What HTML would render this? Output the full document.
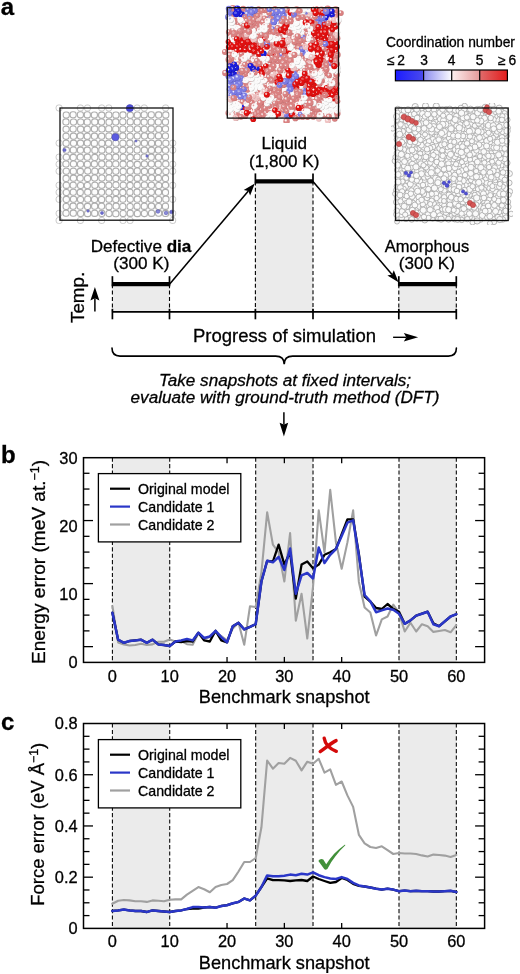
<!DOCTYPE html>
<html><head><meta charset="utf-8"><title>Figure</title>
<style>
html,body{margin:0;padding:0;background:#fff;width:520px;height:974px;overflow:hidden;}
svg{display:block;filter:blur(0.3px);}
text{font-family:"Liberation Sans",Arial,sans-serif;fill:#000;stroke:#000;stroke-width:0.3px;}
</style></head><body>
<svg width="520" height="974" viewBox="0 0 520 974">
<defs><clipPath id="clipC"><rect x="55" y="103" width="124" height="122"/></clipPath></defs>
<g clip-path="url(#clipC)">
<rect x="56.1" y="104.97" width="6" height="6" rx="2.4" fill="#fff" stroke="#c4c4c4" stroke-width="0.9"/>
<rect x="77.4" y="104.97" width="6" height="6" rx="2.4" fill="#fff" stroke="#c4c4c4" stroke-width="0.9"/>
<rect x="84.5" y="104.97" width="6" height="6" rx="2.4" fill="#fff" stroke="#c4c4c4" stroke-width="0.9"/>
<rect x="98.7" y="104.97" width="6" height="6" rx="2.4" fill="#fff" stroke="#c4c4c4" stroke-width="0.9"/>
<rect x="105.8" y="104.97" width="6" height="6" rx="2.4" fill="#fff" stroke="#c4c4c4" stroke-width="0.9"/>
<rect x="127.1" y="104.97" width="6" height="6" rx="2.4" fill="#fff" stroke="#c4c4c4" stroke-width="0.9"/>
<rect x="134.2" y="104.97" width="6" height="6" rx="2.4" fill="#fff" stroke="#c4c4c4" stroke-width="0.9"/>
<rect x="141.3" y="104.97" width="6" height="6" rx="2.4" fill="#fff" stroke="#c4c4c4" stroke-width="0.9"/>
<rect x="162.6" y="104.97" width="6" height="6" rx="2.4" fill="#fff" stroke="#c4c4c4" stroke-width="0.9"/>
<rect x="63.23" y="112.01" width="6.1" height="6.1" rx="2.5" fill="#fdfdfd" stroke="#adadad" stroke-width="1.1"/>
<rect x="70.08" y="111.71" width="6.1" height="6.1" rx="2.5" fill="#fdfdfd" stroke="#adadad" stroke-width="1.1"/>
<rect x="77.36" y="111.73" width="6.1" height="6.1" rx="2.5" fill="#fdfdfd" stroke="#adadad" stroke-width="1.1"/>
<rect x="84.3" y="111.82" width="6.1" height="6.1" rx="2.5" fill="#fdfdfd" stroke="#adadad" stroke-width="1.1"/>
<rect x="91.32" y="111.93" width="6.1" height="6.1" rx="2.5" fill="#fdfdfd" stroke="#adadad" stroke-width="1.1"/>
<rect x="98.62" y="112.12" width="6.1" height="6.1" rx="2.5" fill="#fdfdfd" stroke="#adadad" stroke-width="1.1"/>
<rect x="105.76" y="112.02" width="6.1" height="6.1" rx="2.5" fill="#fdfdfd" stroke="#adadad" stroke-width="1.1"/>
<rect x="112.85" y="112.03" width="6.1" height="6.1" rx="2.5" fill="#fdfdfd" stroke="#adadad" stroke-width="1.1"/>
<rect x="119.93" y="111.84" width="6.1" height="6.1" rx="2.5" fill="#fdfdfd" stroke="#adadad" stroke-width="1.1"/>
<rect x="127.3" y="112.2" width="6.1" height="6.1" rx="2.5" fill="#fdfdfd" stroke="#adadad" stroke-width="1.1"/>
<rect x="134.32" y="112.05" width="6.1" height="6.1" rx="2.5" fill="#fdfdfd" stroke="#adadad" stroke-width="1.1"/>
<rect x="141.16" y="111.81" width="6.1" height="6.1" rx="2.5" fill="#fdfdfd" stroke="#adadad" stroke-width="1.1"/>
<rect x="148.24" y="111.74" width="6.1" height="6.1" rx="2.5" fill="#fdfdfd" stroke="#adadad" stroke-width="1.1"/>
<rect x="155.58" y="111.9" width="6.1" height="6.1" rx="2.5" fill="#fdfdfd" stroke="#adadad" stroke-width="1.1"/>
<rect x="162.72" y="111.89" width="6.1" height="6.1" rx="2.5" fill="#fdfdfd" stroke="#adadad" stroke-width="1.1"/>
<rect x="62.9" y="118.83" width="6.1" height="6.1" rx="2.5" fill="#fdfdfd" stroke="#adadad" stroke-width="1.1"/>
<rect x="70.46" y="118.96" width="6.1" height="6.1" rx="2.5" fill="#fdfdfd" stroke="#adadad" stroke-width="1.1"/>
<rect x="77.59" y="118.93" width="6.1" height="6.1" rx="2.5" fill="#fdfdfd" stroke="#adadad" stroke-width="1.1"/>
<rect x="84.24" y="119.04" width="6.1" height="6.1" rx="2.5" fill="#fdfdfd" stroke="#adadad" stroke-width="1.1"/>
<rect x="91.69" y="118.86" width="6.1" height="6.1" rx="2.5" fill="#fdfdfd" stroke="#adadad" stroke-width="1.1"/>
<rect x="98.44" y="118.9" width="6.1" height="6.1" rx="2.5" fill="#fdfdfd" stroke="#adadad" stroke-width="1.1"/>
<rect x="105.98" y="119.11" width="6.1" height="6.1" rx="2.5" fill="#fdfdfd" stroke="#adadad" stroke-width="1.1"/>
<rect x="112.66" y="118.85" width="6.1" height="6.1" rx="2.5" fill="#fdfdfd" stroke="#adadad" stroke-width="1.1"/>
<rect x="119.75" y="118.76" width="6.1" height="6.1" rx="2.5" fill="#fdfdfd" stroke="#adadad" stroke-width="1.1"/>
<rect x="127.2" y="118.82" width="6.1" height="6.1" rx="2.5" fill="#fdfdfd" stroke="#adadad" stroke-width="1.1"/>
<rect x="134.18" y="118.95" width="6.1" height="6.1" rx="2.5" fill="#fdfdfd" stroke="#adadad" stroke-width="1.1"/>
<rect x="141.1" y="119.1" width="6.1" height="6.1" rx="2.5" fill="#fdfdfd" stroke="#adadad" stroke-width="1.1"/>
<rect x="148.17" y="119.05" width="6.1" height="6.1" rx="2.5" fill="#fdfdfd" stroke="#adadad" stroke-width="1.1"/>
<rect x="155.26" y="118.94" width="6.1" height="6.1" rx="2.5" fill="#fdfdfd" stroke="#adadad" stroke-width="1.1"/>
<rect x="162.41" y="118.86" width="6.1" height="6.1" rx="2.5" fill="#fdfdfd" stroke="#adadad" stroke-width="1.1"/>
<rect x="63.05" y="126.2" width="6.1" height="6.1" rx="2.5" fill="#fdfdfd" stroke="#adadad" stroke-width="1.1"/>
<rect x="70.11" y="125.96" width="6.1" height="6.1" rx="2.5" fill="#fdfdfd" stroke="#adadad" stroke-width="1.1"/>
<rect x="77.53" y="126.08" width="6.1" height="6.1" rx="2.5" fill="#fdfdfd" stroke="#adadad" stroke-width="1.1"/>
<rect x="84.25" y="126.25" width="6.1" height="6.1" rx="2.5" fill="#fdfdfd" stroke="#adadad" stroke-width="1.1"/>
<rect x="91.41" y="125.89" width="6.1" height="6.1" rx="2.5" fill="#fdfdfd" stroke="#adadad" stroke-width="1.1"/>
<rect x="98.79" y="125.92" width="6.1" height="6.1" rx="2.5" fill="#fdfdfd" stroke="#adadad" stroke-width="1.1"/>
<rect x="105.65" y="125.8" width="6.1" height="6.1" rx="2.5" fill="#fdfdfd" stroke="#adadad" stroke-width="1.1"/>
<rect x="112.65" y="126.05" width="6.1" height="6.1" rx="2.5" fill="#fdfdfd" stroke="#adadad" stroke-width="1.1"/>
<rect x="119.82" y="126.06" width="6.1" height="6.1" rx="2.5" fill="#fdfdfd" stroke="#adadad" stroke-width="1.1"/>
<rect x="126.99" y="125.99" width="6.1" height="6.1" rx="2.5" fill="#fdfdfd" stroke="#adadad" stroke-width="1.1"/>
<rect x="134.38" y="126" width="6.1" height="6.1" rx="2.5" fill="#fdfdfd" stroke="#adadad" stroke-width="1.1"/>
<rect x="141.29" y="126.19" width="6.1" height="6.1" rx="2.5" fill="#fdfdfd" stroke="#adadad" stroke-width="1.1"/>
<rect x="148.19" y="125.84" width="6.1" height="6.1" rx="2.5" fill="#fdfdfd" stroke="#adadad" stroke-width="1.1"/>
<rect x="155.65" y="126.17" width="6.1" height="6.1" rx="2.5" fill="#fdfdfd" stroke="#adadad" stroke-width="1.1"/>
<rect x="162.42" y="125.85" width="6.1" height="6.1" rx="2.5" fill="#fdfdfd" stroke="#adadad" stroke-width="1.1"/>
<rect x="63" y="133.27" width="6.1" height="6.1" rx="2.5" fill="#fdfdfd" stroke="#adadad" stroke-width="1.1"/>
<rect x="70.44" y="133.09" width="6.1" height="6.1" rx="2.5" fill="#fdfdfd" stroke="#adadad" stroke-width="1.1"/>
<rect x="77.31" y="132.84" width="6.1" height="6.1" rx="2.5" fill="#fdfdfd" stroke="#adadad" stroke-width="1.1"/>
<rect x="84.22" y="133.27" width="6.1" height="6.1" rx="2.5" fill="#fdfdfd" stroke="#adadad" stroke-width="1.1"/>
<rect x="91.42" y="133.14" width="6.1" height="6.1" rx="2.5" fill="#fdfdfd" stroke="#adadad" stroke-width="1.1"/>
<rect x="98.53" y="133.2" width="6.1" height="6.1" rx="2.5" fill="#fdfdfd" stroke="#adadad" stroke-width="1.1"/>
<rect x="105.8" y="132.94" width="6.1" height="6.1" rx="2.5" fill="#fdfdfd" stroke="#adadad" stroke-width="1.1"/>
<rect x="112.69" y="133.15" width="6.1" height="6.1" rx="2.5" fill="#fdfdfd" stroke="#adadad" stroke-width="1.1"/>
<rect x="119.73" y="132.9" width="6.1" height="6.1" rx="2.5" fill="#fdfdfd" stroke="#adadad" stroke-width="1.1"/>
<rect x="127.08" y="133.22" width="6.1" height="6.1" rx="2.5" fill="#fdfdfd" stroke="#adadad" stroke-width="1.1"/>
<rect x="134.21" y="132.93" width="6.1" height="6.1" rx="2.5" fill="#fdfdfd" stroke="#adadad" stroke-width="1.1"/>
<rect x="141.46" y="132.89" width="6.1" height="6.1" rx="2.5" fill="#fdfdfd" stroke="#adadad" stroke-width="1.1"/>
<rect x="148.11" y="132.92" width="6.1" height="6.1" rx="2.5" fill="#fdfdfd" stroke="#adadad" stroke-width="1.1"/>
<rect x="155.42" y="132.82" width="6.1" height="6.1" rx="2.5" fill="#fdfdfd" stroke="#adadad" stroke-width="1.1"/>
<rect x="162.39" y="132.97" width="6.1" height="6.1" rx="2.5" fill="#fdfdfd" stroke="#adadad" stroke-width="1.1"/>
<rect x="56.1" y="140.12" width="6" height="6" rx="2.4" fill="#fff" stroke="#c4c4c4" stroke-width="0.9"/>
<rect x="63.08" y="140.27" width="6.1" height="6.1" rx="2.5" fill="#fdfdfd" stroke="#adadad" stroke-width="1.1"/>
<rect x="70.49" y="140.15" width="6.1" height="6.1" rx="2.5" fill="#fdfdfd" stroke="#adadad" stroke-width="1.1"/>
<rect x="77.45" y="140.11" width="6.1" height="6.1" rx="2.5" fill="#fdfdfd" stroke="#adadad" stroke-width="1.1"/>
<rect x="84.27" y="139.84" width="6.1" height="6.1" rx="2.5" fill="#fdfdfd" stroke="#adadad" stroke-width="1.1"/>
<rect x="91.31" y="140.28" width="6.1" height="6.1" rx="2.5" fill="#fdfdfd" stroke="#adadad" stroke-width="1.1"/>
<rect x="98.75" y="140.3" width="6.1" height="6.1" rx="2.5" fill="#fdfdfd" stroke="#adadad" stroke-width="1.1"/>
<rect x="105.51" y="140.14" width="6.1" height="6.1" rx="2.5" fill="#fdfdfd" stroke="#adadad" stroke-width="1.1"/>
<rect x="112.84" y="140.19" width="6.1" height="6.1" rx="2.5" fill="#fdfdfd" stroke="#adadad" stroke-width="1.1"/>
<rect x="119.86" y="140.32" width="6.1" height="6.1" rx="2.5" fill="#fdfdfd" stroke="#adadad" stroke-width="1.1"/>
<rect x="126.84" y="140.09" width="6.1" height="6.1" rx="2.5" fill="#fdfdfd" stroke="#adadad" stroke-width="1.1"/>
<rect x="134.27" y="140.27" width="6.1" height="6.1" rx="2.5" fill="#fdfdfd" stroke="#adadad" stroke-width="1.1"/>
<rect x="141.37" y="140.17" width="6.1" height="6.1" rx="2.5" fill="#fdfdfd" stroke="#adadad" stroke-width="1.1"/>
<rect x="148.5" y="140.28" width="6.1" height="6.1" rx="2.5" fill="#fdfdfd" stroke="#adadad" stroke-width="1.1"/>
<rect x="155.38" y="140.16" width="6.1" height="6.1" rx="2.5" fill="#fdfdfd" stroke="#adadad" stroke-width="1.1"/>
<rect x="162.75" y="140.26" width="6.1" height="6.1" rx="2.5" fill="#fdfdfd" stroke="#adadad" stroke-width="1.1"/>
<rect x="169.7" y="140.12" width="6" height="6" rx="2.4" fill="#fff" stroke="#c4c4c4" stroke-width="0.9"/>
<rect x="63.33" y="147.14" width="6.1" height="6.1" rx="2.5" fill="#fdfdfd" stroke="#adadad" stroke-width="1.1"/>
<rect x="70.31" y="147.04" width="6.1" height="6.1" rx="2.5" fill="#fdfdfd" stroke="#adadad" stroke-width="1.1"/>
<rect x="77.39" y="147.15" width="6.1" height="6.1" rx="2.5" fill="#fdfdfd" stroke="#adadad" stroke-width="1.1"/>
<rect x="84.24" y="147.17" width="6.1" height="6.1" rx="2.5" fill="#fdfdfd" stroke="#adadad" stroke-width="1.1"/>
<rect x="91.8" y="147.29" width="6.1" height="6.1" rx="2.5" fill="#fdfdfd" stroke="#adadad" stroke-width="1.1"/>
<rect x="98.76" y="147.04" width="6.1" height="6.1" rx="2.5" fill="#fdfdfd" stroke="#adadad" stroke-width="1.1"/>
<rect x="105.87" y="147.14" width="6.1" height="6.1" rx="2.5" fill="#fdfdfd" stroke="#adadad" stroke-width="1.1"/>
<rect x="112.82" y="147.27" width="6.1" height="6.1" rx="2.5" fill="#fdfdfd" stroke="#adadad" stroke-width="1.1"/>
<rect x="119.74" y="147.23" width="6.1" height="6.1" rx="2.5" fill="#fdfdfd" stroke="#adadad" stroke-width="1.1"/>
<rect x="126.81" y="147.15" width="6.1" height="6.1" rx="2.5" fill="#fdfdfd" stroke="#adadad" stroke-width="1.1"/>
<rect x="134.14" y="146.97" width="6.1" height="6.1" rx="2.5" fill="#fdfdfd" stroke="#adadad" stroke-width="1.1"/>
<rect x="141.35" y="147.1" width="6.1" height="6.1" rx="2.5" fill="#fdfdfd" stroke="#adadad" stroke-width="1.1"/>
<rect x="148.41" y="147.31" width="6.1" height="6.1" rx="2.5" fill="#fdfdfd" stroke="#adadad" stroke-width="1.1"/>
<rect x="155.33" y="146.86" width="6.1" height="6.1" rx="2.5" fill="#fdfdfd" stroke="#adadad" stroke-width="1.1"/>
<rect x="162.45" y="147.19" width="6.1" height="6.1" rx="2.5" fill="#fdfdfd" stroke="#adadad" stroke-width="1.1"/>
<rect x="169.7" y="147.15" width="6" height="6" rx="2.4" fill="#fff" stroke="#c4c4c4" stroke-width="0.9"/>
<rect x="56.1" y="154.18" width="6" height="6" rx="2.4" fill="#fff" stroke="#c4c4c4" stroke-width="0.9"/>
<rect x="63.35" y="154.21" width="6.1" height="6.1" rx="2.5" fill="#fdfdfd" stroke="#adadad" stroke-width="1.1"/>
<rect x="70.22" y="154.33" width="6.1" height="6.1" rx="2.5" fill="#fdfdfd" stroke="#adadad" stroke-width="1.1"/>
<rect x="77.26" y="154.21" width="6.1" height="6.1" rx="2.5" fill="#fdfdfd" stroke="#adadad" stroke-width="1.1"/>
<rect x="84.3" y="154.1" width="6.1" height="6.1" rx="2.5" fill="#fdfdfd" stroke="#adadad" stroke-width="1.1"/>
<rect x="91.7" y="154.34" width="6.1" height="6.1" rx="2.5" fill="#fdfdfd" stroke="#adadad" stroke-width="1.1"/>
<rect x="98.84" y="154.07" width="6.1" height="6.1" rx="2.5" fill="#fdfdfd" stroke="#adadad" stroke-width="1.1"/>
<rect x="105.79" y="154.04" width="6.1" height="6.1" rx="2.5" fill="#fdfdfd" stroke="#adadad" stroke-width="1.1"/>
<rect x="112.67" y="154.13" width="6.1" height="6.1" rx="2.5" fill="#fdfdfd" stroke="#adadad" stroke-width="1.1"/>
<rect x="120.12" y="154.3" width="6.1" height="6.1" rx="2.5" fill="#fdfdfd" stroke="#adadad" stroke-width="1.1"/>
<rect x="127.16" y="154.36" width="6.1" height="6.1" rx="2.5" fill="#fdfdfd" stroke="#adadad" stroke-width="1.1"/>
<rect x="134.04" y="153.96" width="6.1" height="6.1" rx="2.5" fill="#fdfdfd" stroke="#adadad" stroke-width="1.1"/>
<rect x="141.23" y="154.02" width="6.1" height="6.1" rx="2.5" fill="#fdfdfd" stroke="#adadad" stroke-width="1.1"/>
<rect x="148.21" y="154.09" width="6.1" height="6.1" rx="2.5" fill="#fdfdfd" stroke="#adadad" stroke-width="1.1"/>
<rect x="155.51" y="154.13" width="6.1" height="6.1" rx="2.5" fill="#fdfdfd" stroke="#adadad" stroke-width="1.1"/>
<rect x="162.46" y="154.3" width="6.1" height="6.1" rx="2.5" fill="#fdfdfd" stroke="#adadad" stroke-width="1.1"/>
<rect x="56.1" y="161.21" width="6" height="6" rx="2.4" fill="#fff" stroke="#c4c4c4" stroke-width="0.9"/>
<rect x="62.94" y="160.93" width="6.1" height="6.1" rx="2.5" fill="#fdfdfd" stroke="#adadad" stroke-width="1.1"/>
<rect x="70.44" y="160.93" width="6.1" height="6.1" rx="2.5" fill="#fdfdfd" stroke="#adadad" stroke-width="1.1"/>
<rect x="77.45" y="161.2" width="6.1" height="6.1" rx="2.5" fill="#fdfdfd" stroke="#adadad" stroke-width="1.1"/>
<rect x="84.35" y="161.31" width="6.1" height="6.1" rx="2.5" fill="#fdfdfd" stroke="#adadad" stroke-width="1.1"/>
<rect x="91.31" y="160.98" width="6.1" height="6.1" rx="2.5" fill="#fdfdfd" stroke="#adadad" stroke-width="1.1"/>
<rect x="98.63" y="160.92" width="6.1" height="6.1" rx="2.5" fill="#fdfdfd" stroke="#adadad" stroke-width="1.1"/>
<rect x="105.91" y="161.03" width="6.1" height="6.1" rx="2.5" fill="#fdfdfd" stroke="#adadad" stroke-width="1.1"/>
<rect x="112.67" y="160.93" width="6.1" height="6.1" rx="2.5" fill="#fdfdfd" stroke="#adadad" stroke-width="1.1"/>
<rect x="120.01" y="161.13" width="6.1" height="6.1" rx="2.5" fill="#fdfdfd" stroke="#adadad" stroke-width="1.1"/>
<rect x="127.11" y="161.24" width="6.1" height="6.1" rx="2.5" fill="#fdfdfd" stroke="#adadad" stroke-width="1.1"/>
<rect x="134.3" y="161.39" width="6.1" height="6.1" rx="2.5" fill="#fdfdfd" stroke="#adadad" stroke-width="1.1"/>
<rect x="141.34" y="161.01" width="6.1" height="6.1" rx="2.5" fill="#fdfdfd" stroke="#adadad" stroke-width="1.1"/>
<rect x="148.34" y="161" width="6.1" height="6.1" rx="2.5" fill="#fdfdfd" stroke="#adadad" stroke-width="1.1"/>
<rect x="155.21" y="161.15" width="6.1" height="6.1" rx="2.5" fill="#fdfdfd" stroke="#adadad" stroke-width="1.1"/>
<rect x="162.66" y="161" width="6.1" height="6.1" rx="2.5" fill="#fdfdfd" stroke="#adadad" stroke-width="1.1"/>
<rect x="169.7" y="161.21" width="6" height="6" rx="2.4" fill="#fff" stroke="#c4c4c4" stroke-width="0.9"/>
<rect x="56.1" y="168.24" width="6" height="6" rx="2.4" fill="#fff" stroke="#c4c4c4" stroke-width="0.9"/>
<rect x="63.25" y="168.2" width="6.1" height="6.1" rx="2.5" fill="#fdfdfd" stroke="#adadad" stroke-width="1.1"/>
<rect x="70.31" y="168.32" width="6.1" height="6.1" rx="2.5" fill="#fdfdfd" stroke="#adadad" stroke-width="1.1"/>
<rect x="77.3" y="168.34" width="6.1" height="6.1" rx="2.5" fill="#fdfdfd" stroke="#adadad" stroke-width="1.1"/>
<rect x="84.65" y="167.98" width="6.1" height="6.1" rx="2.5" fill="#fdfdfd" stroke="#adadad" stroke-width="1.1"/>
<rect x="91.77" y="168.3" width="6.1" height="6.1" rx="2.5" fill="#fdfdfd" stroke="#adadad" stroke-width="1.1"/>
<rect x="98.46" y="168.17" width="6.1" height="6.1" rx="2.5" fill="#fdfdfd" stroke="#adadad" stroke-width="1.1"/>
<rect x="105.81" y="168.39" width="6.1" height="6.1" rx="2.5" fill="#fdfdfd" stroke="#adadad" stroke-width="1.1"/>
<rect x="112.79" y="168.22" width="6.1" height="6.1" rx="2.5" fill="#fdfdfd" stroke="#adadad" stroke-width="1.1"/>
<rect x="120.14" y="168.34" width="6.1" height="6.1" rx="2.5" fill="#fdfdfd" stroke="#adadad" stroke-width="1.1"/>
<rect x="127.27" y="168.17" width="6.1" height="6.1" rx="2.5" fill="#fdfdfd" stroke="#adadad" stroke-width="1.1"/>
<rect x="134.23" y="168.04" width="6.1" height="6.1" rx="2.5" fill="#fdfdfd" stroke="#adadad" stroke-width="1.1"/>
<rect x="141.36" y="168.35" width="6.1" height="6.1" rx="2.5" fill="#fdfdfd" stroke="#adadad" stroke-width="1.1"/>
<rect x="148.42" y="168.3" width="6.1" height="6.1" rx="2.5" fill="#fdfdfd" stroke="#adadad" stroke-width="1.1"/>
<rect x="155.31" y="168.39" width="6.1" height="6.1" rx="2.5" fill="#fdfdfd" stroke="#adadad" stroke-width="1.1"/>
<rect x="162.79" y="168.43" width="6.1" height="6.1" rx="2.5" fill="#fdfdfd" stroke="#adadad" stroke-width="1.1"/>
<rect x="169.7" y="168.24" width="6" height="6" rx="2.4" fill="#fff" stroke="#c4c4c4" stroke-width="0.9"/>
<rect x="63.06" y="175.42" width="6.1" height="6.1" rx="2.5" fill="#fdfdfd" stroke="#adadad" stroke-width="1.1"/>
<rect x="70.43" y="175.14" width="6.1" height="6.1" rx="2.5" fill="#fdfdfd" stroke="#adadad" stroke-width="1.1"/>
<rect x="77.14" y="175.19" width="6.1" height="6.1" rx="2.5" fill="#fdfdfd" stroke="#adadad" stroke-width="1.1"/>
<rect x="84.48" y="175.35" width="6.1" height="6.1" rx="2.5" fill="#fdfdfd" stroke="#adadad" stroke-width="1.1"/>
<rect x="91.54" y="174.98" width="6.1" height="6.1" rx="2.5" fill="#fdfdfd" stroke="#adadad" stroke-width="1.1"/>
<rect x="98.8" y="175" width="6.1" height="6.1" rx="2.5" fill="#fdfdfd" stroke="#adadad" stroke-width="1.1"/>
<rect x="105.9" y="175.06" width="6.1" height="6.1" rx="2.5" fill="#fdfdfd" stroke="#adadad" stroke-width="1.1"/>
<rect x="112.77" y="175.36" width="6.1" height="6.1" rx="2.5" fill="#fdfdfd" stroke="#adadad" stroke-width="1.1"/>
<rect x="119.77" y="175.04" width="6.1" height="6.1" rx="2.5" fill="#fdfdfd" stroke="#adadad" stroke-width="1.1"/>
<rect x="127.06" y="175.33" width="6.1" height="6.1" rx="2.5" fill="#fdfdfd" stroke="#adadad" stroke-width="1.1"/>
<rect x="134.32" y="175.31" width="6.1" height="6.1" rx="2.5" fill="#fdfdfd" stroke="#adadad" stroke-width="1.1"/>
<rect x="141.47" y="175.22" width="6.1" height="6.1" rx="2.5" fill="#fdfdfd" stroke="#adadad" stroke-width="1.1"/>
<rect x="148.57" y="175.01" width="6.1" height="6.1" rx="2.5" fill="#fdfdfd" stroke="#adadad" stroke-width="1.1"/>
<rect x="155.31" y="175.23" width="6.1" height="6.1" rx="2.5" fill="#fdfdfd" stroke="#adadad" stroke-width="1.1"/>
<rect x="162.45" y="175.33" width="6.1" height="6.1" rx="2.5" fill="#fdfdfd" stroke="#adadad" stroke-width="1.1"/>
<rect x="56.1" y="182.3" width="6" height="6" rx="2.4" fill="#fff" stroke="#c4c4c4" stroke-width="0.9"/>
<rect x="63.32" y="182.28" width="6.1" height="6.1" rx="2.5" fill="#fdfdfd" stroke="#adadad" stroke-width="1.1"/>
<rect x="70.16" y="182.19" width="6.1" height="6.1" rx="2.5" fill="#fdfdfd" stroke="#adadad" stroke-width="1.1"/>
<rect x="77.52" y="182.45" width="6.1" height="6.1" rx="2.5" fill="#fdfdfd" stroke="#adadad" stroke-width="1.1"/>
<rect x="84.3" y="182.43" width="6.1" height="6.1" rx="2.5" fill="#fdfdfd" stroke="#adadad" stroke-width="1.1"/>
<rect x="91.78" y="182.26" width="6.1" height="6.1" rx="2.5" fill="#fdfdfd" stroke="#adadad" stroke-width="1.1"/>
<rect x="98.69" y="182.1" width="6.1" height="6.1" rx="2.5" fill="#fdfdfd" stroke="#adadad" stroke-width="1.1"/>
<rect x="105.77" y="182.25" width="6.1" height="6.1" rx="2.5" fill="#fdfdfd" stroke="#adadad" stroke-width="1.1"/>
<rect x="112.9" y="182.01" width="6.1" height="6.1" rx="2.5" fill="#fdfdfd" stroke="#adadad" stroke-width="1.1"/>
<rect x="120.18" y="182.26" width="6.1" height="6.1" rx="2.5" fill="#fdfdfd" stroke="#adadad" stroke-width="1.1"/>
<rect x="127" y="182.4" width="6.1" height="6.1" rx="2.5" fill="#fdfdfd" stroke="#adadad" stroke-width="1.1"/>
<rect x="134.18" y="182.25" width="6.1" height="6.1" rx="2.5" fill="#fdfdfd" stroke="#adadad" stroke-width="1.1"/>
<rect x="141.35" y="182.03" width="6.1" height="6.1" rx="2.5" fill="#fdfdfd" stroke="#adadad" stroke-width="1.1"/>
<rect x="148.37" y="182.21" width="6.1" height="6.1" rx="2.5" fill="#fdfdfd" stroke="#adadad" stroke-width="1.1"/>
<rect x="155.68" y="182.46" width="6.1" height="6.1" rx="2.5" fill="#fdfdfd" stroke="#adadad" stroke-width="1.1"/>
<rect x="162.43" y="182.24" width="6.1" height="6.1" rx="2.5" fill="#fdfdfd" stroke="#adadad" stroke-width="1.1"/>
<rect x="169.7" y="182.3" width="6" height="6" rx="2.4" fill="#fff" stroke="#c4c4c4" stroke-width="0.9"/>
<rect x="56.1" y="189.33" width="6" height="6" rx="2.4" fill="#fff" stroke="#c4c4c4" stroke-width="0.9"/>
<rect x="63.31" y="189.48" width="6.1" height="6.1" rx="2.5" fill="#fdfdfd" stroke="#adadad" stroke-width="1.1"/>
<rect x="70.24" y="189.19" width="6.1" height="6.1" rx="2.5" fill="#fdfdfd" stroke="#adadad" stroke-width="1.1"/>
<rect x="77.2" y="189.34" width="6.1" height="6.1" rx="2.5" fill="#fdfdfd" stroke="#adadad" stroke-width="1.1"/>
<rect x="84.66" y="189.09" width="6.1" height="6.1" rx="2.5" fill="#fdfdfd" stroke="#adadad" stroke-width="1.1"/>
<rect x="91.69" y="189.04" width="6.1" height="6.1" rx="2.5" fill="#fdfdfd" stroke="#adadad" stroke-width="1.1"/>
<rect x="98.5" y="189.14" width="6.1" height="6.1" rx="2.5" fill="#fdfdfd" stroke="#adadad" stroke-width="1.1"/>
<rect x="105.84" y="189.19" width="6.1" height="6.1" rx="2.5" fill="#fdfdfd" stroke="#adadad" stroke-width="1.1"/>
<rect x="112.78" y="189.34" width="6.1" height="6.1" rx="2.5" fill="#fdfdfd" stroke="#adadad" stroke-width="1.1"/>
<rect x="119.75" y="189.4" width="6.1" height="6.1" rx="2.5" fill="#fdfdfd" stroke="#adadad" stroke-width="1.1"/>
<rect x="126.86" y="189.29" width="6.1" height="6.1" rx="2.5" fill="#fdfdfd" stroke="#adadad" stroke-width="1.1"/>
<rect x="134.03" y="189.13" width="6.1" height="6.1" rx="2.5" fill="#fdfdfd" stroke="#adadad" stroke-width="1.1"/>
<rect x="141.27" y="189.25" width="6.1" height="6.1" rx="2.5" fill="#fdfdfd" stroke="#adadad" stroke-width="1.1"/>
<rect x="148.29" y="189.24" width="6.1" height="6.1" rx="2.5" fill="#fdfdfd" stroke="#adadad" stroke-width="1.1"/>
<rect x="155.46" y="189.11" width="6.1" height="6.1" rx="2.5" fill="#fdfdfd" stroke="#adadad" stroke-width="1.1"/>
<rect x="162.4" y="189.35" width="6.1" height="6.1" rx="2.5" fill="#fdfdfd" stroke="#adadad" stroke-width="1.1"/>
<rect x="56.1" y="196.36" width="6" height="6" rx="2.4" fill="#fff" stroke="#c4c4c4" stroke-width="0.9"/>
<rect x="63.33" y="196.37" width="6.1" height="6.1" rx="2.5" fill="#fdfdfd" stroke="#adadad" stroke-width="1.1"/>
<rect x="70.43" y="196.18" width="6.1" height="6.1" rx="2.5" fill="#fdfdfd" stroke="#adadad" stroke-width="1.1"/>
<rect x="77.47" y="196.47" width="6.1" height="6.1" rx="2.5" fill="#fdfdfd" stroke="#adadad" stroke-width="1.1"/>
<rect x="84.65" y="196.22" width="6.1" height="6.1" rx="2.5" fill="#fdfdfd" stroke="#adadad" stroke-width="1.1"/>
<rect x="91.46" y="196.52" width="6.1" height="6.1" rx="2.5" fill="#fdfdfd" stroke="#adadad" stroke-width="1.1"/>
<rect x="98.51" y="196.56" width="6.1" height="6.1" rx="2.5" fill="#fdfdfd" stroke="#adadad" stroke-width="1.1"/>
<rect x="105.94" y="196.13" width="6.1" height="6.1" rx="2.5" fill="#fdfdfd" stroke="#adadad" stroke-width="1.1"/>
<rect x="112.72" y="196.42" width="6.1" height="6.1" rx="2.5" fill="#fdfdfd" stroke="#adadad" stroke-width="1.1"/>
<rect x="119.83" y="196.11" width="6.1" height="6.1" rx="2.5" fill="#fdfdfd" stroke="#adadad" stroke-width="1.1"/>
<rect x="127.22" y="196.27" width="6.1" height="6.1" rx="2.5" fill="#fdfdfd" stroke="#adadad" stroke-width="1.1"/>
<rect x="134.29" y="196.12" width="6.1" height="6.1" rx="2.5" fill="#fdfdfd" stroke="#adadad" stroke-width="1.1"/>
<rect x="141.2" y="196.4" width="6.1" height="6.1" rx="2.5" fill="#fdfdfd" stroke="#adadad" stroke-width="1.1"/>
<rect x="148.11" y="196.16" width="6.1" height="6.1" rx="2.5" fill="#fdfdfd" stroke="#adadad" stroke-width="1.1"/>
<rect x="155.54" y="196.52" width="6.1" height="6.1" rx="2.5" fill="#fdfdfd" stroke="#adadad" stroke-width="1.1"/>
<rect x="162.78" y="196.12" width="6.1" height="6.1" rx="2.5" fill="#fdfdfd" stroke="#adadad" stroke-width="1.1"/>
<rect x="169.7" y="196.36" width="6" height="6" rx="2.4" fill="#fff" stroke="#c4c4c4" stroke-width="0.9"/>
<rect x="63.15" y="203.43" width="6.1" height="6.1" rx="2.5" fill="#fdfdfd" stroke="#adadad" stroke-width="1.1"/>
<rect x="70.09" y="203.13" width="6.1" height="6.1" rx="2.5" fill="#fdfdfd" stroke="#adadad" stroke-width="1.1"/>
<rect x="77.15" y="203.11" width="6.1" height="6.1" rx="2.5" fill="#fdfdfd" stroke="#adadad" stroke-width="1.1"/>
<rect x="84.48" y="203.35" width="6.1" height="6.1" rx="2.5" fill="#fdfdfd" stroke="#adadad" stroke-width="1.1"/>
<rect x="91.58" y="203.16" width="6.1" height="6.1" rx="2.5" fill="#fdfdfd" stroke="#adadad" stroke-width="1.1"/>
<rect x="98.49" y="203.19" width="6.1" height="6.1" rx="2.5" fill="#fdfdfd" stroke="#adadad" stroke-width="1.1"/>
<rect x="105.92" y="203.59" width="6.1" height="6.1" rx="2.5" fill="#fdfdfd" stroke="#adadad" stroke-width="1.1"/>
<rect x="113.06" y="203.14" width="6.1" height="6.1" rx="2.5" fill="#fdfdfd" stroke="#adadad" stroke-width="1.1"/>
<rect x="119.73" y="203.57" width="6.1" height="6.1" rx="2.5" fill="#fdfdfd" stroke="#adadad" stroke-width="1.1"/>
<rect x="127.03" y="203.47" width="6.1" height="6.1" rx="2.5" fill="#fdfdfd" stroke="#adadad" stroke-width="1.1"/>
<rect x="134.06" y="203.32" width="6.1" height="6.1" rx="2.5" fill="#fdfdfd" stroke="#adadad" stroke-width="1.1"/>
<rect x="141.26" y="203.31" width="6.1" height="6.1" rx="2.5" fill="#fdfdfd" stroke="#adadad" stroke-width="1.1"/>
<rect x="148.4" y="203.1" width="6.1" height="6.1" rx="2.5" fill="#fdfdfd" stroke="#adadad" stroke-width="1.1"/>
<rect x="155.55" y="203.51" width="6.1" height="6.1" rx="2.5" fill="#fdfdfd" stroke="#adadad" stroke-width="1.1"/>
<rect x="162.39" y="203.32" width="6.1" height="6.1" rx="2.5" fill="#fdfdfd" stroke="#adadad" stroke-width="1.1"/>
<rect x="56.1" y="210.42" width="6" height="6" rx="2.4" fill="#fff" stroke="#c4c4c4" stroke-width="0.9"/>
<rect x="63" y="210.2" width="6.1" height="6.1" rx="2.5" fill="#fdfdfd" stroke="#adadad" stroke-width="1.1"/>
<rect x="70.26" y="210.13" width="6.1" height="6.1" rx="2.5" fill="#fdfdfd" stroke="#adadad" stroke-width="1.1"/>
<rect x="77.55" y="210.52" width="6.1" height="6.1" rx="2.5" fill="#fdfdfd" stroke="#adadad" stroke-width="1.1"/>
<rect x="84.55" y="210.55" width="6.1" height="6.1" rx="2.5" fill="#fdfdfd" stroke="#adadad" stroke-width="1.1"/>
<rect x="91.61" y="210.32" width="6.1" height="6.1" rx="2.5" fill="#fdfdfd" stroke="#adadad" stroke-width="1.1"/>
<rect x="98.7" y="210.37" width="6.1" height="6.1" rx="2.5" fill="#fdfdfd" stroke="#adadad" stroke-width="1.1"/>
<rect x="105.99" y="210.52" width="6.1" height="6.1" rx="2.5" fill="#fdfdfd" stroke="#adadad" stroke-width="1.1"/>
<rect x="112.73" y="210.58" width="6.1" height="6.1" rx="2.5" fill="#fdfdfd" stroke="#adadad" stroke-width="1.1"/>
<rect x="120.07" y="210.51" width="6.1" height="6.1" rx="2.5" fill="#fdfdfd" stroke="#adadad" stroke-width="1.1"/>
<rect x="127.21" y="210.32" width="6.1" height="6.1" rx="2.5" fill="#fdfdfd" stroke="#adadad" stroke-width="1.1"/>
<rect x="134.35" y="210.56" width="6.1" height="6.1" rx="2.5" fill="#fdfdfd" stroke="#adadad" stroke-width="1.1"/>
<rect x="141.35" y="210.5" width="6.1" height="6.1" rx="2.5" fill="#fdfdfd" stroke="#adadad" stroke-width="1.1"/>
<rect x="148.48" y="210.32" width="6.1" height="6.1" rx="2.5" fill="#fdfdfd" stroke="#adadad" stroke-width="1.1"/>
<rect x="155.56" y="210.16" width="6.1" height="6.1" rx="2.5" fill="#fdfdfd" stroke="#adadad" stroke-width="1.1"/>
<rect x="162.47" y="210.35" width="6.1" height="6.1" rx="2.5" fill="#fdfdfd" stroke="#adadad" stroke-width="1.1"/>
<rect x="169.7" y="210.42" width="6" height="6" rx="2.4" fill="#fff" stroke="#c4c4c4" stroke-width="0.9"/>
<rect x="56.1" y="217.45" width="6" height="6" rx="2.4" fill="#fff" stroke="#c4c4c4" stroke-width="0.9"/>
<rect x="77.4" y="217.45" width="6" height="6" rx="2.4" fill="#fff" stroke="#c4c4c4" stroke-width="0.9"/>
<rect x="98.7" y="217.45" width="6" height="6" rx="2.4" fill="#fff" stroke="#c4c4c4" stroke-width="0.9"/>
<rect x="120" y="217.45" width="6" height="6" rx="2.4" fill="#fff" stroke="#c4c4c4" stroke-width="0.9"/>
<rect x="127.1" y="217.45" width="6" height="6" rx="2.4" fill="#fff" stroke="#c4c4c4" stroke-width="0.9"/>
<rect x="169.7" y="217.45" width="6" height="6" rx="2.4" fill="#fff" stroke="#c4c4c4" stroke-width="0.9"/>
<circle cx="115.4" cy="137.2" r="3.6" fill="#5b5be0" stroke="#4848b0" stroke-width="0.5"/>
<circle cx="129.8" cy="108.2" r="3.6" fill="#4a4ad8" stroke="#4848b0" stroke-width="0.5"/>
<circle cx="64.5" cy="150" r="1.6" fill="#6a6ad0" stroke="#4848b0" stroke-width="0.5"/>
<circle cx="102" cy="213" r="1.5" fill="#7070d0" stroke="#4848b0" stroke-width="0.5"/>
<circle cx="158" cy="211.5" r="1.8" fill="#8a8ad8" stroke="#4848b0" stroke-width="0.5"/>
<circle cx="166" cy="213" r="1.8" fill="#8a8ad8" stroke="#4848b0" stroke-width="0.5"/>
<circle cx="171.5" cy="212" r="1.8" fill="#6a6ad0" stroke="#4848b0" stroke-width="0.5"/>
<circle cx="147" cy="156" r="1.2" fill="#8080d8" stroke="#4848b0" stroke-width="0.5"/>
<circle cx="136" cy="141" r="1.1" fill="#8080d8" stroke="#4848b0" stroke-width="0.5"/>
<circle cx="88" cy="211" r="1.2" fill="#8080d8" stroke="#4848b0" stroke-width="0.5"/>
</g>
<rect x="60.0" y="108.0" width="113.0" height="112.19999999999999" fill="none" stroke="#111" stroke-width="1.3"/>
<defs><radialGradient id="gR" cx="0.38" cy="0.35" r="0.7"><stop offset="0" stop-color="#fff" stop-opacity="0.2"/><stop offset="0.35" stop-color="#e01010"/><stop offset="0.75" stop-color="#e01010"/><stop offset="1" stop-color="#b80a0a"/></radialGradient><radialGradient id="gP" cx="0.38" cy="0.35" r="0.7"><stop offset="0" stop-color="#fff" stop-opacity="0.2"/><stop offset="0.35" stop-color="#da8282"/><stop offset="0.75" stop-color="#da8282"/><stop offset="1" stop-color="#bf6a6a"/></radialGradient><radialGradient id="gL" cx="0.38" cy="0.35" r="0.7"><stop offset="0" stop-color="#fff" stop-opacity="0.2"/><stop offset="0.35" stop-color="#f0c4c4"/><stop offset="0.75" stop-color="#f0c4c4"/><stop offset="1" stop-color="#c89c9c"/></radialGradient><radialGradient id="gW" cx="0.38" cy="0.35" r="0.7"><stop offset="0" stop-color="#fff" stop-opacity="0.2"/><stop offset="0.35" stop-color="#fbfafa"/><stop offset="0.75" stop-color="#fbfafa"/><stop offset="1" stop-color="#bdb8b8"/></radialGradient><radialGradient id="gB" cx="0.38" cy="0.35" r="0.7"><stop offset="0" stop-color="#fff" stop-opacity="0.2"/><stop offset="0.35" stop-color="#7c7ce4"/><stop offset="0.75" stop-color="#7c7ce4"/><stop offset="1" stop-color="#5656b8"/></radialGradient><radialGradient id="gD" cx="0.38" cy="0.35" r="0.7"><stop offset="0" stop-color="#fff" stop-opacity="0.2"/><stop offset="0.35" stop-color="#1c1cdc"/><stop offset="0.75" stop-color="#1c1cdc"/><stop offset="1" stop-color="#10109a"/></radialGradient></defs>
<defs><clipPath id="clipL"><rect x="222" y="2" width="122" height="121"/></clipPath></defs>
<g clip-path="url(#clipL)">
<circle cx="302.19" cy="29.14" r="3.07" fill="url(#gW)"/>
<circle cx="308.49" cy="15.61" r="2.79" fill="url(#gP)"/>
<circle cx="288.79" cy="91.99" r="3.02" fill="url(#gB)"/>
<circle cx="251.62" cy="55.91" r="3.35" fill="url(#gP)"/>
<circle cx="277.67" cy="61.35" r="2.87" fill="url(#gP)"/>
<circle cx="287.56" cy="84.22" r="3.3" fill="url(#gB)"/>
<circle cx="304.35" cy="77.04" r="3.33" fill="url(#gR)"/>
<circle cx="292.67" cy="86.54" r="3.4" fill="url(#gB)"/>
<circle cx="318.91" cy="46.06" r="3.17" fill="url(#gR)"/>
<circle cx="329.8" cy="27.15" r="3.26" fill="url(#gR)"/>
<circle cx="258.65" cy="33.76" r="3.2" fill="url(#gW)"/>
<circle cx="259.82" cy="59.9" r="3.04" fill="url(#gL)"/>
<circle cx="237.18" cy="18.1" r="3.14" fill="url(#gW)"/>
<circle cx="241.53" cy="33.95" r="3.36" fill="url(#gP)"/>
<circle cx="323.22" cy="63.26" r="2.79" fill="url(#gP)"/>
<circle cx="253.36" cy="81.83" r="3.11" fill="url(#gW)"/>
<circle cx="317.33" cy="87.33" r="3.16" fill="url(#gR)"/>
<circle cx="323.23" cy="103.82" r="3.06" fill="url(#gW)"/>
<circle cx="232.39" cy="112.28" r="3.35" fill="url(#gW)"/>
<circle cx="276.12" cy="14.86" r="2.81" fill="url(#gB)"/>
<circle cx="230.99" cy="36.01" r="3.32" fill="url(#gP)"/>
<circle cx="270.57" cy="92.82" r="3.16" fill="url(#gP)"/>
<circle cx="329.55" cy="111.48" r="3.35" fill="url(#gW)"/>
<circle cx="291.76" cy="34.38" r="2.85" fill="url(#gP)"/>
<circle cx="260.08" cy="25.67" r="3.09" fill="url(#gW)"/>
<circle cx="327.46" cy="48.93" r="3.05" fill="url(#gP)"/>
<circle cx="329.41" cy="82.07" r="2.95" fill="url(#gP)"/>
<circle cx="296.51" cy="12.94" r="3.35" fill="url(#gB)"/>
<circle cx="306.2" cy="42.85" r="3.25" fill="url(#gW)"/>
<circle cx="290.63" cy="78.3" r="2.88" fill="url(#gB)"/>
<circle cx="233.92" cy="17.11" r="3.08" fill="url(#gW)"/>
<circle cx="325.14" cy="39.84" r="2.83" fill="url(#gR)"/>
<circle cx="273.51" cy="87.19" r="3.05" fill="url(#gP)"/>
<circle cx="232.37" cy="14.35" r="3.13" fill="url(#gP)"/>
<circle cx="336.19" cy="93.98" r="2.87" fill="url(#gR)"/>
<circle cx="330.33" cy="89.87" r="3.05" fill="url(#gR)"/>
<circle cx="317.31" cy="31.9" r="2.74" fill="url(#gR)"/>
<circle cx="256.27" cy="31.29" r="2.77" fill="url(#gW)"/>
<circle cx="273.63" cy="53.56" r="2.73" fill="url(#gR)"/>
<circle cx="302.74" cy="57.68" r="2.85" fill="url(#gP)"/>
<circle cx="237.08" cy="71.99" r="3.29" fill="url(#gD)"/>
<circle cx="265.76" cy="77.3" r="2.76" fill="url(#gR)"/>
<circle cx="294.46" cy="47.12" r="3.18" fill="url(#gP)"/>
<circle cx="287.64" cy="13.42" r="2.81" fill="url(#gL)"/>
<circle cx="230.72" cy="106.07" r="2.81" fill="url(#gW)"/>
<circle cx="246.64" cy="20.39" r="3" fill="url(#gP)"/>
<circle cx="323.82" cy="100.71" r="3.17" fill="url(#gW)"/>
<circle cx="238.5" cy="56.19" r="3" fill="url(#gW)"/>
<circle cx="289.9" cy="9.4" r="2.88" fill="url(#gW)"/>
<circle cx="296.57" cy="9.65" r="3.32" fill="url(#gP)"/>
<circle cx="261.41" cy="14.03" r="3.22" fill="url(#gP)"/>
<circle cx="229.5" cy="89.37" r="2.82" fill="url(#gB)"/>
<circle cx="275.99" cy="99.06" r="3.18" fill="url(#gW)"/>
<circle cx="320.38" cy="60.49" r="2.87" fill="url(#gR)"/>
<circle cx="250.52" cy="38.49" r="3.25" fill="url(#gP)"/>
<circle cx="242.31" cy="92.8" r="3.04" fill="url(#gB)"/>
<circle cx="315.23" cy="29.55" r="2.96" fill="url(#gR)"/>
<circle cx="275.91" cy="116.26" r="2.7" fill="url(#gR)"/>
<circle cx="229.96" cy="92.49" r="2.88" fill="url(#gB)"/>
<circle cx="228.36" cy="112.9" r="2.94" fill="url(#gP)"/>
<circle cx="333.5" cy="47.03" r="2.82" fill="url(#gR)"/>
<circle cx="282.56" cy="37.05" r="3.36" fill="url(#gP)"/>
<circle cx="327.67" cy="8.84" r="3.24" fill="url(#gP)"/>
<circle cx="275.17" cy="9.02" r="3.01" fill="url(#gP)"/>
<circle cx="293.83" cy="111.59" r="3.21" fill="url(#gP)"/>
<circle cx="290.07" cy="37.49" r="3.27" fill="url(#gP)"/>
<circle cx="257.24" cy="20.98" r="3.3" fill="url(#gP)"/>
<circle cx="248.24" cy="76.53" r="3.01" fill="url(#gL)"/>
<circle cx="288.82" cy="63.82" r="3.07" fill="url(#gP)"/>
<circle cx="300.51" cy="77.34" r="2.9" fill="url(#gR)"/>
<circle cx="278.1" cy="104.08" r="2.94" fill="url(#gP)"/>
<circle cx="281.67" cy="54.44" r="2.95" fill="url(#gB)"/>
<circle cx="298.23" cy="111.16" r="2.85" fill="url(#gW)"/>
<circle cx="299.21" cy="99.24" r="2.86" fill="url(#gP)"/>
<circle cx="315.86" cy="105.34" r="3.18" fill="url(#gP)"/>
<circle cx="323.96" cy="21.53" r="3.22" fill="url(#gB)"/>
<circle cx="285.28" cy="53.13" r="3.1" fill="url(#gR)"/>
<circle cx="305.26" cy="82.46" r="3.07" fill="url(#gR)"/>
<circle cx="258.46" cy="71.67" r="3.08" fill="url(#gR)"/>
<circle cx="269.92" cy="64.15" r="3.21" fill="url(#gP)"/>
<circle cx="302.64" cy="36.7" r="3.4" fill="url(#gB)"/>
<circle cx="287.19" cy="102.73" r="2.9" fill="url(#gP)"/>
<circle cx="305.31" cy="14.82" r="3.38" fill="url(#gL)"/>
<circle cx="276.84" cy="21.64" r="3.08" fill="url(#gB)"/>
<circle cx="294.73" cy="59.37" r="3.21" fill="url(#gW)"/>
<circle cx="337.11" cy="32.31" r="3.08" fill="url(#gW)"/>
<circle cx="270.42" cy="43.86" r="3.18" fill="url(#gP)"/>
<circle cx="233.25" cy="61.01" r="3.36" fill="url(#gP)"/>
<circle cx="236.3" cy="50.48" r="3" fill="url(#gR)"/>
<circle cx="256.72" cy="24.91" r="2.8" fill="url(#gP)"/>
<circle cx="276.8" cy="79.06" r="3.4" fill="url(#gR)"/>
<circle cx="281.23" cy="26.96" r="3.05" fill="url(#gR)"/>
<circle cx="228.63" cy="21.91" r="2.74" fill="url(#gW)"/>
<circle cx="321.63" cy="111.66" r="2.97" fill="url(#gW)"/>
<circle cx="239.49" cy="67.87" r="3.3" fill="url(#gP)"/>
<circle cx="249.61" cy="59.84" r="3.03" fill="url(#gP)"/>
<circle cx="306.03" cy="11.55" r="2.99" fill="url(#gB)"/>
<circle cx="319.04" cy="15.67" r="3.17" fill="url(#gR)"/>
<circle cx="234.96" cy="83.76" r="2.79" fill="url(#gB)"/>
<circle cx="249.01" cy="81.93" r="3.27" fill="url(#gP)"/>
<circle cx="293.39" cy="62.58" r="3.22" fill="url(#gW)"/>
<circle cx="245.01" cy="11.52" r="3.07" fill="url(#gW)"/>
<circle cx="234.17" cy="11.55" r="3.33" fill="url(#gD)"/>
<circle cx="263.47" cy="86.62" r="3.23" fill="url(#gW)"/>
<circle cx="276.07" cy="85.3" r="3.11" fill="url(#gL)"/>
<circle cx="330.53" cy="68.56" r="2.99" fill="url(#gW)"/>
<circle cx="334.03" cy="101.48" r="2.93" fill="url(#gW)"/>
<circle cx="229.86" cy="11.76" r="3.34" fill="url(#gB)"/>
<circle cx="230.26" cy="62.38" r="3.31" fill="url(#gP)"/>
<circle cx="336.13" cy="51.43" r="2.97" fill="url(#gR)"/>
<circle cx="279.35" cy="35.64" r="2.81" fill="url(#gW)"/>
<circle cx="232.84" cy="8.22" r="3.31" fill="url(#gP)"/>
<circle cx="288.88" cy="81.32" r="3.18" fill="url(#gB)"/>
<circle cx="274.18" cy="69.38" r="3.04" fill="url(#gP)"/>
<circle cx="261.84" cy="34.66" r="3.35" fill="url(#gP)"/>
<circle cx="308.11" cy="75.35" r="2.72" fill="url(#gW)"/>
<circle cx="273.12" cy="61.24" r="3.06" fill="url(#gP)"/>
<circle cx="291" cy="83.79" r="3.38" fill="url(#gB)"/>
<circle cx="310.95" cy="17.85" r="3.29" fill="url(#gW)"/>
<circle cx="340.86" cy="13.07" r="2.89" fill="url(#gP)"/>
<circle cx="286.14" cy="49.01" r="3.13" fill="url(#gR)"/>
<circle cx="268.2" cy="15.76" r="2.97" fill="url(#gB)"/>
<circle cx="330.89" cy="108.37" r="2.8" fill="url(#gW)"/>
<circle cx="306.74" cy="67.95" r="2.73" fill="url(#gP)"/>
<circle cx="236.34" cy="89.41" r="2.93" fill="url(#gB)"/>
<circle cx="287.83" cy="56.27" r="3.24" fill="url(#gP)"/>
<circle cx="287.31" cy="88.84" r="2.74" fill="url(#gB)"/>
<circle cx="249" cy="54.02" r="2.75" fill="url(#gW)"/>
<circle cx="250.41" cy="111.17" r="2.99" fill="url(#gR)"/>
<circle cx="335.75" cy="13.77" r="3.09" fill="url(#gP)"/>
<circle cx="264.78" cy="108.26" r="3.32" fill="url(#gP)"/>
<circle cx="236.4" cy="59.95" r="3.05" fill="url(#gW)"/>
<circle cx="257.98" cy="98.83" r="3.36" fill="url(#gL)"/>
<circle cx="294.68" cy="37.6" r="3.24" fill="url(#gW)"/>
<circle cx="323.27" cy="97.62" r="3.02" fill="url(#gP)"/>
<circle cx="255.73" cy="56.43" r="2.97" fill="url(#gP)"/>
<circle cx="246.49" cy="93.41" r="3.21" fill="url(#gW)"/>
<circle cx="318.02" cy="67.66" r="3.14" fill="url(#gP)"/>
<circle cx="291.96" cy="95.95" r="2.84" fill="url(#gL)"/>
<circle cx="272.14" cy="57.83" r="2.76" fill="url(#gP)"/>
<circle cx="240.36" cy="61.79" r="3.01" fill="url(#gW)"/>
<circle cx="253.45" cy="110.52" r="2.85" fill="url(#gW)"/>
<circle cx="336.64" cy="46.77" r="3.28" fill="url(#gR)"/>
<circle cx="252.09" cy="62.15" r="3.23" fill="url(#gL)"/>
<circle cx="296.25" cy="65.52" r="3.04" fill="url(#gW)"/>
<circle cx="232.8" cy="102.13" r="3.17" fill="url(#gW)"/>
<circle cx="258.53" cy="12.45" r="3.05" fill="url(#gP)"/>
<circle cx="267.72" cy="97.74" r="3.27" fill="url(#gW)"/>
<circle cx="243.32" cy="75.59" r="3.12" fill="url(#gP)"/>
<circle cx="319.06" cy="102.09" r="2.8" fill="url(#gP)"/>
<circle cx="257.16" cy="109.82" r="2.84" fill="url(#gP)"/>
<circle cx="296.51" cy="114.01" r="3.05" fill="url(#gW)"/>
<circle cx="288.43" cy="96.72" r="2.97" fill="url(#gP)"/>
<circle cx="329.45" cy="51.76" r="3.14" fill="url(#gR)"/>
<circle cx="332.97" cy="88.16" r="3.25" fill="url(#gR)"/>
<circle cx="255.04" cy="78.84" r="3.33" fill="url(#gW)"/>
<circle cx="282.39" cy="33.56" r="3.39" fill="url(#gP)"/>
<circle cx="229.76" cy="27.15" r="3" fill="url(#gW)"/>
<circle cx="292.61" cy="51.27" r="3.3" fill="url(#gW)"/>
<circle cx="279.78" cy="15.19" r="3.09" fill="url(#gB)"/>
<circle cx="300.51" cy="33.02" r="3.11" fill="url(#gW)"/>
<circle cx="274.86" cy="25.93" r="3.2" fill="url(#gW)"/>
<circle cx="297.19" cy="39.56" r="2.94" fill="url(#gP)"/>
<circle cx="312.65" cy="61.23" r="3.32" fill="url(#gW)"/>
<circle cx="230.72" cy="44.49" r="3.04" fill="url(#gR)"/>
<circle cx="277.47" cy="67.16" r="3" fill="url(#gW)"/>
<circle cx="307.78" cy="19.29" r="3.1" fill="url(#gP)"/>
<circle cx="280.55" cy="59.22" r="3.03" fill="url(#gP)"/>
<circle cx="310.69" cy="96.2" r="2.78" fill="url(#gW)"/>
<circle cx="224.86" cy="51.94" r="2.97" fill="url(#gP)"/>
<circle cx="317.98" cy="22.02" r="3.18" fill="url(#gB)"/>
<circle cx="247.19" cy="13.97" r="3.29" fill="url(#gB)"/>
<circle cx="255.8" cy="44.89" r="3.37" fill="url(#gR)"/>
<circle cx="304.2" cy="31.74" r="3.14" fill="url(#gW)"/>
<circle cx="294.9" cy="18.6" r="3.05" fill="url(#gW)"/>
<circle cx="319.69" cy="90" r="2.81" fill="url(#gR)"/>
<circle cx="250.66" cy="49.8" r="3.25" fill="url(#gR)"/>
<circle cx="263.73" cy="69.78" r="2.89" fill="url(#gR)"/>
<circle cx="265.47" cy="62.95" r="2.86" fill="url(#gW)"/>
<circle cx="324.83" cy="75.74" r="2.86" fill="url(#gP)"/>
<circle cx="228.84" cy="8.77" r="3.07" fill="url(#gB)"/>
<circle cx="265.49" cy="113.01" r="3.08" fill="url(#gP)"/>
<circle cx="243.21" cy="8.86" r="3.04" fill="url(#gP)"/>
<circle cx="302.54" cy="21.48" r="2.93" fill="url(#gW)"/>
<circle cx="325.27" cy="110.66" r="2.97" fill="url(#gW)"/>
<circle cx="238.39" cy="64.5" r="3.35" fill="url(#gP)"/>
<circle cx="299.44" cy="14.76" r="3.04" fill="url(#gP)"/>
<circle cx="313.61" cy="20.36" r="3.34" fill="url(#gP)"/>
<circle cx="243.72" cy="82.48" r="2.72" fill="url(#gP)"/>
<circle cx="317.07" cy="71.09" r="2.81" fill="url(#gP)"/>
<circle cx="229.66" cy="102.31" r="2.99" fill="url(#gW)"/>
<circle cx="246.12" cy="73.73" r="2.73" fill="url(#gP)"/>
<circle cx="260.26" cy="17.68" r="3.35" fill="url(#gL)"/>
<circle cx="307.16" cy="33.61" r="2.87" fill="url(#gP)"/>
<circle cx="270.56" cy="49.7" r="3.39" fill="url(#gP)"/>
<circle cx="298.44" cy="29.88" r="3.3" fill="url(#gW)"/>
<circle cx="244.97" cy="54.05" r="2.98" fill="url(#gW)"/>
<circle cx="310.64" cy="12.59" r="3.15" fill="url(#gL)"/>
<circle cx="324.68" cy="57.9" r="2.83" fill="url(#gR)"/>
<circle cx="261.5" cy="105.46" r="2.82" fill="url(#gP)"/>
<circle cx="317.46" cy="18.73" r="2.76" fill="url(#gB)"/>
<circle cx="269.89" cy="109.57" r="2.92" fill="url(#gP)"/>
<circle cx="335.57" cy="26.82" r="2.81" fill="url(#gR)"/>
<circle cx="329.31" cy="40.52" r="3.2" fill="url(#gR)"/>
<circle cx="272.58" cy="28.95" r="2.82" fill="url(#gB)"/>
<circle cx="237.08" cy="32.63" r="2.94" fill="url(#gP)"/>
<circle cx="335.82" cy="42.03" r="3.1" fill="url(#gR)"/>
<circle cx="238.03" cy="42.2" r="3.14" fill="url(#gR)"/>
<circle cx="270.37" cy="32.18" r="3.18" fill="url(#gP)"/>
<circle cx="252.86" cy="114.83" r="3.17" fill="url(#gP)"/>
<circle cx="286.44" cy="78.28" r="3.08" fill="url(#gB)"/>
<circle cx="282.34" cy="103.26" r="3.18" fill="url(#gP)"/>
<circle cx="293.07" cy="92.35" r="2.96" fill="url(#gW)"/>
<circle cx="255.65" cy="85.73" r="2.93" fill="url(#gW)"/>
<circle cx="263.37" cy="46.68" r="3.28" fill="url(#gR)"/>
<circle cx="297.8" cy="42.96" r="3.25" fill="url(#gP)"/>
<circle cx="266.32" cy="84.86" r="3.13" fill="url(#gP)"/>
<circle cx="236.46" cy="113.8" r="3.36" fill="url(#gP)"/>
<circle cx="235.63" cy="95.38" r="3.04" fill="url(#gB)"/>
<circle cx="303.14" cy="89.73" r="3.16" fill="url(#gB)"/>
<circle cx="307.47" cy="116.81" r="3.12" fill="url(#gP)"/>
<circle cx="332.72" cy="33.92" r="2.78" fill="url(#gP)"/>
<circle cx="304.43" cy="85.56" r="2.75" fill="url(#gP)"/>
<circle cx="315.04" cy="24.18" r="3.18" fill="url(#gP)"/>
<circle cx="241.43" cy="53.9" r="2.8" fill="url(#gP)"/>
<circle cx="317.1" cy="53.15" r="3.13" fill="url(#gW)"/>
<circle cx="249.52" cy="44.99" r="2.99" fill="url(#gP)"/>
<circle cx="267.02" cy="74.41" r="3.02" fill="url(#gW)"/>
<circle cx="268.79" cy="24.98" r="3.07" fill="url(#gP)"/>
<circle cx="294.1" cy="30.49" r="2.92" fill="url(#gW)"/>
<circle cx="260.79" cy="90.69" r="3.3" fill="url(#gW)"/>
<circle cx="262.69" cy="65.89" r="3.21" fill="url(#gW)"/>
<circle cx="320.5" cy="56.63" r="2.81" fill="url(#gR)"/>
<circle cx="316.51" cy="77.57" r="3.09" fill="url(#gW)"/>
<circle cx="267.45" cy="89.88" r="2.83" fill="url(#gP)"/>
<circle cx="240.7" cy="49.56" r="3.04" fill="url(#gR)"/>
<circle cx="284.58" cy="57.06" r="3.11" fill="url(#gP)"/>
<circle cx="290.26" cy="28.5" r="3.34" fill="url(#gW)"/>
<circle cx="233.95" cy="92.51" r="2.87" fill="url(#gB)"/>
<circle cx="250.97" cy="33.93" r="3.29" fill="url(#gW)"/>
<circle cx="323.18" cy="116.12" r="2.86" fill="url(#gP)"/>
<circle cx="302.61" cy="104.4" r="2.9" fill="url(#gP)"/>
<circle cx="264.87" cy="39.1" r="3.14" fill="url(#gR)"/>
<circle cx="283.14" cy="62.64" r="3.15" fill="url(#gP)"/>
<circle cx="253.27" cy="42.35" r="3.09" fill="url(#gR)"/>
<circle cx="317.03" cy="114.81" r="3.04" fill="url(#gW)"/>
<circle cx="322.66" cy="70.27" r="3.34" fill="url(#gW)"/>
<circle cx="228.33" cy="96.66" r="3.34" fill="url(#gW)"/>
<circle cx="335.49" cy="77.82" r="3.07" fill="url(#gP)"/>
<circle cx="253.72" cy="14.67" r="3.01" fill="url(#gP)"/>
<circle cx="274.06" cy="77.38" r="2.76" fill="url(#gP)"/>
<circle cx="269.66" cy="59.88" r="3.07" fill="url(#gP)"/>
<circle cx="233.63" cy="107.79" r="3.11" fill="url(#gW)"/>
<circle cx="337.21" cy="38.16" r="3.16" fill="url(#gP)"/>
<circle cx="297.6" cy="70.03" r="2.96" fill="url(#gP)"/>
<circle cx="329.94" cy="104.97" r="2.84" fill="url(#gW)"/>
<circle cx="309.23" cy="59.18" r="3.23" fill="url(#gP)"/>
<circle cx="321.69" cy="86.94" r="2.97" fill="url(#gR)"/>
<circle cx="231.53" cy="83.12" r="2.78" fill="url(#gB)"/>
<circle cx="267.28" cy="54.59" r="2.87" fill="url(#gR)"/>
<circle cx="290.71" cy="89.41" r="2.76" fill="url(#gB)"/>
<circle cx="326.22" cy="53.67" r="3.18" fill="url(#gP)"/>
<circle cx="282.37" cy="75.95" r="3.21" fill="url(#gW)"/>
<circle cx="262.44" cy="43.39" r="3.05" fill="url(#gP)"/>
<circle cx="265.6" cy="13.86" r="3.22" fill="url(#gW)"/>
<circle cx="330.38" cy="78.38" r="2.97" fill="url(#gW)"/>
<circle cx="242.06" cy="37.24" r="3.24" fill="url(#gP)"/>
<circle cx="278.03" cy="72.77" r="2.74" fill="url(#gL)"/>
<circle cx="257.14" cy="103.41" r="3.38" fill="url(#gW)"/>
<circle cx="268.87" cy="77.16" r="3.04" fill="url(#gP)"/>
<circle cx="245.38" cy="40.48" r="3.37" fill="url(#gR)"/>
<circle cx="263.16" cy="21.99" r="3.37" fill="url(#gP)"/>
<circle cx="257.49" cy="36.79" r="3.04" fill="url(#gP)"/>
<circle cx="309.32" cy="35.96" r="2.77" fill="url(#gW)"/>
<circle cx="315.14" cy="57.63" r="3.2" fill="url(#gR)"/>
<circle cx="326.61" cy="17.59" r="2.77" fill="url(#gD)"/>
<circle cx="273.25" cy="83.99" r="2.88" fill="url(#gW)"/>
<circle cx="326.31" cy="61.05" r="3.28" fill="url(#gP)"/>
<circle cx="295.71" cy="107.1" r="3.03" fill="url(#gP)"/>
<circle cx="291.6" cy="101.73" r="2.92" fill="url(#gP)"/>
<circle cx="268.4" cy="29.18" r="3.28" fill="url(#gP)"/>
<circle cx="329.83" cy="32.48" r="3.4" fill="url(#gP)"/>
<circle cx="237.96" cy="99.2" r="2.9" fill="url(#gP)"/>
<circle cx="265.8" cy="66.06" r="2.84" fill="url(#gR)"/>
<circle cx="267.1" cy="43.63" r="3.06" fill="url(#gB)"/>
<circle cx="291.12" cy="24.59" r="2.86" fill="url(#gW)"/>
<circle cx="241.36" cy="14.38" r="3.25" fill="url(#gD)"/>
<circle cx="334.65" cy="56.46" r="3.3" fill="url(#gP)"/>
<circle cx="321.47" cy="28.67" r="2.83" fill="url(#gR)"/>
<circle cx="311.99" cy="112.3" r="3.15" fill="url(#gP)"/>
<circle cx="300.41" cy="73.57" r="3.06" fill="url(#gW)"/>
<circle cx="277.57" cy="31.72" r="2.92" fill="url(#gP)"/>
<circle cx="313.32" cy="99.04" r="3.19" fill="url(#gP)"/>
<circle cx="245.67" cy="37.2" r="2.88" fill="url(#gP)"/>
<circle cx="260.65" cy="68.56" r="2.78" fill="url(#gR)"/>
<circle cx="293.74" cy="78.53" r="2.87" fill="url(#gB)"/>
<circle cx="304.93" cy="50.44" r="3.25" fill="url(#gB)"/>
<circle cx="272.63" cy="73.81" r="3.06" fill="url(#gL)"/>
<circle cx="230.72" cy="115.18" r="3.39" fill="url(#gW)"/>
<circle cx="246.82" cy="34.22" r="2.99" fill="url(#gL)"/>
<circle cx="306.68" cy="28.49" r="3.28" fill="url(#gP)"/>
<circle cx="300.63" cy="86.5" r="2.77" fill="url(#gW)"/>
<circle cx="280.17" cy="46.29" r="3.09" fill="url(#gR)"/>
<circle cx="272.39" cy="107.66" r="3.18" fill="url(#gW)"/>
<circle cx="231.24" cy="51.67" r="3.23" fill="url(#gL)"/>
<circle cx="288.52" cy="51.13" r="2.75" fill="url(#gR)"/>
<circle cx="311.13" cy="22.51" r="3.36" fill="url(#gR)"/>
<circle cx="273.52" cy="44.3" r="3.07" fill="url(#gP)"/>
<circle cx="273.32" cy="16.88" r="2.74" fill="url(#gB)"/>
<circle cx="290.94" cy="43.19" r="3.32" fill="url(#gW)"/>
<circle cx="245.28" cy="49.83" r="2.8" fill="url(#gR)"/>
<circle cx="259.92" cy="45.35" r="3.19" fill="url(#gP)"/>
<circle cx="318.72" cy="39.98" r="2.73" fill="url(#gR)"/>
<circle cx="315.17" cy="96.54" r="2.95" fill="url(#gW)"/>
<circle cx="250.83" cy="71.6" r="3.38" fill="url(#gP)"/>
<circle cx="249.86" cy="94.05" r="2.82" fill="url(#gW)"/>
<circle cx="286.88" cy="17.26" r="2.81" fill="url(#gW)"/>
<circle cx="293.94" cy="74" r="3.24" fill="url(#gB)"/>
<circle cx="295.09" cy="103.52" r="2.96" fill="url(#gP)"/>
<circle cx="294.8" cy="27.46" r="3.26" fill="url(#gW)"/>
<circle cx="298.4" cy="48.01" r="3.37" fill="url(#gP)"/>
<circle cx="263" cy="101.28" r="3.1" fill="url(#gP)"/>
<circle cx="323.73" cy="84.53" r="3.05" fill="url(#gW)"/>
<circle cx="285.24" cy="35.15" r="2.86" fill="url(#gW)"/>
<circle cx="330.51" cy="63.36" r="2.79" fill="url(#gB)"/>
<circle cx="308.05" cy="51.78" r="3.05" fill="url(#gW)"/>
<circle cx="229.94" cy="85.78" r="2.99" fill="url(#gB)"/>
<circle cx="334.28" cy="109.24" r="3.28" fill="url(#gW)"/>
<circle cx="234.8" cy="44.33" r="3.38" fill="url(#gR)"/>
<circle cx="334.78" cy="118.79" r="2.91" fill="url(#gP)"/>
<circle cx="247.15" cy="86.97" r="2.89" fill="url(#gP)"/>
<circle cx="333.94" cy="98.34" r="3.28" fill="url(#gR)"/>
<circle cx="304.92" cy="114.82" r="3.05" fill="url(#gW)"/>
<circle cx="305.44" cy="101.75" r="3.02" fill="url(#gW)"/>
<circle cx="253.92" cy="22.96" r="2.93" fill="url(#gP)"/>
<circle cx="231.6" cy="95.48" r="3.26" fill="url(#gB)"/>
<circle cx="233.14" cy="30.41" r="3.19" fill="url(#gP)"/>
<circle cx="313.85" cy="108.66" r="2.93" fill="url(#gP)"/>
<circle cx="322.84" cy="45.78" r="2.74" fill="url(#gW)"/>
<circle cx="267.41" cy="80.94" r="3.35" fill="url(#gP)"/>
<circle cx="240" cy="73.51" r="3.26" fill="url(#gP)"/>
<circle cx="233.07" cy="25.63" r="3.32" fill="url(#gW)"/>
<circle cx="286.54" cy="9.52" r="3.38" fill="url(#gP)"/>
<circle cx="238.04" cy="23.52" r="2.8" fill="url(#gP)"/>
<circle cx="283.57" cy="70.65" r="3.12" fill="url(#gP)"/>
<circle cx="244.36" cy="95.73" r="3.14" fill="url(#gB)"/>
<circle cx="327.92" cy="37.24" r="3.02" fill="url(#gR)"/>
<circle cx="283.74" cy="40.43" r="2.8" fill="url(#gR)"/>
<circle cx="283.74" cy="89.06" r="3.14" fill="url(#gW)"/>
<circle cx="313.95" cy="51.22" r="2.8" fill="url(#gR)"/>
<circle cx="284.24" cy="46.24" r="3" fill="url(#gR)"/>
<circle cx="242.3" cy="66.55" r="3.28" fill="url(#gW)"/>
<circle cx="305.87" cy="60.31" r="2.87" fill="url(#gP)"/>
<circle cx="242.39" cy="22.62" r="2.81" fill="url(#gW)"/>
<circle cx="302.63" cy="52.69" r="3.05" fill="url(#gB)"/>
<circle cx="288.5" cy="116.55" r="3.05" fill="url(#gB)"/>
<circle cx="274.91" cy="90.44" r="3.32" fill="url(#gP)"/>
<circle cx="314.88" cy="16.87" r="2.8" fill="url(#gP)"/>
<circle cx="308.83" cy="62.98" r="2.73" fill="url(#gL)"/>
<circle cx="229.97" cy="55.02" r="3.31" fill="url(#gP)"/>
<circle cx="318.53" cy="111.97" r="3.34" fill="url(#gP)"/>
<circle cx="298.65" cy="116.85" r="3.02" fill="url(#gP)"/>
<circle cx="328.33" cy="57.52" r="3.05" fill="url(#gW)"/>
<circle cx="232.81" cy="74.35" r="3.02" fill="url(#gD)"/>
<circle cx="313.9" cy="66.04" r="3.1" fill="url(#gW)"/>
<circle cx="260.88" cy="56.77" r="3.05" fill="url(#gW)"/>
<circle cx="300.39" cy="23.81" r="2.71" fill="url(#gW)"/>
<circle cx="242.72" cy="105.12" r="2.96" fill="url(#gD)"/>
<circle cx="333.64" cy="62.89" r="3.23" fill="url(#gP)"/>
<circle cx="309.73" cy="42.22" r="2.77" fill="url(#gW)"/>
<circle cx="229.92" cy="39.02" r="2.9" fill="url(#gW)"/>
<circle cx="264.51" cy="18.33" r="2.83" fill="url(#gP)"/>
<circle cx="277.37" cy="82.32" r="3" fill="url(#gR)"/>
<circle cx="278.53" cy="18.76" r="3.24" fill="url(#gB)"/>
<circle cx="269.49" cy="105.87" r="3.05" fill="url(#gP)"/>
<circle cx="273.39" cy="95.53" r="3.22" fill="url(#gP)"/>
<circle cx="328.86" cy="45.23" r="3.32" fill="url(#gR)"/>
<circle cx="256.79" cy="68.55" r="2.79" fill="url(#gD)"/>
<circle cx="248.21" cy="9.5" r="3.04" fill="url(#gB)"/>
<circle cx="296.51" cy="87.65" r="2.9" fill="url(#gR)"/>
<circle cx="279.77" cy="107.46" r="3.38" fill="url(#gL)"/>
<circle cx="239.74" cy="39.45" r="2.98" fill="url(#gR)"/>
<circle cx="228.74" cy="47.08" r="2.92" fill="url(#gR)"/>
<circle cx="316.87" cy="92.7" r="2.86" fill="url(#gR)"/>
<circle cx="228.5" cy="76.41" r="2.97" fill="url(#gB)"/>
<circle cx="337.26" cy="22.77" r="3.09" fill="url(#gP)"/>
<circle cx="267.32" cy="71.32" r="3.34" fill="url(#gP)"/>
<circle cx="332.37" cy="114.55" r="3.33" fill="url(#gW)"/>
<circle cx="260.16" cy="83" r="2.81" fill="url(#gW)"/>
<circle cx="305.88" cy="64.76" r="2.77" fill="url(#gP)"/>
<circle cx="260.8" cy="109.9" r="3.1" fill="url(#gP)"/>
<circle cx="283.07" cy="24.27" r="3.16" fill="url(#gR)"/>
<circle cx="285.31" cy="73.43" r="3.09" fill="url(#gW)"/>
<circle cx="272.34" cy="12.72" r="3.21" fill="url(#gB)"/>
<circle cx="325.84" cy="79.46" r="3.13" fill="url(#gW)"/>
<circle cx="302.76" cy="26.04" r="3.33" fill="url(#gW)"/>
<circle cx="270.69" cy="113.78" r="2.73" fill="url(#gW)"/>
<circle cx="244.76" cy="16.62" r="2.72" fill="url(#gP)"/>
<circle cx="310.34" cy="78.76" r="3.13" fill="url(#gB)"/>
<circle cx="313.4" cy="93.98" r="3.08" fill="url(#gR)"/>
<circle cx="270.49" cy="18.8" r="3.34" fill="url(#gP)"/>
<circle cx="328.28" cy="72.41" r="2.74" fill="url(#gW)"/>
<circle cx="272.67" cy="116.42" r="3.25" fill="url(#gW)"/>
<circle cx="318.87" cy="11.72" r="3.1" fill="url(#gR)"/>
<circle cx="261.8" cy="73.59" r="3.19" fill="url(#gR)"/>
<circle cx="290.8" cy="21.23" r="3.09" fill="url(#gP)"/>
<circle cx="242.39" cy="108.29" r="2.73" fill="url(#gD)"/>
<circle cx="240.7" cy="45.33" r="2.75" fill="url(#gR)"/>
<circle cx="304.81" cy="39.29" r="2.89" fill="url(#gP)"/>
<circle cx="328.65" cy="92.72" r="2.79" fill="url(#gR)"/>
<circle cx="300.38" cy="61.44" r="3.38" fill="url(#gW)"/>
<circle cx="336.21" cy="88.56" r="2.97" fill="url(#gR)"/>
<circle cx="300.06" cy="55.07" r="2.78" fill="url(#gP)"/>
<circle cx="311.3" cy="45.45" r="3.28" fill="url(#gR)"/>
<circle cx="287.09" cy="59.73" r="3.01" fill="url(#gP)"/>
<circle cx="234.71" cy="20.73" r="3.3" fill="url(#gP)"/>
<circle cx="283.21" cy="50.78" r="2.91" fill="url(#gP)"/>
<circle cx="254" cy="59.43" r="3.28" fill="url(#gW)"/>
<circle cx="288.89" cy="113.37" r="2.8" fill="url(#gB)"/>
<circle cx="228.33" cy="16.92" r="3.29" fill="url(#gB)"/>
<circle cx="316.78" cy="9.37" r="2.96" fill="url(#gR)"/>
<circle cx="264.98" cy="32.71" r="3.35" fill="url(#gP)"/>
<circle cx="337.36" cy="67.7" r="3.27" fill="url(#gW)"/>
<circle cx="308.75" cy="72.26" r="3.1" fill="url(#gW)"/>
<circle cx="283.01" cy="110.31" r="2.9" fill="url(#gP)"/>
<circle cx="303.15" cy="79.99" r="3.33" fill="url(#gR)"/>
<circle cx="307.22" cy="55.56" r="2.88" fill="url(#gW)"/>
<circle cx="229.63" cy="73.51" r="2.93" fill="url(#gD)"/>
<circle cx="327.54" cy="84.88" r="2.85" fill="url(#gW)"/>
<circle cx="325.69" cy="91.02" r="3.21" fill="url(#gR)"/>
<circle cx="314.02" cy="90.38" r="2.79" fill="url(#gR)"/>
<circle cx="302.05" cy="108.03" r="3.02" fill="url(#gR)"/>
<circle cx="296.24" cy="100.58" r="3.23" fill="url(#gP)"/>
<circle cx="277.18" cy="94.85" r="3.34" fill="url(#gP)"/>
<circle cx="286.64" cy="44.18" r="3.13" fill="url(#gP)"/>
<circle cx="321.47" cy="9.71" r="3.18" fill="url(#gP)"/>
<circle cx="286.69" cy="25.09" r="2.93" fill="url(#gR)"/>
<circle cx="321.78" cy="32.35" r="3.06" fill="url(#gR)"/>
<circle cx="282.5" cy="99.82" r="2.85" fill="url(#gP)"/>
<circle cx="259.03" cy="54.03" r="2.9" fill="url(#gR)"/>
<circle cx="325.77" cy="28.22" r="2.99" fill="url(#gR)"/>
<circle cx="301.61" cy="96.12" r="2.79" fill="url(#gP)"/>
<circle cx="285.66" cy="114.24" r="3.16" fill="url(#gB)"/>
<circle cx="336.73" cy="83.93" r="2.96" fill="url(#gP)"/>
<circle cx="305.91" cy="105.68" r="2.81" fill="url(#gP)"/>
<circle cx="331.35" cy="59.82" r="2.87" fill="url(#gR)"/>
<circle cx="256.74" cy="28.04" r="3.11" fill="url(#gP)"/>
<circle cx="238.85" cy="80.79" r="3.18" fill="url(#gB)"/>
<circle cx="279.41" cy="100.96" r="3.35" fill="url(#gP)"/>
<circle cx="300.54" cy="114.29" r="2.7" fill="url(#gB)"/>
<circle cx="269.07" cy="12.74" r="2.84" fill="url(#gP)"/>
<circle cx="275.86" cy="106.73" r="3.37" fill="url(#gP)"/>
<circle cx="248.84" cy="28.09" r="3.15" fill="url(#gW)"/>
<circle cx="264.25" cy="80.59" r="3.05" fill="url(#gW)"/>
<circle cx="312.85" cy="26.48" r="3.02" fill="url(#gP)"/>
<circle cx="278.7" cy="8.87" r="2.81" fill="url(#gW)"/>
<circle cx="250.55" cy="116.94" r="2.75" fill="url(#gW)"/>
<circle cx="283.54" cy="84.93" r="3.09" fill="url(#gP)"/>
<circle cx="321.27" cy="38.08" r="2.79" fill="url(#gR)"/>
<circle cx="311.66" cy="74.79" r="3.31" fill="url(#gL)"/>
<circle cx="266.56" cy="58.77" r="3.26" fill="url(#gW)"/>
<circle cx="279.08" cy="40.42" r="2.74" fill="url(#gW)"/>
<circle cx="336.07" cy="17.14" r="3.05" fill="url(#gP)"/>
<circle cx="311.83" cy="53.68" r="3.38" fill="url(#gW)"/>
<circle cx="230.62" cy="99.15" r="3.29" fill="url(#gL)"/>
<circle cx="241.13" cy="58.78" r="2.99" fill="url(#gP)"/>
<circle cx="251.18" cy="105.94" r="2.97" fill="url(#gP)"/>
<circle cx="324.08" cy="35.72" r="2.98" fill="url(#gR)"/>
<circle cx="235.91" cy="67.79" r="3.27" fill="url(#gD)"/>
<circle cx="302.27" cy="67.86" r="2.82" fill="url(#gW)"/>
<circle cx="310.59" cy="32.19" r="2.9" fill="url(#gW)"/>
<circle cx="253.9" cy="93.32" r="3.19" fill="url(#gW)"/>
<circle cx="326.2" cy="106.32" r="3" fill="url(#gW)"/>
<circle cx="241.09" cy="78.31" r="2.95" fill="url(#gB)"/>
<circle cx="302.9" cy="44.57" r="2.92" fill="url(#gP)"/>
<circle cx="232.04" cy="22.55" r="3.36" fill="url(#gW)"/>
<circle cx="326.59" cy="87.92" r="2.8" fill="url(#gR)"/>
<circle cx="335.95" cy="35.26" r="3.32" fill="url(#gL)"/>
<circle cx="302.56" cy="12.17" r="3.08" fill="url(#gW)"/>
<circle cx="291.9" cy="114.84" r="3.3" fill="url(#gR)"/>
<circle cx="310.49" cy="107.38" r="3.35" fill="url(#gP)"/>
<circle cx="265.93" cy="50.14" r="3.23" fill="url(#gW)"/>
<circle cx="233.81" cy="78.65" r="3.13" fill="url(#gB)"/>
<circle cx="290.48" cy="57.98" r="3.12" fill="url(#gP)"/>
<circle cx="319.56" cy="97.21" r="2.79" fill="url(#gP)"/>
<circle cx="252.74" cy="30.82" r="3.22" fill="url(#gW)"/>
<circle cx="332.54" cy="74.76" r="2.76" fill="url(#gW)"/>
<circle cx="334.97" cy="81.35" r="3.24" fill="url(#gP)"/>
<circle cx="281.66" cy="93.57" r="2.93" fill="url(#gW)"/>
<circle cx="260.96" cy="77.13" r="2.91" fill="url(#gW)"/>
<circle cx="251.11" cy="25.88" r="2.96" fill="url(#gP)"/>
<circle cx="321.98" cy="80.64" r="2.94" fill="url(#gP)"/>
<circle cx="225.42" cy="72.94" r="3.29" fill="url(#gP)"/>
<circle cx="323.45" cy="48.94" r="3.08" fill="url(#gP)"/>
<circle cx="257.57" cy="92.13" r="2.86" fill="url(#gP)"/>
<circle cx="286.54" cy="121.32" r="3.22" fill="url(#gP)"/>
<circle cx="262.66" cy="61.61" r="3" fill="url(#gW)"/>
<circle cx="269.64" cy="84.69" r="2.94" fill="url(#gW)"/>
<circle cx="246.86" cy="56.7" r="3.37" fill="url(#gW)"/>
<circle cx="301.85" cy="49.14" r="2.94" fill="url(#gB)"/>
<circle cx="298.55" cy="26.68" r="2.73" fill="url(#gW)"/>
<circle cx="290.49" cy="61.12" r="3.28" fill="url(#gP)"/>
<circle cx="256.72" cy="75" r="2.87" fill="url(#gW)"/>
<circle cx="257.11" cy="40.52" r="2.84" fill="url(#gP)"/>
<circle cx="320.79" cy="24.35" r="3.08" fill="url(#gB)"/>
<circle cx="229.95" cy="66.2" r="2.9" fill="url(#gD)"/>
<circle cx="234.26" cy="36.78" r="3.22" fill="url(#gP)"/>
<circle cx="240.56" cy="87.96" r="3.05" fill="url(#gB)"/>
<circle cx="325.03" cy="72.59" r="3.28" fill="url(#gP)"/>
<circle cx="300.26" cy="40.66" r="2.84" fill="url(#gP)"/>
<circle cx="228.73" cy="32.02" r="2.85" fill="url(#gP)"/>
<circle cx="245.1" cy="115.95" r="3.1" fill="url(#gP)"/>
<circle cx="313.99" cy="80.14" r="2.72" fill="url(#gL)"/>
<circle cx="331.54" cy="38.31" r="3.35" fill="url(#gP)"/>
<circle cx="322.36" cy="17.98" r="3.21" fill="url(#gB)"/>
<circle cx="336.7" cy="106.15" r="2.78" fill="url(#gW)"/>
<circle cx="305.28" cy="93.19" r="3.09" fill="url(#gB)"/>
<circle cx="266.93" cy="103.64" r="2.84" fill="url(#gW)"/>
<circle cx="276.01" cy="35.07" r="2.81" fill="url(#gP)"/>
<circle cx="312.05" cy="70.74" r="3" fill="url(#gP)"/>
<circle cx="321.86" cy="107.48" r="2.72" fill="url(#gW)"/>
<circle cx="325.31" cy="32.35" r="3.28" fill="url(#gR)"/>
<circle cx="290.91" cy="17.6" r="2.76" fill="url(#gP)"/>
<circle cx="279.56" cy="24.05" r="3.01" fill="url(#gW)"/>
<circle cx="273.53" cy="66.04" r="2.98" fill="url(#gP)"/>
<circle cx="248.64" cy="62.88" r="3.03" fill="url(#gP)"/>
<circle cx="245.83" cy="109.51" r="3.26" fill="url(#gR)"/>
<circle cx="245.61" cy="29.72" r="3.14" fill="url(#gP)"/>
<circle cx="326.47" cy="102.36" r="2.83" fill="url(#gW)"/>
<circle cx="248.17" cy="42.02" r="3.39" fill="url(#gR)"/>
<circle cx="245.48" cy="46.13" r="2.72" fill="url(#gR)"/>
<circle cx="302.09" cy="101.3" r="3.09" fill="url(#gW)"/>
<circle cx="318.77" cy="119.1" r="2.77" fill="url(#gL)"/>
<circle cx="284.01" cy="96.78" r="3.04" fill="url(#gW)"/>
<circle cx="232.49" cy="69.36" r="3.18" fill="url(#gD)"/>
<circle cx="235.9" cy="117.71" r="3.37" fill="url(#gL)"/>
<circle cx="296.54" cy="90.93" r="2.99" fill="url(#gP)"/>
<circle cx="291.17" cy="70.78" r="3.06" fill="url(#gR)"/>
<circle cx="245.94" cy="80.26" r="3.22" fill="url(#gW)"/>
<circle cx="324.65" cy="24.63" r="3.03" fill="url(#gR)"/>
<circle cx="323.33" cy="66.6" r="2.97" fill="url(#gP)"/>
<circle cx="260.61" cy="40.68" r="2.75" fill="url(#gW)"/>
<circle cx="277.66" cy="28.11" r="3.15" fill="url(#gP)"/>
<circle cx="310.22" cy="67.06" r="3.25" fill="url(#gP)"/>
<circle cx="255.25" cy="64.56" r="3.21" fill="url(#gP)"/>
<circle cx="297.04" cy="32.96" r="3.23" fill="url(#gW)"/>
<circle cx="239.56" cy="112.96" r="3.38" fill="url(#gP)"/>
<circle cx="325.29" cy="43.77" r="2.93" fill="url(#gB)"/>
<circle cx="258.55" cy="95.48" r="3.35" fill="url(#gL)"/>
<circle cx="278.86" cy="91.9" r="3.25" fill="url(#gP)"/>
<circle cx="300.28" cy="91.8" r="2.97" fill="url(#gP)"/>
<circle cx="329.13" cy="75.44" r="2.9" fill="url(#gP)"/>
<circle cx="287.89" cy="40.74" r="3.32" fill="url(#gL)"/>
<circle cx="228.97" cy="70.32" r="3.06" fill="url(#gD)"/>
<circle cx="290.98" cy="54.48" r="2.84" fill="url(#gW)"/>
<circle cx="322.92" cy="12.93" r="2.9" fill="url(#gR)"/>
<circle cx="283.43" cy="15.29" r="3.26" fill="url(#gB)"/>
<circle cx="331.34" cy="19.74" r="3.23" fill="url(#gL)"/>
<circle cx="322.09" cy="92.1" r="2.91" fill="url(#gR)"/>
<circle cx="307.16" cy="78.48" r="3.26" fill="url(#gR)"/>
<circle cx="298.24" cy="104.75" r="3.31" fill="url(#gW)"/>
<circle cx="237.27" cy="46.77" r="2.72" fill="url(#gR)"/>
<circle cx="315.67" cy="36.5" r="3.18" fill="url(#gR)"/>
<circle cx="254.3" cy="99.28" r="3.12" fill="url(#gL)"/>
<circle cx="230.4" cy="109.81" r="2.77" fill="url(#gW)"/>
<circle cx="302.61" cy="116.92" r="2.88" fill="url(#gP)"/>
<circle cx="305.73" cy="22.41" r="3.12" fill="url(#gR)"/>
<circle cx="253.7" cy="39.18" r="3.28" fill="url(#gL)"/>
<circle cx="286.4" cy="99.46" r="3.15" fill="url(#gP)"/>
<circle cx="315.73" cy="82.78" r="2.87" fill="url(#gR)"/>
<circle cx="267.52" cy="20.98" r="3.04" fill="url(#gW)"/>
<circle cx="288.73" cy="75.48" r="3.09" fill="url(#gR)"/>
<circle cx="240.43" cy="20.03" r="3.14" fill="url(#gW)"/>
<circle cx="260.11" cy="87.62" r="3.03" fill="url(#gW)"/>
<circle cx="245.7" cy="98.71" r="3.38" fill="url(#gB)"/>
<circle cx="319.59" cy="84.35" r="2.75" fill="url(#gP)"/>
<circle cx="273.72" cy="21.9" r="3.35" fill="url(#gB)"/>
<circle cx="243.76" cy="85.91" r="2.92" fill="url(#gP)"/>
<circle cx="262.24" cy="94.68" r="3.27" fill="url(#gW)"/>
<circle cx="242.45" cy="70.78" r="3.18" fill="url(#gP)"/>
<circle cx="316.89" cy="99.14" r="3.06" fill="url(#gP)"/>
<circle cx="260.19" cy="102.64" r="3.23" fill="url(#gP)"/>
<circle cx="275.28" cy="50.69" r="2.74" fill="url(#gP)"/>
<circle cx="326.24" cy="98.76" r="2.86" fill="url(#gW)"/>
<circle cx="239.39" cy="102.69" r="3.21" fill="url(#gW)"/>
<circle cx="264.86" cy="25.76" r="2.84" fill="url(#gW)"/>
<circle cx="259.75" cy="30.14" r="2.77" fill="url(#gW)"/>
<circle cx="318.55" cy="64.56" r="3.34" fill="url(#gR)"/>
<circle cx="337.33" cy="113.56" r="3.21" fill="url(#gP)"/>
<circle cx="330.17" cy="86.59" r="3.33" fill="url(#gP)"/>
<circle cx="320.21" cy="115.12" r="3.19" fill="url(#gW)"/>
<circle cx="320.31" cy="42.68" r="2.99" fill="url(#gP)"/>
<circle cx="274.35" cy="47.55" r="3.02" fill="url(#gP)"/>
<circle cx="236.13" cy="104" r="2.98" fill="url(#gW)"/>
<circle cx="305.52" cy="46.79" r="3.24" fill="url(#gL)"/>
<circle cx="247.35" cy="67.01" r="2.81" fill="url(#gB)"/>
<circle cx="238.74" cy="35.72" r="3.03" fill="url(#gP)"/>
<circle cx="336.64" cy="74.51" r="3.32" fill="url(#gP)"/>
<circle cx="256.89" cy="60.92" r="2.98" fill="url(#gP)"/>
<circle cx="326.94" cy="113.8" r="2.72" fill="url(#gW)"/>
<circle cx="256.07" cy="114.42" r="3.32" fill="url(#gP)"/>
<circle cx="258.71" cy="112.52" r="3.01" fill="url(#gP)"/>
<circle cx="288.52" cy="108.04" r="2.85" fill="url(#gP)"/>
<circle cx="274.89" cy="110.36" r="2.79" fill="url(#gR)"/>
<circle cx="248.1" cy="107.29" r="3.11" fill="url(#gP)"/>
<circle cx="332.46" cy="95.21" r="2.77" fill="url(#gR)"/>
<circle cx="301.31" cy="82.72" r="3.34" fill="url(#gR)"/>
<circle cx="312.67" cy="39.98" r="2.91" fill="url(#gP)"/>
<circle cx="276.72" cy="55.49" r="3.01" fill="url(#gP)"/>
<circle cx="240.45" cy="96.86" r="2.95" fill="url(#gB)"/>
<circle cx="333.18" cy="105" r="3.15" fill="url(#gW)"/>
<circle cx="285.06" cy="81.45" r="3.33" fill="url(#gB)"/>
<circle cx="250.12" cy="15.84" r="3.23" fill="url(#gB)"/>
<circle cx="338.12" cy="70.88" r="2.79" fill="url(#gW)"/>
<circle cx="290.88" cy="12.46" r="3.28" fill="url(#gR)"/>
<circle cx="234.24" cy="64.33" r="2.95" fill="url(#gD)"/>
<circle cx="317.01" cy="108.99" r="3.1" fill="url(#gP)"/>
<circle cx="335.6" cy="9.56" r="3.39" fill="url(#gP)"/>
<circle cx="328.58" cy="95.95" r="2.8" fill="url(#gR)"/>
<circle cx="337.11" cy="97.61" r="2.8" fill="url(#gP)"/>
<circle cx="253.21" cy="69" r="3.22" fill="url(#gD)"/>
<circle cx="242.84" cy="113.11" r="3.07" fill="url(#gW)"/>
<circle cx="242.42" cy="101.88" r="2.93" fill="url(#gP)"/>
<circle cx="297.53" cy="94.45" r="3.34" fill="url(#gP)"/>
<circle cx="284.99" cy="31.54" r="3.14" fill="url(#gR)"/>
<circle cx="247.43" cy="90.07" r="2.71" fill="url(#gP)"/>
<circle cx="272.33" cy="101.2" r="3.12" fill="url(#gW)"/>
<circle cx="253.58" cy="35.91" r="3.29" fill="url(#gW)"/>
<circle cx="290.7" cy="110.48" r="2.88" fill="url(#gW)"/>
<circle cx="288.03" cy="70.03" r="2.84" fill="url(#gR)"/>
<circle cx="239.84" cy="83.82" r="3.06" fill="url(#gB)"/>
<circle cx="304.02" cy="9.13" r="3.34" fill="url(#gW)"/>
<circle cx="254.78" cy="72.55" r="2.93" fill="url(#gP)"/>
<circle cx="314.04" cy="32.9" r="3.15" fill="url(#gR)"/>
<circle cx="332.16" cy="14.88" r="2.72" fill="url(#gD)"/>
<circle cx="263.73" cy="97.95" r="3.05" fill="url(#gW)"/>
<circle cx="310.27" cy="29.06" r="3" fill="url(#gW)"/>
<circle cx="246.58" cy="113" r="2.97" fill="url(#gR)"/>
<circle cx="298.49" cy="58.47" r="2.96" fill="url(#gW)"/>
<circle cx="251.47" cy="102.84" r="3.27" fill="url(#gP)"/>
<circle cx="246.23" cy="103.89" r="2.83" fill="url(#gW)"/>
<circle cx="251.28" cy="84.87" r="3.09" fill="url(#gW)"/>
<circle cx="254.58" cy="89.37" r="3.01" fill="url(#gW)"/>
<circle cx="237.2" cy="8.86" r="3.36" fill="url(#gD)"/>
<circle cx="297.71" cy="36.37" r="3.15" fill="url(#gP)"/>
<circle cx="267.94" cy="40.5" r="2.74" fill="url(#gP)"/>
<circle cx="263.6" cy="53.53" r="3.08" fill="url(#gD)"/>
<circle cx="333.74" cy="22.98" r="2.89" fill="url(#gR)"/>
<circle cx="278.48" cy="50.33" r="3.29" fill="url(#gP)"/>
<circle cx="311.56" cy="57.01" r="3.03" fill="url(#gL)"/>
<circle cx="308.73" cy="9.73" r="2.88" fill="url(#gW)"/>
<circle cx="250.6" cy="66" r="3.05" fill="url(#gD)"/>
<circle cx="272.92" cy="36.62" r="2.94" fill="url(#gW)"/>
<circle cx="240.41" cy="27.89" r="3.15" fill="url(#gP)"/>
<circle cx="316.27" cy="43.9" r="2.76" fill="url(#gR)"/>
<circle cx="290.44" cy="47.58" r="3.32" fill="url(#gW)"/>
<circle cx="237.06" cy="27.74" r="3.05" fill="url(#gW)"/>
<circle cx="302.66" cy="17.04" r="2.91" fill="url(#gP)"/>
<circle cx="313.09" cy="85.1" r="2.87" fill="url(#gR)"/>
<circle cx="251.64" cy="9.12" r="2.98" fill="url(#gB)"/>
<circle cx="327.87" cy="120.59" r="3.09" fill="url(#gL)"/>
<circle cx="238.69" cy="11.62" r="3" fill="url(#gD)"/>
<circle cx="257.58" cy="81.11" r="3.05" fill="url(#gW)"/>
<circle cx="317.9" cy="74.68" r="2.77" fill="url(#gW)"/>
<circle cx="272.4" cy="39.86" r="2.92" fill="url(#gW)"/>
<circle cx="297.18" cy="52.45" r="3.14" fill="url(#gW)"/>
<circle cx="337.23" cy="110.35" r="3.24" fill="url(#gW)"/>
<circle cx="257.47" cy="106.65" r="3.18" fill="url(#gP)"/>
<circle cx="276.8" cy="11.74" r="3.14" fill="url(#gB)"/>
<circle cx="280.75" cy="79.49" r="2.73" fill="url(#gR)"/>
<circle cx="270.59" cy="52.89" r="2.74" fill="url(#gP)"/>
<circle cx="326.27" cy="69.18" r="3.21" fill="url(#gP)"/>
<circle cx="251.53" cy="78.46" r="3.32" fill="url(#gW)"/>
<circle cx="314.96" cy="47.27" r="3.14" fill="url(#gR)"/>
<circle cx="321.34" cy="75.98" r="3.37" fill="url(#gW)"/>
<circle cx="289.03" cy="32.57" r="3.33" fill="url(#gP)"/>
<circle cx="267.3" cy="115.87" r="2.85" fill="url(#gW)"/>
<circle cx="330.84" cy="54.63" r="3.15" fill="url(#gR)"/>
<circle cx="231.54" cy="58.39" r="2.9" fill="url(#gP)"/>
<circle cx="328.05" cy="23.29" r="2.81" fill="url(#gP)"/>
<circle cx="293.86" cy="14.78" r="2.83" fill="url(#gB)"/>
<circle cx="228.62" cy="59.69" r="3.11" fill="url(#gP)"/>
<circle cx="299.48" cy="65.7" r="3.27" fill="url(#gW)"/>
<circle cx="237.26" cy="109" r="3.38" fill="url(#gW)"/>
<circle cx="228.34" cy="41.75" r="2.71" fill="url(#gR)"/>
<circle cx="320.29" cy="72.65" r="2.74" fill="url(#gW)"/>
<circle cx="230.28" cy="80.17" r="3" fill="url(#gB)"/>
<circle cx="257.37" cy="15.58" r="2.72" fill="url(#gP)"/>
<circle cx="309.49" cy="85.67" r="2.8" fill="url(#gR)"/>
<circle cx="259.56" cy="63.53" r="2.94" fill="url(#gP)"/>
<circle cx="285.33" cy="28.06" r="2.84" fill="url(#gR)"/>
<circle cx="250.99" cy="74.72" r="3.14" fill="url(#gW)"/>
<circle cx="313.54" cy="9.5" r="2.82" fill="url(#gR)"/>
<circle cx="261.34" cy="51.11" r="2.74" fill="url(#gR)"/>
<circle cx="244.01" cy="89.13" r="2.75" fill="url(#gB)"/>
<circle cx="328.84" cy="116.64" r="3.06" fill="url(#gP)"/>
<circle cx="252.45" cy="96.54" r="3.05" fill="url(#gL)"/>
<circle cx="294.56" cy="41.69" r="3.2" fill="url(#gP)"/>
<circle cx="271.12" cy="97.86" r="3.2" fill="url(#gW)"/>
<circle cx="296.68" cy="23.23" r="3.27" fill="url(#gW)"/>
<circle cx="258.12" cy="48.34" r="2.82" fill="url(#gR)"/>
<circle cx="248.88" cy="31.45" r="3.26" fill="url(#gP)"/>
<circle cx="334.47" cy="19.95" r="3.14" fill="url(#gL)"/>
<circle cx="258.6" cy="9.06" r="2.85" fill="url(#gP)"/>
<circle cx="276.66" cy="43.6" r="3.05" fill="url(#gR)"/>
<circle cx="233.46" cy="39.87" r="2.88" fill="url(#gW)"/>
<circle cx="254.51" cy="10.58" r="3.32" fill="url(#gB)"/>
<circle cx="271.44" cy="80.49" r="3.11" fill="url(#gP)"/>
<circle cx="234.43" cy="54.41" r="2.96" fill="url(#gW)"/>
<circle cx="338.88" cy="20.12" r="2.9" fill="url(#gW)"/>
<circle cx="307.52" cy="25.32" r="2.85" fill="url(#gW)"/>
<circle cx="253.15" cy="46.66" r="3.2" fill="url(#gR)"/>
<circle cx="244.27" cy="58.67" r="3.34" fill="url(#gW)"/>
<circle cx="273.82" cy="32.12" r="3.05" fill="url(#gP)"/>
<circle cx="269.87" cy="37.53" r="2.92" fill="url(#gW)"/>
<circle cx="298.73" cy="107.94" r="3.13" fill="url(#gR)"/>
<circle cx="249.99" cy="19.16" r="3.34" fill="url(#gP)"/>
<circle cx="329.6" cy="99.93" r="2.95" fill="url(#gW)"/>
<circle cx="254.31" cy="106.27" r="2.99" fill="url(#gW)"/>
<circle cx="276.34" cy="38.84" r="2.95" fill="url(#gW)"/>
<circle cx="293.62" cy="68.29" r="3.16" fill="url(#gL)"/>
<circle cx="295.54" cy="84.27" r="3.27" fill="url(#gR)"/>
<circle cx="308.86" cy="89.52" r="3.09" fill="url(#gR)"/>
<circle cx="264.88" cy="9.98" r="3.1" fill="url(#gP)"/>
<circle cx="232.67" cy="47.05" r="3.06" fill="url(#gR)"/>
<circle cx="332.25" cy="83.38" r="3.19" fill="url(#gW)"/>
<circle cx="293.01" cy="9.59" r="3.19" fill="url(#gW)"/>
<circle cx="333.52" cy="70.74" r="2.79" fill="url(#gW)"/>
<circle cx="240.03" cy="31.2" r="3.01" fill="url(#gP)"/>
<circle cx="282.13" cy="11.11" r="3.29" fill="url(#gB)"/>
<circle cx="239.22" cy="92" r="2.94" fill="url(#gB)"/>
<circle cx="237.4" cy="77.49" r="3.4" fill="url(#gB)"/>
<circle cx="263.43" cy="58.56" r="2.74" fill="url(#gW)"/>
<circle cx="297.4" cy="81.62" r="2.9" fill="url(#gR)"/>
<circle cx="264.43" cy="91.64" r="2.98" fill="url(#gL)"/>
<circle cx="299.72" cy="10.86" r="2.98" fill="url(#gP)"/>
<circle cx="307.73" cy="98.38" r="2.71" fill="url(#gP)"/>
<circle cx="326.54" cy="64.79" r="2.84" fill="url(#gP)"/>
<circle cx="332.1" cy="50.03" r="2.98" fill="url(#gR)"/>
<circle cx="262.73" cy="115.15" r="3.11" fill="url(#gP)"/>
<circle cx="279.26" cy="76.43" r="2.97" fill="url(#gR)"/>
<circle cx="234.07" cy="33.61" r="3.31" fill="url(#gP)"/>
<circle cx="274.8" cy="103.31" r="2.83" fill="url(#gP)"/>
<circle cx="281.26" cy="115.27" r="3.01" fill="url(#gL)"/>
<circle cx="285.45" cy="93.98" r="3.09" fill="url(#gP)"/>
<circle cx="310.99" cy="49" r="3.05" fill="url(#gR)"/>
<circle cx="283.99" cy="106.79" r="3.11" fill="url(#gP)"/>
<circle cx="293.76" cy="98.57" r="2.74" fill="url(#gP)"/>
<circle cx="316.84" cy="61.81" r="3.39" fill="url(#gR)"/>
<circle cx="280.24" cy="70.2" r="3.22" fill="url(#gP)"/>
<circle cx="304.77" cy="70.52" r="2.84" fill="url(#gP)"/>
<circle cx="283.76" cy="18.83" r="3.14" fill="url(#gP)"/>
<circle cx="295.38" cy="118.13" r="3.09" fill="url(#gP)"/>
<circle cx="313.26" cy="116.3" r="3.38" fill="url(#gP)"/>
<circle cx="237.23" cy="85.96" r="3.03" fill="url(#gB)"/>
<circle cx="304.32" cy="97.8" r="3.2" fill="url(#gW)"/>
<circle cx="240.91" cy="116.83" r="2.96" fill="url(#gP)"/>
<circle cx="324.87" cy="94.69" r="3.26" fill="url(#gP)"/>
<circle cx="248.35" cy="100.35" r="2.74" fill="url(#gP)"/>
<circle cx="304.3" cy="111.16" r="2.8" fill="url(#gW)"/>
<circle cx="304.77" cy="73.66" r="2.91" fill="url(#gR)"/>
<circle cx="334.03" cy="91.34" r="3.01" fill="url(#gR)"/>
<circle cx="261.71" cy="10.62" r="2.77" fill="url(#gP)"/>
<circle cx="266.26" cy="36.08" r="2.88" fill="url(#gP)"/>
<circle cx="243.92" cy="25.77" r="3" fill="url(#gP)"/>
<circle cx="236.32" cy="13.85" r="3.36" fill="url(#gD)"/>
<circle cx="318.86" cy="35.38" r="2.75" fill="url(#gR)"/>
<circle cx="318.58" cy="81.33" r="3.12" fill="url(#gW)"/>
<circle cx="331.69" cy="11.22" r="3.02" fill="url(#gD)"/>
<circle cx="302.94" cy="63.34" r="2.7" fill="url(#gW)"/>
<circle cx="286.99" cy="21.89" r="2.78" fill="url(#gP)"/>
<circle cx="285.97" cy="65.84" r="3.16" fill="url(#gP)"/>
<circle cx="282.25" cy="43.44" r="3.37" fill="url(#gR)"/>
<circle cx="259.04" cy="116.32" r="2.76" fill="url(#gP)"/>
<circle cx="335.86" cy="60.55" r="3.04" fill="url(#gP)"/>
<circle cx="247.02" cy="25.45" r="3.09" fill="url(#gR)"/>
<circle cx="267.01" cy="46.85" r="2.85" fill="url(#gR)"/>
<circle cx="278.36" cy="113.67" r="2.88" fill="url(#gR)"/>
<circle cx="336.99" cy="64" r="2.89" fill="url(#gP)"/>
<circle cx="253.23" cy="119.22" r="2.89" fill="url(#gR)"/>
<circle cx="328.42" cy="13.99" r="2.76" fill="url(#gD)"/>
<circle cx="286.49" cy="111.15" r="2.74" fill="url(#gP)"/>
<circle cx="318.34" cy="26.99" r="2.92" fill="url(#gR)"/>
<circle cx="244.81" cy="64.51" r="2.72" fill="url(#gP)"/>
<circle cx="246.84" cy="70.39" r="3.02" fill="url(#gP)"/>
<circle cx="297.27" cy="61.8" r="3.08" fill="url(#gW)"/>
<circle cx="269.33" cy="9.38" r="2.71" fill="url(#gB)"/>
<circle cx="315.46" cy="13.13" r="2.83" fill="url(#gR)"/>
<circle cx="326.15" cy="11.56" r="3.38" fill="url(#gB)"/>
<circle cx="250.58" cy="22.64" r="2.92" fill="url(#gP)"/>
<circle cx="279.03" cy="88.16" r="3.08" fill="url(#gP)"/>
<circle cx="291.49" cy="106.68" r="3.17" fill="url(#gP)"/>
<circle cx="275.49" cy="59.05" r="2.82" fill="url(#gP)"/>
<circle cx="337.46" cy="101.26" r="2.82" fill="url(#gP)"/>
<circle cx="249.26" cy="97.29" r="2.87" fill="url(#gP)"/>
<circle cx="310" cy="114.98" r="2.72" fill="url(#gP)"/>
<circle cx="281.53" cy="65.72" r="2.85" fill="url(#gP)"/>
<circle cx="311.33" cy="81.92" r="3.34" fill="url(#gR)"/>
<circle cx="251.63" cy="88.4" r="2.8" fill="url(#gW)"/>
<circle cx="279.54" cy="85.05" r="3.01" fill="url(#gB)"/>
<circle cx="313.54" cy="103.13" r="3.07" fill="url(#gW)"/>
<circle cx="307.5" cy="111.62" r="3.01" fill="url(#gW)"/>
<circle cx="270.77" cy="69.11" r="3.26" fill="url(#gP)"/>
<circle cx="280.84" cy="30.15" r="2.91" fill="url(#gR)"/>
<circle cx="242.75" cy="42.99" r="3.25" fill="url(#gR)"/>
<circle cx="321.83" cy="53.25" r="2.96" fill="url(#gR)"/>
<circle cx="310.19" cy="102.91" r="3.35" fill="url(#gP)"/>
<circle cx="294.41" cy="54.77" r="3.11" fill="url(#gP)"/>
<circle cx="281.55" cy="21.4" r="2.74" fill="url(#gP)"/>
<circle cx="331.86" cy="44.36" r="3.35" fill="url(#gR)"/>
<circle cx="334.3" cy="66.17" r="3.06" fill="url(#gR)"/>
<circle cx="251.68" cy="12.23" r="2.88" fill="url(#gB)"/>
<circle cx="308.5" cy="38.96" r="2.7" fill="url(#gW)"/>
<circle cx="318.53" cy="49.4" r="3.25" fill="url(#gR)"/>
<circle cx="298.22" cy="18.09" r="2.84" fill="url(#gP)"/>
<circle cx="230.75" cy="19.64" r="3.3" fill="url(#gW)"/>
<circle cx="236.64" cy="39.07" r="2.87" fill="url(#gR)"/>
<circle cx="233.8" cy="98.11" r="3.14" fill="url(#gP)"/>
<circle cx="296.23" cy="76.18" r="2.84" fill="url(#gB)"/>
<circle cx="269.05" cy="100.9" r="3.08" fill="url(#gW)"/>
<circle cx="270.17" cy="88.25" r="2.85" fill="url(#gP)"/>
<circle cx="264.57" cy="29.53" r="3.27" fill="url(#gW)"/>
<circle cx="233.37" cy="87.48" r="3.03" fill="url(#gP)"/>
<circle cx="332.43" cy="29.58" r="2.73" fill="url(#gR)"/>
<circle cx="314.67" cy="73.57" r="3.19" fill="url(#gW)"/>
<circle cx="292.07" cy="65.59" r="3.02" fill="url(#gW)"/>
<circle cx="254.13" cy="51.34" r="3.08" fill="url(#gR)"/>
<circle cx="238.89" cy="106.21" r="3.18" fill="url(#gW)"/>
<circle cx="319.32" cy="105.65" r="2.98" fill="url(#gW)"/>
<circle cx="266.86" cy="94.65" r="3.02" fill="url(#gR)"/>
<circle cx="253.69" cy="19.64" r="2.76" fill="url(#gP)"/>
<circle cx="279.56" cy="97.37" r="2.92" fill="url(#gP)"/>
<circle cx="337.44" cy="54.73" r="3.23" fill="url(#gP)"/>
<circle cx="309.39" cy="93.23" r="3.37" fill="url(#gR)"/>
</g>
<rect x="227.3" y="7.7" width="111.19999999999999" height="110.39999999999999" fill="none" stroke="#111" stroke-width="1.3"/>
<defs><clipPath id="clipM"><rect x="391" y="103" width="122" height="122"/></clipPath></defs>
<g clip-path="url(#clipM)">
<circle cx="501.58" cy="168.99" r="2.73" fill="#fafafa" stroke="#a2a2a2" stroke-width="0.75"/>
<circle cx="462.03" cy="159.01" r="2.9" fill="#fafafa" stroke="#a2a2a2" stroke-width="0.75"/>
<circle cx="423.6" cy="140.31" r="3.08" fill="#fafafa" stroke="#a2a2a2" stroke-width="0.75"/>
<circle cx="422.93" cy="156.51" r="3.13" fill="#fafafa" stroke="#a2a2a2" stroke-width="0.75"/>
<circle cx="465.17" cy="147.98" r="2.86" fill="#fafafa" stroke="#a2a2a2" stroke-width="0.75"/>
<circle cx="418.65" cy="115.21" r="2.74" fill="#fafafa" stroke="#a2a2a2" stroke-width="0.75"/>
<circle cx="433.21" cy="120.7" r="2.9" fill="#fafafa" stroke="#a2a2a2" stroke-width="0.75"/>
<circle cx="458.36" cy="113.4" r="2.76" fill="#fafafa" stroke="#a2a2a2" stroke-width="0.75"/>
<circle cx="469.88" cy="182.86" r="2.56" fill="#fafafa" stroke="#a2a2a2" stroke-width="0.75"/>
<circle cx="405.29" cy="191.69" r="2.79" fill="#fafafa" stroke="#a2a2a2" stroke-width="0.75"/>
<circle cx="468.89" cy="198.54" r="3.12" fill="#fafafa" stroke="#a2a2a2" stroke-width="0.75"/>
<circle cx="404.08" cy="155.44" r="2.92" fill="#fafafa" stroke="#a2a2a2" stroke-width="0.75"/>
<circle cx="452.25" cy="111.35" r="2.68" fill="#fafafa" stroke="#a2a2a2" stroke-width="0.75"/>
<circle cx="413.99" cy="173.86" r="2.63" fill="#fafafa" stroke="#a2a2a2" stroke-width="0.75"/>
<circle cx="436.51" cy="121.88" r="3.1" fill="#fafafa" stroke="#a2a2a2" stroke-width="0.75"/>
<circle cx="421.84" cy="110.45" r="2.54" fill="#fafafa" stroke="#a2a2a2" stroke-width="0.75"/>
<circle cx="441.13" cy="181.78" r="2.89" fill="#fafafa" stroke="#a2a2a2" stroke-width="0.75"/>
<circle cx="415.33" cy="199.5" r="2.51" fill="#fafafa" stroke="#a2a2a2" stroke-width="0.75"/>
<circle cx="448.53" cy="138.12" r="3.17" fill="#fafafa" stroke="#a2a2a2" stroke-width="0.75"/>
<circle cx="414.82" cy="183.2" r="3.04" fill="#fafafa" stroke="#a2a2a2" stroke-width="0.75"/>
<circle cx="457.9" cy="160.65" r="2.73" fill="#fafafa" stroke="#a2a2a2" stroke-width="0.75"/>
<circle cx="507.9" cy="127.83" r="2.54" fill="#fafafa" stroke="#a2a2a2" stroke-width="0.75"/>
<circle cx="443.72" cy="166.15" r="3.14" fill="#fafafa" stroke="#a2a2a2" stroke-width="0.75"/>
<circle cx="482.75" cy="154.69" r="2.6" fill="#fafafa" stroke="#a2a2a2" stroke-width="0.75"/>
<circle cx="442.16" cy="213.89" r="2.72" fill="#fafafa" stroke="#a2a2a2" stroke-width="0.75"/>
<circle cx="441.69" cy="171.32" r="2.81" fill="#fafafa" stroke="#a2a2a2" stroke-width="0.75"/>
<circle cx="406" cy="159.07" r="3.17" fill="#fafafa" stroke="#a2a2a2" stroke-width="0.75"/>
<circle cx="442.25" cy="209.23" r="2.68" fill="#fafafa" stroke="#a2a2a2" stroke-width="0.75"/>
<circle cx="406.11" cy="114.87" r="3.08" fill="#fafafa" stroke="#a2a2a2" stroke-width="0.75"/>
<circle cx="435.12" cy="168.23" r="3.13" fill="#fafafa" stroke="#a2a2a2" stroke-width="0.75"/>
<circle cx="409" cy="188.32" r="2.61" fill="#fafafa" stroke="#a2a2a2" stroke-width="0.75"/>
<circle cx="409.46" cy="209.05" r="2.55" fill="#fafafa" stroke="#a2a2a2" stroke-width="0.75"/>
<circle cx="416.02" cy="163.93" r="2.52" fill="#fafafa" stroke="#a2a2a2" stroke-width="0.75"/>
<circle cx="453.73" cy="130.02" r="2.89" fill="#fafafa" stroke="#a2a2a2" stroke-width="0.75"/>
<circle cx="502.72" cy="211.37" r="2.54" fill="#fafafa" stroke="#a2a2a2" stroke-width="0.75"/>
<circle cx="409.63" cy="171.5" r="2.68" fill="#fafafa" stroke="#a2a2a2" stroke-width="0.75"/>
<circle cx="433.81" cy="135.99" r="3.2" fill="#fafafa" stroke="#a2a2a2" stroke-width="0.75"/>
<circle cx="499.48" cy="144.35" r="3.09" fill="#fafafa" stroke="#a2a2a2" stroke-width="0.75"/>
<circle cx="496.53" cy="125.57" r="3.06" fill="#fafafa" stroke="#a2a2a2" stroke-width="0.75"/>
<circle cx="483.88" cy="128.62" r="3.18" fill="#fafafa" stroke="#a2a2a2" stroke-width="0.75"/>
<circle cx="459.74" cy="190.14" r="2.61" fill="#fafafa" stroke="#a2a2a2" stroke-width="0.75"/>
<circle cx="439.6" cy="154.79" r="2.68" fill="#fafafa" stroke="#a2a2a2" stroke-width="0.75"/>
<circle cx="409.91" cy="205.2" r="2.98" fill="#fafafa" stroke="#a2a2a2" stroke-width="0.75"/>
<circle cx="471.57" cy="127.61" r="2.81" fill="#fafafa" stroke="#a2a2a2" stroke-width="0.75"/>
<circle cx="501.13" cy="216.42" r="3.18" fill="#fafafa" stroke="#a2a2a2" stroke-width="0.75"/>
<circle cx="436.56" cy="126.73" r="3.05" fill="#fafafa" stroke="#a2a2a2" stroke-width="0.75"/>
<circle cx="401.9" cy="198.44" r="2.79" fill="#fafafa" stroke="#a2a2a2" stroke-width="0.75"/>
<circle cx="481.37" cy="141.06" r="2.76" fill="#fafafa" stroke="#a2a2a2" stroke-width="0.75"/>
<circle cx="432.64" cy="218.53" r="2.57" fill="#fafafa" stroke="#a2a2a2" stroke-width="0.75"/>
<circle cx="505.63" cy="165.77" r="2.92" fill="#fafafa" stroke="#a2a2a2" stroke-width="0.75"/>
<circle cx="482.83" cy="165.33" r="2.95" fill="#fafafa" stroke="#a2a2a2" stroke-width="0.75"/>
<circle cx="452.03" cy="150.63" r="2.86" fill="#fafafa" stroke="#a2a2a2" stroke-width="0.75"/>
<circle cx="480.16" cy="170.93" r="2.96" fill="#fafafa" stroke="#a2a2a2" stroke-width="0.75"/>
<circle cx="446.87" cy="170.83" r="3.16" fill="#fafafa" stroke="#a2a2a2" stroke-width="0.75"/>
<circle cx="424.68" cy="172.45" r="2.52" fill="#fafafa" stroke="#a2a2a2" stroke-width="0.75"/>
<circle cx="397.42" cy="170.06" r="3.02" fill="#fafafa" stroke="#a2a2a2" stroke-width="0.75"/>
<circle cx="505.07" cy="202.51" r="3.15" fill="#fafafa" stroke="#a2a2a2" stroke-width="0.75"/>
<circle cx="478.64" cy="211.26" r="3.19" fill="#fafafa" stroke="#a2a2a2" stroke-width="0.75"/>
<circle cx="505.85" cy="191.64" r="2.88" fill="#fafafa" stroke="#a2a2a2" stroke-width="0.75"/>
<circle cx="482.19" cy="111.38" r="2.97" fill="#fafafa" stroke="#a2a2a2" stroke-width="0.75"/>
<circle cx="446.15" cy="109.19" r="2.7" fill="#fafafa" stroke="#a2a2a2" stroke-width="0.75"/>
<circle cx="483.56" cy="123.67" r="2.66" fill="#fafafa" stroke="#a2a2a2" stroke-width="0.75"/>
<circle cx="419.02" cy="167.19" r="2.62" fill="#fafafa" stroke="#a2a2a2" stroke-width="0.75"/>
<circle cx="466.9" cy="181.73" r="3.16" fill="#fafafa" stroke="#a2a2a2" stroke-width="0.75"/>
<circle cx="438.61" cy="143.6" r="2.61" fill="#fafafa" stroke="#a2a2a2" stroke-width="0.75"/>
<circle cx="474.45" cy="178.99" r="3.02" fill="#fafafa" stroke="#a2a2a2" stroke-width="0.75"/>
<circle cx="455.95" cy="207.88" r="3.01" fill="#fafafa" stroke="#a2a2a2" stroke-width="0.75"/>
<circle cx="404.83" cy="134.85" r="3.13" fill="#fafafa" stroke="#a2a2a2" stroke-width="0.75"/>
<circle cx="458.02" cy="215.72" r="3.13" fill="#fafafa" stroke="#a2a2a2" stroke-width="0.75"/>
<circle cx="482.49" cy="212.39" r="3.06" fill="#fafafa" stroke="#a2a2a2" stroke-width="0.75"/>
<circle cx="424.12" cy="125.03" r="2.99" fill="#fafafa" stroke="#a2a2a2" stroke-width="0.75"/>
<circle cx="443.69" cy="153.03" r="3.08" fill="#fafafa" stroke="#a2a2a2" stroke-width="0.75"/>
<circle cx="471.21" cy="180.05" r="2.8" fill="#fafafa" stroke="#a2a2a2" stroke-width="0.75"/>
<circle cx="399.89" cy="179.43" r="2.61" fill="#fafafa" stroke="#a2a2a2" stroke-width="0.75"/>
<circle cx="493.02" cy="164.83" r="2.73" fill="#fafafa" stroke="#a2a2a2" stroke-width="0.75"/>
<circle cx="489.45" cy="150.34" r="2.97" fill="#fafafa" stroke="#a2a2a2" stroke-width="0.75"/>
<circle cx="499.59" cy="117.44" r="2.92" fill="#fafafa" stroke="#a2a2a2" stroke-width="0.75"/>
<circle cx="493.14" cy="196.16" r="2.74" fill="#fafafa" stroke="#a2a2a2" stroke-width="0.75"/>
<circle cx="479.42" cy="134.48" r="3.2" fill="#fafafa" stroke="#a2a2a2" stroke-width="0.75"/>
<circle cx="498.17" cy="151.79" r="2.61" fill="#fafafa" stroke="#a2a2a2" stroke-width="0.75"/>
<circle cx="398.74" cy="192.3" r="2.85" fill="#fafafa" stroke="#a2a2a2" stroke-width="0.75"/>
<circle cx="459.21" cy="117.37" r="3.06" fill="#fafafa" stroke="#a2a2a2" stroke-width="0.75"/>
<circle cx="413.85" cy="217.02" r="2.85" fill="#fafafa" stroke="#a2a2a2" stroke-width="0.75"/>
<circle cx="434.53" cy="131.25" r="3.04" fill="#fafafa" stroke="#a2a2a2" stroke-width="0.75"/>
<circle cx="453.94" cy="138.79" r="3.08" fill="#fafafa" stroke="#a2a2a2" stroke-width="0.75"/>
<circle cx="414.87" cy="121.15" r="2.97" fill="#fafafa" stroke="#a2a2a2" stroke-width="0.75"/>
<circle cx="504.94" cy="151.39" r="2.51" fill="#fafafa" stroke="#a2a2a2" stroke-width="0.75"/>
<circle cx="433.41" cy="190.96" r="2.59" fill="#fafafa" stroke="#a2a2a2" stroke-width="0.75"/>
<circle cx="485.4" cy="115.4" r="2.6" fill="#fafafa" stroke="#a2a2a2" stroke-width="0.75"/>
<circle cx="499.9" cy="173.55" r="2.95" fill="#fafafa" stroke="#a2a2a2" stroke-width="0.75"/>
<circle cx="475.7" cy="155.76" r="2.93" fill="#fafafa" stroke="#a2a2a2" stroke-width="0.75"/>
<circle cx="419.35" cy="188.09" r="2.59" fill="#fafafa" stroke="#a2a2a2" stroke-width="0.75"/>
<circle cx="409.2" cy="158.57" r="2.87" fill="#fafafa" stroke="#a2a2a2" stroke-width="0.75"/>
<circle cx="505.9" cy="144.63" r="3.09" fill="#fafafa" stroke="#a2a2a2" stroke-width="0.75"/>
<circle cx="426.18" cy="191.87" r="2.72" fill="#fafafa" stroke="#a2a2a2" stroke-width="0.75"/>
<circle cx="471.7" cy="191.36" r="2.89" fill="#fafafa" stroke="#a2a2a2" stroke-width="0.75"/>
<circle cx="469.43" cy="145.13" r="2.86" fill="#fafafa" stroke="#a2a2a2" stroke-width="0.75"/>
<circle cx="396" cy="190.16" r="2.51" fill="#fafafa" stroke="#a2a2a2" stroke-width="0.75"/>
<circle cx="472.24" cy="134.43" r="2.83" fill="#fafafa" stroke="#a2a2a2" stroke-width="0.75"/>
<circle cx="425.9" cy="111.76" r="2.91" fill="#fafafa" stroke="#a2a2a2" stroke-width="0.75"/>
<circle cx="474.84" cy="164.41" r="2.67" fill="#fafafa" stroke="#a2a2a2" stroke-width="0.75"/>
<circle cx="502.06" cy="128.15" r="3.05" fill="#fafafa" stroke="#a2a2a2" stroke-width="0.75"/>
<circle cx="398.77" cy="216.86" r="3.07" fill="#fafafa" stroke="#a2a2a2" stroke-width="0.75"/>
<circle cx="414.74" cy="178.15" r="2.86" fill="#fafafa" stroke="#a2a2a2" stroke-width="0.75"/>
<circle cx="463.9" cy="205.39" r="3.1" fill="#fafafa" stroke="#a2a2a2" stroke-width="0.75"/>
<circle cx="423.95" cy="213.23" r="2.54" fill="#fafafa" stroke="#a2a2a2" stroke-width="0.75"/>
<circle cx="416.59" cy="126.7" r="2.67" fill="#fafafa" stroke="#a2a2a2" stroke-width="0.75"/>
<circle cx="423.53" cy="150.15" r="3.05" fill="#fafafa" stroke="#a2a2a2" stroke-width="0.75"/>
<circle cx="406.37" cy="148.02" r="2.87" fill="#fafafa" stroke="#a2a2a2" stroke-width="0.75"/>
<circle cx="416.09" cy="145.77" r="2.9" fill="#fafafa" stroke="#a2a2a2" stroke-width="0.75"/>
<circle cx="414.46" cy="135.92" r="3.17" fill="#fafafa" stroke="#a2a2a2" stroke-width="0.75"/>
<circle cx="407.06" cy="141.32" r="2.52" fill="#fafafa" stroke="#a2a2a2" stroke-width="0.75"/>
<circle cx="434.31" cy="210.98" r="3.11" fill="#fafafa" stroke="#a2a2a2" stroke-width="0.75"/>
<circle cx="470.54" cy="209.4" r="2.69" fill="#fafafa" stroke="#a2a2a2" stroke-width="0.75"/>
<circle cx="465.01" cy="139.66" r="3.18" fill="#fafafa" stroke="#a2a2a2" stroke-width="0.75"/>
<circle cx="467.41" cy="211.14" r="2.74" fill="#fafafa" stroke="#a2a2a2" stroke-width="0.75"/>
<circle cx="418.47" cy="148.75" r="2.69" fill="#fafafa" stroke="#a2a2a2" stroke-width="0.75"/>
<circle cx="418.38" cy="111.86" r="2.7" fill="#fafafa" stroke="#a2a2a2" stroke-width="0.75"/>
<circle cx="505.5" cy="110.57" r="2.82" fill="#fafafa" stroke="#a2a2a2" stroke-width="0.75"/>
<circle cx="497.61" cy="157.78" r="2.67" fill="#fafafa" stroke="#a2a2a2" stroke-width="0.75"/>
<circle cx="499.21" cy="108.24" r="3.14" fill="#fafafa" stroke="#a2a2a2" stroke-width="0.75"/>
<circle cx="466.81" cy="155.9" r="2.59" fill="#fafafa" stroke="#a2a2a2" stroke-width="0.75"/>
<circle cx="437.05" cy="150.19" r="3.11" fill="#fafafa" stroke="#a2a2a2" stroke-width="0.75"/>
<circle cx="472.26" cy="204.99" r="2.51" fill="#fafafa" stroke="#a2a2a2" stroke-width="0.75"/>
<circle cx="487.47" cy="112.91" r="2.73" fill="#fafafa" stroke="#a2a2a2" stroke-width="0.75"/>
<circle cx="458.77" cy="196.75" r="2.85" fill="#fafafa" stroke="#a2a2a2" stroke-width="0.75"/>
<circle cx="487.53" cy="119.06" r="2.53" fill="#fafafa" stroke="#a2a2a2" stroke-width="0.75"/>
<circle cx="500.51" cy="196.77" r="3.07" fill="#fafafa" stroke="#a2a2a2" stroke-width="0.75"/>
<circle cx="465.5" cy="133.42" r="2.83" fill="#fafafa" stroke="#a2a2a2" stroke-width="0.75"/>
<circle cx="472.27" cy="157.06" r="2.52" fill="#fafafa" stroke="#a2a2a2" stroke-width="0.75"/>
<circle cx="491.97" cy="105.33" r="3.13" fill="#fafafa" stroke="#a2a2a2" stroke-width="0.75"/>
<circle cx="480.7" cy="126.28" r="3.11" fill="#fafafa" stroke="#a2a2a2" stroke-width="0.75"/>
<circle cx="466.34" cy="128.62" r="3.18" fill="#fafafa" stroke="#a2a2a2" stroke-width="0.75"/>
<circle cx="474.96" cy="159.35" r="2.93" fill="#fafafa" stroke="#a2a2a2" stroke-width="0.75"/>
<circle cx="420.22" cy="210.34" r="3.12" fill="#fafafa" stroke="#a2a2a2" stroke-width="0.75"/>
<circle cx="494.39" cy="174.25" r="2.51" fill="#fafafa" stroke="#a2a2a2" stroke-width="0.75"/>
<circle cx="404.99" cy="182.84" r="3.19" fill="#fafafa" stroke="#a2a2a2" stroke-width="0.75"/>
<circle cx="497.21" cy="204.38" r="2.53" fill="#fafafa" stroke="#a2a2a2" stroke-width="0.75"/>
<circle cx="476.33" cy="128.74" r="2.77" fill="#fafafa" stroke="#a2a2a2" stroke-width="0.75"/>
<circle cx="436.29" cy="106.11" r="3.16" fill="#fafafa" stroke="#a2a2a2" stroke-width="0.75"/>
<circle cx="443.9" cy="138.08" r="2.72" fill="#fafafa" stroke="#a2a2a2" stroke-width="0.75"/>
<circle cx="419.64" cy="213.4" r="3.18" fill="#fafafa" stroke="#a2a2a2" stroke-width="0.75"/>
<circle cx="469.89" cy="194.87" r="2.52" fill="#fafafa" stroke="#a2a2a2" stroke-width="0.75"/>
<circle cx="431.96" cy="178.23" r="2.53" fill="#fafafa" stroke="#a2a2a2" stroke-width="0.75"/>
<circle cx="447.25" cy="203.46" r="3.11" fill="#fafafa" stroke="#a2a2a2" stroke-width="0.75"/>
<circle cx="450.75" cy="212.44" r="3.11" fill="#fafafa" stroke="#a2a2a2" stroke-width="0.75"/>
<circle cx="435.84" cy="145.22" r="2.85" fill="#fafafa" stroke="#a2a2a2" stroke-width="0.75"/>
<circle cx="448.93" cy="216.19" r="2.87" fill="#fafafa" stroke="#a2a2a2" stroke-width="0.75"/>
<circle cx="446.63" cy="154.65" r="2.84" fill="#fafafa" stroke="#a2a2a2" stroke-width="0.75"/>
<circle cx="466.19" cy="162" r="2.76" fill="#fafafa" stroke="#a2a2a2" stroke-width="0.75"/>
<circle cx="406.03" cy="129.73" r="2.76" fill="#fafafa" stroke="#a2a2a2" stroke-width="0.75"/>
<circle cx="407.99" cy="181.5" r="2.55" fill="#fafafa" stroke="#a2a2a2" stroke-width="0.75"/>
<circle cx="421.86" cy="196.64" r="2.58" fill="#fafafa" stroke="#a2a2a2" stroke-width="0.75"/>
<circle cx="485.28" cy="121.1" r="3.15" fill="#fafafa" stroke="#a2a2a2" stroke-width="0.75"/>
<circle cx="400.36" cy="165.74" r="2.59" fill="#fafafa" stroke="#a2a2a2" stroke-width="0.75"/>
<circle cx="409.36" cy="164.74" r="3.01" fill="#fafafa" stroke="#a2a2a2" stroke-width="0.75"/>
<circle cx="445.77" cy="117.34" r="2.89" fill="#fafafa" stroke="#a2a2a2" stroke-width="0.75"/>
<circle cx="490.46" cy="109.36" r="2.8" fill="#fafafa" stroke="#a2a2a2" stroke-width="0.75"/>
<circle cx="458.66" cy="201.64" r="3.17" fill="#fafafa" stroke="#a2a2a2" stroke-width="0.75"/>
<circle cx="403.36" cy="194.53" r="2.57" fill="#fafafa" stroke="#a2a2a2" stroke-width="0.75"/>
<circle cx="506.71" cy="135.87" r="2.83" fill="#fafafa" stroke="#a2a2a2" stroke-width="0.75"/>
<circle cx="467.23" cy="110.62" r="2.52" fill="#fafafa" stroke="#a2a2a2" stroke-width="0.75"/>
<circle cx="494.89" cy="160.02" r="3.18" fill="#fafafa" stroke="#a2a2a2" stroke-width="0.75"/>
<circle cx="461.42" cy="133.36" r="2.71" fill="#fafafa" stroke="#a2a2a2" stroke-width="0.75"/>
<circle cx="421.5" cy="176.78" r="2.7" fill="#fafafa" stroke="#a2a2a2" stroke-width="0.75"/>
<circle cx="398.98" cy="204.06" r="2.75" fill="#fafafa" stroke="#a2a2a2" stroke-width="0.75"/>
<circle cx="431.37" cy="143.72" r="3.12" fill="#fafafa" stroke="#a2a2a2" stroke-width="0.75"/>
<circle cx="403.82" cy="144.62" r="2.6" fill="#fafafa" stroke="#a2a2a2" stroke-width="0.75"/>
<circle cx="458.05" cy="175.66" r="2.86" fill="#fafafa" stroke="#a2a2a2" stroke-width="0.75"/>
<circle cx="401.68" cy="207.77" r="2.54" fill="#fafafa" stroke="#a2a2a2" stroke-width="0.75"/>
<circle cx="463.4" cy="124.67" r="3.01" fill="#fafafa" stroke="#a2a2a2" stroke-width="0.75"/>
<circle cx="398.72" cy="144.02" r="2.79" fill="#fafafa" stroke="#a2a2a2" stroke-width="0.75"/>
<circle cx="396.43" cy="202.09" r="2.98" fill="#fafafa" stroke="#a2a2a2" stroke-width="0.75"/>
<circle cx="486.52" cy="186.02" r="2.56" fill="#fafafa" stroke="#a2a2a2" stroke-width="0.75"/>
<circle cx="415.91" cy="160.22" r="3.13" fill="#fafafa" stroke="#a2a2a2" stroke-width="0.75"/>
<circle cx="474.03" cy="169.03" r="2.59" fill="#fafafa" stroke="#a2a2a2" stroke-width="0.75"/>
<circle cx="447.73" cy="120.07" r="2.69" fill="#fafafa" stroke="#a2a2a2" stroke-width="0.75"/>
<circle cx="415.88" cy="209.88" r="2.84" fill="#fafafa" stroke="#a2a2a2" stroke-width="0.75"/>
<circle cx="402.97" cy="122.65" r="2.83" fill="#fafafa" stroke="#a2a2a2" stroke-width="0.75"/>
<circle cx="453.34" cy="115.68" r="2.83" fill="#fafafa" stroke="#a2a2a2" stroke-width="0.75"/>
<circle cx="442.4" cy="127.63" r="2.51" fill="#fafafa" stroke="#a2a2a2" stroke-width="0.75"/>
<circle cx="475.23" cy="131.55" r="2.97" fill="#fafafa" stroke="#a2a2a2" stroke-width="0.75"/>
<circle cx="437.52" cy="200.85" r="2.58" fill="#fafafa" stroke="#a2a2a2" stroke-width="0.75"/>
<circle cx="455.43" cy="110.08" r="3.08" fill="#fafafa" stroke="#a2a2a2" stroke-width="0.75"/>
<circle cx="447.59" cy="178.09" r="2.71" fill="#fafafa" stroke="#a2a2a2" stroke-width="0.75"/>
<circle cx="480.51" cy="219.28" r="3.02" fill="#fafafa" stroke="#a2a2a2" stroke-width="0.75"/>
<circle cx="409.35" cy="217.46" r="2.66" fill="#fafafa" stroke="#a2a2a2" stroke-width="0.75"/>
<circle cx="404.85" cy="210" r="2.71" fill="#fafafa" stroke="#a2a2a2" stroke-width="0.75"/>
<circle cx="424.55" cy="131.41" r="3.13" fill="#fafafa" stroke="#a2a2a2" stroke-width="0.75"/>
<circle cx="450.45" cy="185.24" r="2.81" fill="#fafafa" stroke="#a2a2a2" stroke-width="0.75"/>
<circle cx="427.76" cy="159.96" r="3.2" fill="#fafafa" stroke="#a2a2a2" stroke-width="0.75"/>
<circle cx="469.47" cy="185.77" r="2.67" fill="#fafafa" stroke="#a2a2a2" stroke-width="0.75"/>
<circle cx="474.43" cy="174.53" r="2.82" fill="#fafafa" stroke="#a2a2a2" stroke-width="0.75"/>
<circle cx="492.08" cy="218.79" r="2.62" fill="#fafafa" stroke="#a2a2a2" stroke-width="0.75"/>
<circle cx="449.7" cy="113.39" r="2.68" fill="#fafafa" stroke="#a2a2a2" stroke-width="0.75"/>
<circle cx="429.21" cy="122.01" r="3.01" fill="#fafafa" stroke="#a2a2a2" stroke-width="0.75"/>
<circle cx="397.49" cy="123.06" r="3.2" fill="#fafafa" stroke="#a2a2a2" stroke-width="0.75"/>
<circle cx="505.24" cy="133.35" r="2.58" fill="#fafafa" stroke="#a2a2a2" stroke-width="0.75"/>
<circle cx="492.2" cy="210.6" r="2.61" fill="#fafafa" stroke="#a2a2a2" stroke-width="0.75"/>
<circle cx="495.06" cy="183.58" r="3.03" fill="#fafafa" stroke="#a2a2a2" stroke-width="0.75"/>
<circle cx="427.8" cy="118.13" r="2.94" fill="#fafafa" stroke="#a2a2a2" stroke-width="0.75"/>
<circle cx="492.42" cy="131.79" r="2.55" fill="#fafafa" stroke="#a2a2a2" stroke-width="0.75"/>
<circle cx="397.73" cy="109.29" r="3.05" fill="#fafafa" stroke="#a2a2a2" stroke-width="0.75"/>
<circle cx="458.98" cy="110.48" r="3.15" fill="#fafafa" stroke="#a2a2a2" stroke-width="0.75"/>
<circle cx="398.48" cy="160.09" r="2.99" fill="#fafafa" stroke="#a2a2a2" stroke-width="0.75"/>
<circle cx="430.64" cy="197.15" r="3.2" fill="#fafafa" stroke="#a2a2a2" stroke-width="0.75"/>
<circle cx="474.78" cy="113.88" r="3.11" fill="#fafafa" stroke="#a2a2a2" stroke-width="0.75"/>
<circle cx="409.78" cy="148.31" r="2.64" fill="#fafafa" stroke="#a2a2a2" stroke-width="0.75"/>
<circle cx="403.96" cy="174.46" r="3.1" fill="#fafafa" stroke="#a2a2a2" stroke-width="0.75"/>
<circle cx="419.46" cy="206.23" r="3.13" fill="#fafafa" stroke="#a2a2a2" stroke-width="0.75"/>
<circle cx="402.33" cy="137.88" r="2.61" fill="#fafafa" stroke="#a2a2a2" stroke-width="0.75"/>
<circle cx="505.67" cy="169.67" r="2.9" fill="#fafafa" stroke="#a2a2a2" stroke-width="0.75"/>
<circle cx="502.81" cy="156.19" r="2.58" fill="#fafafa" stroke="#a2a2a2" stroke-width="0.75"/>
<circle cx="501.74" cy="161.41" r="3.19" fill="#fafafa" stroke="#a2a2a2" stroke-width="0.75"/>
<circle cx="472.56" cy="222.43" r="2.57" fill="#fafafa" stroke="#a2a2a2" stroke-width="0.75"/>
<circle cx="493.67" cy="144.06" r="2.66" fill="#fafafa" stroke="#a2a2a2" stroke-width="0.75"/>
<circle cx="483.56" cy="145.13" r="3" fill="#fafafa" stroke="#a2a2a2" stroke-width="0.75"/>
<circle cx="418.51" cy="173.29" r="3.19" fill="#fafafa" stroke="#a2a2a2" stroke-width="0.75"/>
<circle cx="403.63" cy="125.68" r="3.04" fill="#fafafa" stroke="#a2a2a2" stroke-width="0.75"/>
<circle cx="452.44" cy="201.59" r="2.88" fill="#fafafa" stroke="#a2a2a2" stroke-width="0.75"/>
<circle cx="434.5" cy="159.98" r="2.85" fill="#fafafa" stroke="#a2a2a2" stroke-width="0.75"/>
<circle cx="487.48" cy="191.7" r="2.5" fill="#fafafa" stroke="#a2a2a2" stroke-width="0.75"/>
<circle cx="437.72" cy="165.93" r="3" fill="#fafafa" stroke="#a2a2a2" stroke-width="0.75"/>
<circle cx="407.98" cy="192.92" r="2.94" fill="#fafafa" stroke="#a2a2a2" stroke-width="0.75"/>
<circle cx="475.49" cy="122.62" r="2.77" fill="#fafafa" stroke="#a2a2a2" stroke-width="0.75"/>
<circle cx="475.65" cy="142.47" r="2.95" fill="#fafafa" stroke="#a2a2a2" stroke-width="0.75"/>
<circle cx="447.06" cy="189.25" r="2.75" fill="#fafafa" stroke="#a2a2a2" stroke-width="0.75"/>
<circle cx="478.34" cy="147.9" r="2.91" fill="#fafafa" stroke="#a2a2a2" stroke-width="0.75"/>
<circle cx="472.82" cy="217.64" r="2.8" fill="#fafafa" stroke="#a2a2a2" stroke-width="0.75"/>
<circle cx="467.23" cy="114.47" r="3.15" fill="#fafafa" stroke="#a2a2a2" stroke-width="0.75"/>
<circle cx="427.69" cy="179.92" r="3" fill="#fafafa" stroke="#a2a2a2" stroke-width="0.75"/>
<circle cx="490.45" cy="158.92" r="2.9" fill="#fafafa" stroke="#a2a2a2" stroke-width="0.75"/>
<circle cx="429.52" cy="156.9" r="2.65" fill="#fafafa" stroke="#a2a2a2" stroke-width="0.75"/>
<circle cx="441.15" cy="194.11" r="2.78" fill="#fafafa" stroke="#a2a2a2" stroke-width="0.75"/>
<circle cx="453.82" cy="153.92" r="3.14" fill="#fafafa" stroke="#a2a2a2" stroke-width="0.75"/>
<circle cx="424.02" cy="161.94" r="3.03" fill="#fafafa" stroke="#a2a2a2" stroke-width="0.75"/>
<circle cx="486.49" cy="149.22" r="2.9" fill="#fafafa" stroke="#a2a2a2" stroke-width="0.75"/>
<circle cx="499.1" cy="123.87" r="2.68" fill="#fafafa" stroke="#a2a2a2" stroke-width="0.75"/>
<circle cx="504.76" cy="206.34" r="3.13" fill="#fafafa" stroke="#a2a2a2" stroke-width="0.75"/>
<circle cx="430.15" cy="153.4" r="2.65" fill="#fafafa" stroke="#a2a2a2" stroke-width="0.75"/>
<circle cx="476.66" cy="135.56" r="3.04" fill="#fafafa" stroke="#a2a2a2" stroke-width="0.75"/>
<circle cx="459.66" cy="167.83" r="2.96" fill="#fafafa" stroke="#a2a2a2" stroke-width="0.75"/>
<circle cx="453.16" cy="145.28" r="2.88" fill="#fafafa" stroke="#a2a2a2" stroke-width="0.75"/>
<circle cx="475.89" cy="191.26" r="2.89" fill="#fafafa" stroke="#a2a2a2" stroke-width="0.75"/>
<circle cx="485.76" cy="166.69" r="2.71" fill="#fafafa" stroke="#a2a2a2" stroke-width="0.75"/>
<circle cx="460.9" cy="120.37" r="2.89" fill="#fafafa" stroke="#a2a2a2" stroke-width="0.75"/>
<circle cx="406.29" cy="153.05" r="2.83" fill="#fafafa" stroke="#a2a2a2" stroke-width="0.75"/>
<circle cx="457.92" cy="157.5" r="2.89" fill="#fafafa" stroke="#a2a2a2" stroke-width="0.75"/>
<circle cx="466.82" cy="195.28" r="2.57" fill="#fafafa" stroke="#a2a2a2" stroke-width="0.75"/>
<circle cx="490.49" cy="203.59" r="3.01" fill="#fafafa" stroke="#a2a2a2" stroke-width="0.75"/>
<circle cx="480.89" cy="196.37" r="2.5" fill="#fafafa" stroke="#a2a2a2" stroke-width="0.75"/>
<circle cx="451.87" cy="216.17" r="2.99" fill="#fafafa" stroke="#a2a2a2" stroke-width="0.75"/>
<circle cx="395.13" cy="160.86" r="3" fill="#fafafa" stroke="#a2a2a2" stroke-width="0.75"/>
<circle cx="477.67" cy="173.98" r="2.51" fill="#fafafa" stroke="#a2a2a2" stroke-width="0.75"/>
<circle cx="486.72" cy="213.61" r="2.67" fill="#fafafa" stroke="#a2a2a2" stroke-width="0.75"/>
<circle cx="490.73" cy="128.99" r="2.95" fill="#fafafa" stroke="#a2a2a2" stroke-width="0.75"/>
<circle cx="417.29" cy="138.89" r="2.68" fill="#fafafa" stroke="#a2a2a2" stroke-width="0.75"/>
<circle cx="495.68" cy="122.49" r="3.12" fill="#fafafa" stroke="#a2a2a2" stroke-width="0.75"/>
<circle cx="441.59" cy="141.37" r="2.87" fill="#fafafa" stroke="#a2a2a2" stroke-width="0.75"/>
<circle cx="451.62" cy="162.97" r="3.04" fill="#fafafa" stroke="#a2a2a2" stroke-width="0.75"/>
<circle cx="471.18" cy="114.01" r="2.87" fill="#fafafa" stroke="#a2a2a2" stroke-width="0.75"/>
<circle cx="430.62" cy="115.01" r="2.6" fill="#fafafa" stroke="#a2a2a2" stroke-width="0.75"/>
<circle cx="443.75" cy="217.48" r="3.05" fill="#fafafa" stroke="#a2a2a2" stroke-width="0.75"/>
<circle cx="484.26" cy="217.98" r="2.7" fill="#fafafa" stroke="#a2a2a2" stroke-width="0.75"/>
<circle cx="434.43" cy="182" r="2.75" fill="#fafafa" stroke="#a2a2a2" stroke-width="0.75"/>
<circle cx="489.6" cy="188.31" r="2.77" fill="#fafafa" stroke="#a2a2a2" stroke-width="0.75"/>
<circle cx="414.08" cy="169.56" r="2.58" fill="#fafafa" stroke="#a2a2a2" stroke-width="0.75"/>
<circle cx="439.82" cy="123.85" r="2.92" fill="#fafafa" stroke="#a2a2a2" stroke-width="0.75"/>
<circle cx="447.32" cy="143.66" r="3.13" fill="#fafafa" stroke="#a2a2a2" stroke-width="0.75"/>
<circle cx="424.06" cy="181.47" r="3.14" fill="#fafafa" stroke="#a2a2a2" stroke-width="0.75"/>
<circle cx="430.3" cy="137.42" r="2.82" fill="#fafafa" stroke="#a2a2a2" stroke-width="0.75"/>
<circle cx="505.64" cy="154.48" r="2.86" fill="#fafafa" stroke="#a2a2a2" stroke-width="0.75"/>
<circle cx="474.07" cy="110.69" r="2.81" fill="#fafafa" stroke="#a2a2a2" stroke-width="0.75"/>
<circle cx="433.16" cy="152.31" r="2.86" fill="#fafafa" stroke="#a2a2a2" stroke-width="0.75"/>
<circle cx="465.12" cy="178.32" r="2.86" fill="#fafafa" stroke="#a2a2a2" stroke-width="0.75"/>
<circle cx="450.37" cy="192.37" r="2.92" fill="#fafafa" stroke="#a2a2a2" stroke-width="0.75"/>
<circle cx="416.94" cy="153.7" r="2.9" fill="#fafafa" stroke="#a2a2a2" stroke-width="0.75"/>
<circle cx="439.96" cy="161.59" r="2.65" fill="#fafafa" stroke="#a2a2a2" stroke-width="0.75"/>
<circle cx="466.58" cy="172.42" r="3.11" fill="#fafafa" stroke="#a2a2a2" stroke-width="0.75"/>
<circle cx="504.72" cy="138.96" r="2.74" fill="#fafafa" stroke="#a2a2a2" stroke-width="0.75"/>
<circle cx="409.47" cy="177.58" r="3.2" fill="#fafafa" stroke="#a2a2a2" stroke-width="0.75"/>
<circle cx="456.64" cy="129.24" r="2.83" fill="#fafafa" stroke="#a2a2a2" stroke-width="0.75"/>
<circle cx="412.59" cy="202.84" r="2.97" fill="#fafafa" stroke="#a2a2a2" stroke-width="0.75"/>
<circle cx="438.97" cy="205.47" r="2.93" fill="#fafafa" stroke="#a2a2a2" stroke-width="0.75"/>
<circle cx="480.85" cy="115.24" r="3.14" fill="#fafafa" stroke="#a2a2a2" stroke-width="0.75"/>
<circle cx="414.21" cy="110.97" r="2.99" fill="#fafafa" stroke="#a2a2a2" stroke-width="0.75"/>
<circle cx="419.31" cy="185.17" r="2.93" fill="#fafafa" stroke="#a2a2a2" stroke-width="0.75"/>
<circle cx="437.81" cy="133.31" r="3.1" fill="#fafafa" stroke="#a2a2a2" stroke-width="0.75"/>
<circle cx="490.47" cy="180.3" r="2.77" fill="#fafafa" stroke="#a2a2a2" stroke-width="0.75"/>
<circle cx="499.99" cy="208.29" r="3.05" fill="#fafafa" stroke="#a2a2a2" stroke-width="0.75"/>
<circle cx="427.7" cy="132.15" r="3.16" fill="#fafafa" stroke="#a2a2a2" stroke-width="0.75"/>
<circle cx="452.31" cy="119" r="3.09" fill="#fafafa" stroke="#a2a2a2" stroke-width="0.75"/>
<circle cx="465.63" cy="185.31" r="2.7" fill="#fafafa" stroke="#a2a2a2" stroke-width="0.75"/>
<circle cx="477.8" cy="194.1" r="2.56" fill="#fafafa" stroke="#a2a2a2" stroke-width="0.75"/>
<circle cx="419.53" cy="160.51" r="3.07" fill="#fafafa" stroke="#a2a2a2" stroke-width="0.75"/>
<circle cx="419.44" cy="193.65" r="2.8" fill="#fafafa" stroke="#a2a2a2" stroke-width="0.75"/>
<circle cx="486.34" cy="182.54" r="2.8" fill="#fafafa" stroke="#a2a2a2" stroke-width="0.75"/>
<circle cx="470.3" cy="123.67" r="3.12" fill="#fafafa" stroke="#a2a2a2" stroke-width="0.75"/>
<circle cx="485.67" cy="178.19" r="2.75" fill="#fafafa" stroke="#a2a2a2" stroke-width="0.75"/>
<circle cx="472.64" cy="144.67" r="2.55" fill="#fafafa" stroke="#a2a2a2" stroke-width="0.75"/>
<circle cx="400.49" cy="157.17" r="3.12" fill="#fafafa" stroke="#a2a2a2" stroke-width="0.75"/>
<circle cx="465.33" cy="216.26" r="3.02" fill="#fafafa" stroke="#a2a2a2" stroke-width="0.75"/>
<circle cx="481.32" cy="203.2" r="2.73" fill="#fafafa" stroke="#a2a2a2" stroke-width="0.75"/>
<circle cx="399.09" cy="212.62" r="2.59" fill="#fafafa" stroke="#a2a2a2" stroke-width="0.75"/>
<circle cx="402.76" cy="131.48" r="2.91" fill="#fafafa" stroke="#a2a2a2" stroke-width="0.75"/>
<circle cx="496.85" cy="128.64" r="2.8" fill="#fafafa" stroke="#a2a2a2" stroke-width="0.75"/>
<circle cx="401.89" cy="119.49" r="2.6" fill="#fafafa" stroke="#a2a2a2" stroke-width="0.75"/>
<circle cx="484.77" cy="132.22" r="3.16" fill="#fafafa" stroke="#a2a2a2" stroke-width="0.75"/>
<circle cx="424.47" cy="177.17" r="3.09" fill="#fafafa" stroke="#a2a2a2" stroke-width="0.75"/>
<circle cx="435.64" cy="117.26" r="2.6" fill="#fafafa" stroke="#a2a2a2" stroke-width="0.75"/>
<circle cx="468.19" cy="192.4" r="2.63" fill="#fafafa" stroke="#a2a2a2" stroke-width="0.75"/>
<circle cx="494.78" cy="140.02" r="3.12" fill="#fafafa" stroke="#a2a2a2" stroke-width="0.75"/>
<circle cx="487.8" cy="163.63" r="2.68" fill="#fafafa" stroke="#a2a2a2" stroke-width="0.75"/>
<circle cx="464.44" cy="113.26" r="2.96" fill="#fafafa" stroke="#a2a2a2" stroke-width="0.75"/>
<circle cx="396.79" cy="135.18" r="2.9" fill="#fafafa" stroke="#a2a2a2" stroke-width="0.75"/>
<circle cx="450.87" cy="176.9" r="3.02" fill="#fafafa" stroke="#a2a2a2" stroke-width="0.75"/>
<circle cx="446.02" cy="127.59" r="2.6" fill="#fafafa" stroke="#a2a2a2" stroke-width="0.75"/>
<circle cx="456.47" cy="181.32" r="2.54" fill="#fafafa" stroke="#a2a2a2" stroke-width="0.75"/>
<circle cx="462.32" cy="186.1" r="2.59" fill="#fafafa" stroke="#a2a2a2" stroke-width="0.75"/>
<circle cx="428.16" cy="201.06" r="2.52" fill="#fafafa" stroke="#a2a2a2" stroke-width="0.75"/>
<circle cx="487.09" cy="138.06" r="2.94" fill="#fafafa" stroke="#a2a2a2" stroke-width="0.75"/>
<circle cx="469.54" cy="189.34" r="3.19" fill="#fafafa" stroke="#a2a2a2" stroke-width="0.75"/>
<circle cx="497.05" cy="137.58" r="2.78" fill="#fafafa" stroke="#a2a2a2" stroke-width="0.75"/>
<circle cx="429.16" cy="191.92" r="3.17" fill="#fafafa" stroke="#a2a2a2" stroke-width="0.75"/>
<circle cx="444.35" cy="147.24" r="2.88" fill="#fafafa" stroke="#a2a2a2" stroke-width="0.75"/>
<circle cx="466.81" cy="136.83" r="2.62" fill="#fafafa" stroke="#a2a2a2" stroke-width="0.75"/>
<circle cx="486.44" cy="172.66" r="2.79" fill="#fafafa" stroke="#a2a2a2" stroke-width="0.75"/>
<circle cx="483.55" cy="136.34" r="2.93" fill="#fafafa" stroke="#a2a2a2" stroke-width="0.75"/>
<circle cx="427.21" cy="136.79" r="3.05" fill="#fafafa" stroke="#a2a2a2" stroke-width="0.75"/>
<circle cx="505.48" cy="184.32" r="2.82" fill="#fafafa" stroke="#a2a2a2" stroke-width="0.75"/>
<circle cx="491.74" cy="191.98" r="2.99" fill="#fafafa" stroke="#a2a2a2" stroke-width="0.75"/>
<circle cx="452.7" cy="205.69" r="2.5" fill="#fafafa" stroke="#a2a2a2" stroke-width="0.75"/>
<circle cx="500.48" cy="190.07" r="3.1" fill="#fafafa" stroke="#a2a2a2" stroke-width="0.75"/>
<circle cx="501.91" cy="111.65" r="2.52" fill="#fafafa" stroke="#a2a2a2" stroke-width="0.75"/>
<circle cx="451.88" cy="167.77" r="3.12" fill="#fafafa" stroke="#a2a2a2" stroke-width="0.75"/>
<circle cx="482.67" cy="175.34" r="2.73" fill="#fafafa" stroke="#a2a2a2" stroke-width="0.75"/>
<circle cx="468.1" cy="165.73" r="2.9" fill="#fafafa" stroke="#a2a2a2" stroke-width="0.75"/>
<circle cx="448.23" cy="129.63" r="3.06" fill="#fafafa" stroke="#a2a2a2" stroke-width="0.75"/>
<circle cx="495.27" cy="152.68" r="3.12" fill="#fafafa" stroke="#a2a2a2" stroke-width="0.75"/>
<circle cx="483.43" cy="200.81" r="2.87" fill="#fafafa" stroke="#a2a2a2" stroke-width="0.75"/>
<circle cx="439.57" cy="109.37" r="2.74" fill="#fafafa" stroke="#a2a2a2" stroke-width="0.75"/>
<circle cx="426.42" cy="143.03" r="3.19" fill="#fafafa" stroke="#a2a2a2" stroke-width="0.75"/>
<circle cx="412.87" cy="207.09" r="2.99" fill="#fafafa" stroke="#a2a2a2" stroke-width="0.75"/>
<circle cx="431.6" cy="206.91" r="2.54" fill="#fafafa" stroke="#a2a2a2" stroke-width="0.75"/>
<circle cx="483.88" cy="189.31" r="2.59" fill="#fafafa" stroke="#a2a2a2" stroke-width="0.75"/>
<circle cx="450.47" cy="189.26" r="2.62" fill="#fafafa" stroke="#a2a2a2" stroke-width="0.75"/>
<circle cx="445.59" cy="157.78" r="2.56" fill="#fafafa" stroke="#a2a2a2" stroke-width="0.75"/>
<circle cx="413.61" cy="186.41" r="2.87" fill="#fafafa" stroke="#a2a2a2" stroke-width="0.75"/>
<circle cx="486.57" cy="169.62" r="2.62" fill="#fafafa" stroke="#a2a2a2" stroke-width="0.75"/>
<circle cx="422.5" cy="136.29" r="2.83" fill="#fafafa" stroke="#a2a2a2" stroke-width="0.75"/>
<circle cx="505.24" cy="214.4" r="2.8" fill="#fafafa" stroke="#a2a2a2" stroke-width="0.75"/>
<circle cx="483.58" cy="169.13" r="2.77" fill="#fafafa" stroke="#a2a2a2" stroke-width="0.75"/>
<circle cx="446.69" cy="199.06" r="3.08" fill="#fafafa" stroke="#a2a2a2" stroke-width="0.75"/>
<circle cx="442.83" cy="185.98" r="2.75" fill="#fafafa" stroke="#a2a2a2" stroke-width="0.75"/>
<circle cx="421.26" cy="127.82" r="2.66" fill="#fafafa" stroke="#a2a2a2" stroke-width="0.75"/>
<circle cx="403.85" cy="149.71" r="2.85" fill="#fafafa" stroke="#a2a2a2" stroke-width="0.75"/>
<circle cx="436.93" cy="216.26" r="3.11" fill="#fafafa" stroke="#a2a2a2" stroke-width="0.75"/>
<circle cx="507.08" cy="162.94" r="2.99" fill="#fafafa" stroke="#a2a2a2" stroke-width="0.75"/>
<circle cx="470.45" cy="119.35" r="2.69" fill="#fafafa" stroke="#a2a2a2" stroke-width="0.75"/>
<circle cx="402.35" cy="163.62" r="2.88" fill="#fafafa" stroke="#a2a2a2" stroke-width="0.75"/>
<circle cx="427.77" cy="176.62" r="2.8" fill="#fafafa" stroke="#a2a2a2" stroke-width="0.75"/>
<circle cx="412.61" cy="130.85" r="2.51" fill="#fafafa" stroke="#a2a2a2" stroke-width="0.75"/>
<circle cx="468.93" cy="140.86" r="2.94" fill="#fafafa" stroke="#a2a2a2" stroke-width="0.75"/>
<circle cx="411.55" cy="155.19" r="3.11" fill="#fafafa" stroke="#a2a2a2" stroke-width="0.75"/>
<circle cx="495.05" cy="218.52" r="3.08" fill="#fafafa" stroke="#a2a2a2" stroke-width="0.75"/>
<circle cx="489.95" cy="146.46" r="2.55" fill="#fafafa" stroke="#a2a2a2" stroke-width="0.75"/>
<circle cx="412.64" cy="144.88" r="2.75" fill="#fafafa" stroke="#a2a2a2" stroke-width="0.75"/>
<circle cx="406.54" cy="163.78" r="2.62" fill="#fafafa" stroke="#a2a2a2" stroke-width="0.75"/>
<circle cx="401.71" cy="170.66" r="3.17" fill="#fafafa" stroke="#a2a2a2" stroke-width="0.75"/>
<circle cx="436.83" cy="137" r="3.01" fill="#fafafa" stroke="#a2a2a2" stroke-width="0.75"/>
<circle cx="424.57" cy="153.36" r="2.72" fill="#fafafa" stroke="#a2a2a2" stroke-width="0.75"/>
<circle cx="477.89" cy="153.64" r="2.75" fill="#fafafa" stroke="#a2a2a2" stroke-width="0.75"/>
<circle cx="451.77" cy="133.05" r="2.66" fill="#fafafa" stroke="#a2a2a2" stroke-width="0.75"/>
<circle cx="424.65" cy="188.33" r="3.12" fill="#fafafa" stroke="#a2a2a2" stroke-width="0.75"/>
<circle cx="501.04" cy="201.94" r="2.97" fill="#fafafa" stroke="#a2a2a2" stroke-width="0.75"/>
<circle cx="501.45" cy="165.34" r="2.55" fill="#fafafa" stroke="#a2a2a2" stroke-width="0.75"/>
<circle cx="431.18" cy="187.75" r="2.56" fill="#fafafa" stroke="#a2a2a2" stroke-width="0.75"/>
<circle cx="433.91" cy="196.79" r="3.15" fill="#fafafa" stroke="#a2a2a2" stroke-width="0.75"/>
<circle cx="463.55" cy="166.04" r="2.5" fill="#fafafa" stroke="#a2a2a2" stroke-width="0.75"/>
<circle cx="485.18" cy="107.19" r="2.98" fill="#fafafa" stroke="#a2a2a2" stroke-width="0.75"/>
<circle cx="426.72" cy="210.11" r="3.13" fill="#fafafa" stroke="#a2a2a2" stroke-width="0.75"/>
<circle cx="453.84" cy="172.19" r="3.03" fill="#fafafa" stroke="#a2a2a2" stroke-width="0.75"/>
<circle cx="433.15" cy="146.95" r="2.63" fill="#fafafa" stroke="#a2a2a2" stroke-width="0.75"/>
<circle cx="475.11" cy="182.59" r="2.88" fill="#fafafa" stroke="#a2a2a2" stroke-width="0.75"/>
<circle cx="473.84" cy="138.23" r="3.19" fill="#fafafa" stroke="#a2a2a2" stroke-width="0.75"/>
<circle cx="481.39" cy="190.89" r="2.91" fill="#fafafa" stroke="#a2a2a2" stroke-width="0.75"/>
<circle cx="495.71" cy="214.41" r="2.75" fill="#fafafa" stroke="#a2a2a2" stroke-width="0.75"/>
<circle cx="461.1" cy="138.94" r="2.99" fill="#fafafa" stroke="#a2a2a2" stroke-width="0.75"/>
<circle cx="404.24" cy="140.08" r="3" fill="#fafafa" stroke="#a2a2a2" stroke-width="0.75"/>
<circle cx="481.12" cy="184.21" r="2.81" fill="#fafafa" stroke="#a2a2a2" stroke-width="0.75"/>
<circle cx="410.09" cy="119.08" r="2.62" fill="#fafafa" stroke="#a2a2a2" stroke-width="0.75"/>
<circle cx="405.86" cy="218.79" r="2.84" fill="#fafafa" stroke="#a2a2a2" stroke-width="0.75"/>
<circle cx="399.71" cy="116.38" r="2.97" fill="#fafafa" stroke="#a2a2a2" stroke-width="0.75"/>
<circle cx="405.47" cy="186.58" r="3.11" fill="#fafafa" stroke="#a2a2a2" stroke-width="0.75"/>
<circle cx="408.4" cy="133.45" r="3.16" fill="#fafafa" stroke="#a2a2a2" stroke-width="0.75"/>
<circle cx="407.31" cy="124.96" r="2.52" fill="#fafafa" stroke="#a2a2a2" stroke-width="0.75"/>
<circle cx="502.29" cy="143.6" r="3.04" fill="#fafafa" stroke="#a2a2a2" stroke-width="0.75"/>
<circle cx="412.68" cy="139.36" r="2.94" fill="#fafafa" stroke="#a2a2a2" stroke-width="0.75"/>
<circle cx="504.71" cy="159.06" r="2.72" fill="#fafafa" stroke="#a2a2a2" stroke-width="0.75"/>
<circle cx="480.17" cy="159.93" r="2.91" fill="#fafafa" stroke="#a2a2a2" stroke-width="0.75"/>
<circle cx="453.36" cy="159.35" r="2.58" fill="#fafafa" stroke="#a2a2a2" stroke-width="0.75"/>
<circle cx="426.52" cy="163.94" r="2.88" fill="#fafafa" stroke="#a2a2a2" stroke-width="0.75"/>
<circle cx="479.29" cy="206.09" r="3.02" fill="#fafafa" stroke="#a2a2a2" stroke-width="0.75"/>
<circle cx="496.41" cy="195.03" r="3.18" fill="#fafafa" stroke="#a2a2a2" stroke-width="0.75"/>
<circle cx="471.54" cy="163.84" r="2.96" fill="#fafafa" stroke="#a2a2a2" stroke-width="0.75"/>
<circle cx="474.76" cy="194.92" r="2.61" fill="#fafafa" stroke="#a2a2a2" stroke-width="0.75"/>
<circle cx="410.41" cy="161.99" r="2.65" fill="#fafafa" stroke="#a2a2a2" stroke-width="0.75"/>
<circle cx="433.72" cy="203.53" r="2.69" fill="#fafafa" stroke="#a2a2a2" stroke-width="0.75"/>
<circle cx="448.12" cy="150.44" r="3.19" fill="#fafafa" stroke="#a2a2a2" stroke-width="0.75"/>
<circle cx="409.23" cy="144.63" r="2.86" fill="#fafafa" stroke="#a2a2a2" stroke-width="0.75"/>
<circle cx="497.4" cy="166.19" r="3.18" fill="#fafafa" stroke="#a2a2a2" stroke-width="0.75"/>
<circle cx="480.18" cy="118.16" r="3.15" fill="#fafafa" stroke="#a2a2a2" stroke-width="0.75"/>
<circle cx="472.87" cy="149.97" r="3.05" fill="#fafafa" stroke="#a2a2a2" stroke-width="0.75"/>
<circle cx="435.52" cy="185.37" r="2.9" fill="#fafafa" stroke="#a2a2a2" stroke-width="0.75"/>
<circle cx="457.72" cy="144.04" r="3.04" fill="#fafafa" stroke="#a2a2a2" stroke-width="0.75"/>
<circle cx="427.65" cy="128.25" r="3.02" fill="#fafafa" stroke="#a2a2a2" stroke-width="0.75"/>
<circle cx="504.39" cy="113.57" r="2.94" fill="#fafafa" stroke="#a2a2a2" stroke-width="0.75"/>
<circle cx="403.56" cy="188.84" r="2.73" fill="#fafafa" stroke="#a2a2a2" stroke-width="0.75"/>
<circle cx="472.37" cy="130.61" r="3.01" fill="#fafafa" stroke="#a2a2a2" stroke-width="0.75"/>
<circle cx="426.76" cy="205.62" r="2.85" fill="#fafafa" stroke="#a2a2a2" stroke-width="0.75"/>
<circle cx="480.43" cy="150.87" r="2.98" fill="#fafafa" stroke="#a2a2a2" stroke-width="0.75"/>
<circle cx="436.74" cy="207.78" r="2.93" fill="#fafafa" stroke="#a2a2a2" stroke-width="0.75"/>
<circle cx="402.21" cy="114.77" r="3.19" fill="#fafafa" stroke="#a2a2a2" stroke-width="0.75"/>
<circle cx="509.48" cy="173.59" r="2.97" fill="#fafafa" stroke="#a2a2a2" stroke-width="0.75"/>
<circle cx="430.14" cy="209.98" r="3.12" fill="#fafafa" stroke="#a2a2a2" stroke-width="0.75"/>
<circle cx="465.99" cy="120.45" r="2.8" fill="#fafafa" stroke="#a2a2a2" stroke-width="0.75"/>
<circle cx="438.75" cy="186.11" r="2.84" fill="#fafafa" stroke="#a2a2a2" stroke-width="0.75"/>
<circle cx="460.94" cy="207.15" r="3.1" fill="#fafafa" stroke="#a2a2a2" stroke-width="0.75"/>
<circle cx="410.25" cy="199.04" r="2.89" fill="#fafafa" stroke="#a2a2a2" stroke-width="0.75"/>
<circle cx="402.82" cy="177.23" r="3.06" fill="#fafafa" stroke="#a2a2a2" stroke-width="0.75"/>
<circle cx="458.96" cy="163.51" r="3.05" fill="#fafafa" stroke="#a2a2a2" stroke-width="0.75"/>
<circle cx="430.49" cy="215.68" r="2.65" fill="#fafafa" stroke="#a2a2a2" stroke-width="0.75"/>
<circle cx="411.49" cy="190.5" r="2.66" fill="#fafafa" stroke="#a2a2a2" stroke-width="0.75"/>
<circle cx="495.29" cy="180.09" r="2.72" fill="#fafafa" stroke="#a2a2a2" stroke-width="0.75"/>
<circle cx="481.66" cy="147.35" r="2.92" fill="#fafafa" stroke="#a2a2a2" stroke-width="0.75"/>
<circle cx="456.27" cy="116.12" r="2.75" fill="#fafafa" stroke="#a2a2a2" stroke-width="0.75"/>
<circle cx="451.11" cy="171.12" r="3.15" fill="#fafafa" stroke="#a2a2a2" stroke-width="0.75"/>
<circle cx="436.22" cy="152.99" r="3.04" fill="#fafafa" stroke="#a2a2a2" stroke-width="0.75"/>
<circle cx="494.05" cy="221.98" r="2.67" fill="#fafafa" stroke="#a2a2a2" stroke-width="0.75"/>
<circle cx="401.69" cy="217.93" r="2.94" fill="#fafafa" stroke="#a2a2a2" stroke-width="0.75"/>
<circle cx="447.62" cy="206.88" r="3.05" fill="#fafafa" stroke="#a2a2a2" stroke-width="0.75"/>
<circle cx="464.61" cy="106.1" r="2.84" fill="#fafafa" stroke="#a2a2a2" stroke-width="0.75"/>
<circle cx="425.25" cy="202.08" r="2.72" fill="#fafafa" stroke="#a2a2a2" stroke-width="0.75"/>
<circle cx="426.93" cy="197.83" r="2.83" fill="#fafafa" stroke="#a2a2a2" stroke-width="0.75"/>
<circle cx="479.81" cy="199.36" r="3.19" fill="#fafafa" stroke="#a2a2a2" stroke-width="0.75"/>
<circle cx="441.88" cy="203.03" r="2.94" fill="#fafafa" stroke="#a2a2a2" stroke-width="0.75"/>
<circle cx="485" cy="205.36" r="2.62" fill="#fafafa" stroke="#a2a2a2" stroke-width="0.75"/>
<circle cx="486.82" cy="196.98" r="2.75" fill="#fafafa" stroke="#a2a2a2" stroke-width="0.75"/>
<circle cx="487.09" cy="208.72" r="2.87" fill="#fafafa" stroke="#a2a2a2" stroke-width="0.75"/>
<circle cx="445.94" cy="212.57" r="2.85" fill="#fafafa" stroke="#a2a2a2" stroke-width="0.75"/>
<circle cx="419.13" cy="121.53" r="2.8" fill="#fafafa" stroke="#a2a2a2" stroke-width="0.75"/>
<circle cx="505" cy="128.62" r="3.06" fill="#fafafa" stroke="#a2a2a2" stroke-width="0.75"/>
<circle cx="421.52" cy="117.78" r="2.92" fill="#fafafa" stroke="#a2a2a2" stroke-width="0.75"/>
<circle cx="455.15" cy="216.17" r="3.14" fill="#fafafa" stroke="#a2a2a2" stroke-width="0.75"/>
<circle cx="506.94" cy="119.8" r="3.12" fill="#fafafa" stroke="#a2a2a2" stroke-width="0.75"/>
<circle cx="436.5" cy="111.3" r="3" fill="#fafafa" stroke="#a2a2a2" stroke-width="0.75"/>
<circle cx="450.24" cy="123.09" r="2.59" fill="#fafafa" stroke="#a2a2a2" stroke-width="0.75"/>
<circle cx="470.81" cy="170.43" r="2.64" fill="#fafafa" stroke="#a2a2a2" stroke-width="0.75"/>
<circle cx="495.42" cy="190.95" r="2.97" fill="#fafafa" stroke="#a2a2a2" stroke-width="0.75"/>
<circle cx="457.46" cy="121.5" r="3.11" fill="#fafafa" stroke="#a2a2a2" stroke-width="0.75"/>
<circle cx="432.99" cy="139.61" r="3.13" fill="#fafafa" stroke="#a2a2a2" stroke-width="0.75"/>
<circle cx="444.6" cy="163.32" r="2.83" fill="#fafafa" stroke="#a2a2a2" stroke-width="0.75"/>
<circle cx="505.61" cy="188.56" r="2.95" fill="#fafafa" stroke="#a2a2a2" stroke-width="0.75"/>
<circle cx="505.72" cy="196.93" r="2.56" fill="#fafafa" stroke="#a2a2a2" stroke-width="0.75"/>
<circle cx="460.88" cy="174.39" r="3.08" fill="#fafafa" stroke="#a2a2a2" stroke-width="0.75"/>
<circle cx="423.39" cy="207.15" r="3.16" fill="#fafafa" stroke="#a2a2a2" stroke-width="0.75"/>
<circle cx="449.07" cy="134.12" r="2.56" fill="#fafafa" stroke="#a2a2a2" stroke-width="0.75"/>
<circle cx="408.88" cy="138.3" r="3.06" fill="#fafafa" stroke="#a2a2a2" stroke-width="0.75"/>
<circle cx="496.92" cy="170.97" r="2.63" fill="#fafafa" stroke="#a2a2a2" stroke-width="0.75"/>
<circle cx="501.03" cy="148.45" r="2.69" fill="#fafafa" stroke="#a2a2a2" stroke-width="0.75"/>
<circle cx="444.4" cy="111.93" r="2.74" fill="#fafafa" stroke="#a2a2a2" stroke-width="0.75"/>
<circle cx="448.16" cy="160.58" r="3.19" fill="#fafafa" stroke="#a2a2a2" stroke-width="0.75"/>
<circle cx="397.43" cy="177.67" r="2.66" fill="#fafafa" stroke="#a2a2a2" stroke-width="0.75"/>
<circle cx="430.87" cy="111.47" r="3.18" fill="#fafafa" stroke="#a2a2a2" stroke-width="0.75"/>
<circle cx="488.79" cy="175.4" r="3.01" fill="#fafafa" stroke="#a2a2a2" stroke-width="0.75"/>
<circle cx="457.84" cy="140.54" r="2.65" fill="#fafafa" stroke="#a2a2a2" stroke-width="0.75"/>
<circle cx="469.21" cy="202.61" r="2.66" fill="#fafafa" stroke="#a2a2a2" stroke-width="0.75"/>
<circle cx="426.82" cy="184.3" r="2.59" fill="#fafafa" stroke="#a2a2a2" stroke-width="0.75"/>
<circle cx="479.92" cy="156.28" r="2.54" fill="#fafafa" stroke="#a2a2a2" stroke-width="0.75"/>
<circle cx="471.92" cy="141.23" r="2.5" fill="#fafafa" stroke="#a2a2a2" stroke-width="0.75"/>
<circle cx="463.32" cy="180.86" r="2.94" fill="#fafafa" stroke="#a2a2a2" stroke-width="0.75"/>
<circle cx="453.29" cy="126.05" r="3.15" fill="#fafafa" stroke="#a2a2a2" stroke-width="0.75"/>
<circle cx="459.52" cy="183.59" r="2.84" fill="#fafafa" stroke="#a2a2a2" stroke-width="0.75"/>
<circle cx="398.99" cy="137.55" r="3.06" fill="#fafafa" stroke="#a2a2a2" stroke-width="0.75"/>
<circle cx="405.22" cy="200.04" r="3.1" fill="#fafafa" stroke="#a2a2a2" stroke-width="0.75"/>
<circle cx="455.49" cy="149.62" r="3.15" fill="#fafafa" stroke="#a2a2a2" stroke-width="0.75"/>
<circle cx="454.68" cy="175.13" r="2.94" fill="#fafafa" stroke="#a2a2a2" stroke-width="0.75"/>
<circle cx="454.52" cy="196.17" r="2.61" fill="#fafafa" stroke="#a2a2a2" stroke-width="0.75"/>
<circle cx="461.66" cy="170.9" r="3.05" fill="#fafafa" stroke="#a2a2a2" stroke-width="0.75"/>
<circle cx="444.51" cy="193.34" r="2.9" fill="#fafafa" stroke="#a2a2a2" stroke-width="0.75"/>
<circle cx="478.9" cy="144.79" r="2.99" fill="#fafafa" stroke="#a2a2a2" stroke-width="0.75"/>
<circle cx="424.01" cy="120.29" r="2.9" fill="#fafafa" stroke="#a2a2a2" stroke-width="0.75"/>
<circle cx="460.76" cy="204" r="2.96" fill="#fafafa" stroke="#a2a2a2" stroke-width="0.75"/>
<circle cx="448.87" cy="194.96" r="2.91" fill="#fafafa" stroke="#a2a2a2" stroke-width="0.75"/>
<circle cx="399.27" cy="128.07" r="2.77" fill="#fafafa" stroke="#a2a2a2" stroke-width="0.75"/>
<circle cx="468.42" cy="176.46" r="2.51" fill="#fafafa" stroke="#a2a2a2" stroke-width="0.75"/>
<circle cx="490.56" cy="112.29" r="2.97" fill="#fafafa" stroke="#a2a2a2" stroke-width="0.75"/>
<circle cx="412.07" cy="213.68" r="2.64" fill="#fafafa" stroke="#a2a2a2" stroke-width="0.75"/>
<circle cx="421.58" cy="123.55" r="2.7" fill="#fafafa" stroke="#a2a2a2" stroke-width="0.75"/>
<circle cx="462.07" cy="216.82" r="2.82" fill="#fafafa" stroke="#a2a2a2" stroke-width="0.75"/>
<circle cx="433.47" cy="123.66" r="2.69" fill="#fafafa" stroke="#a2a2a2" stroke-width="0.75"/>
<circle cx="431.55" cy="132.33" r="2.8" fill="#fafafa" stroke="#a2a2a2" stroke-width="0.75"/>
<circle cx="412.41" cy="164.3" r="3.11" fill="#fafafa" stroke="#a2a2a2" stroke-width="0.75"/>
<circle cx="414.88" cy="205.01" r="2.98" fill="#fafafa" stroke="#a2a2a2" stroke-width="0.75"/>
<circle cx="474.48" cy="202.01" r="2.65" fill="#fafafa" stroke="#a2a2a2" stroke-width="0.75"/>
<circle cx="487.21" cy="159.34" r="2.73" fill="#fafafa" stroke="#a2a2a2" stroke-width="0.75"/>
<circle cx="475.96" cy="117.15" r="2.93" fill="#fafafa" stroke="#a2a2a2" stroke-width="0.75"/>
<circle cx="415.29" cy="149.43" r="2.64" fill="#fafafa" stroke="#a2a2a2" stroke-width="0.75"/>
<circle cx="440.59" cy="166.88" r="3.1" fill="#fafafa" stroke="#a2a2a2" stroke-width="0.75"/>
<circle cx="444.14" cy="190.34" r="2.9" fill="#fafafa" stroke="#a2a2a2" stroke-width="0.75"/>
<circle cx="454.7" cy="192.86" r="2.73" fill="#fafafa" stroke="#a2a2a2" stroke-width="0.75"/>
<circle cx="417.03" cy="170.78" r="2.55" fill="#fafafa" stroke="#a2a2a2" stroke-width="0.75"/>
<circle cx="459.97" cy="124.57" r="2.88" fill="#fafafa" stroke="#a2a2a2" stroke-width="0.75"/>
<circle cx="490.2" cy="183.75" r="2.55" fill="#fafafa" stroke="#a2a2a2" stroke-width="0.75"/>
<circle cx="436.89" cy="173.64" r="2.51" fill="#fafafa" stroke="#a2a2a2" stroke-width="0.75"/>
<circle cx="434.23" cy="171.17" r="2.67" fill="#fafafa" stroke="#a2a2a2" stroke-width="0.75"/>
<circle cx="428.92" cy="141.24" r="2.62" fill="#fafafa" stroke="#a2a2a2" stroke-width="0.75"/>
<circle cx="476.91" cy="216.38" r="3.12" fill="#fafafa" stroke="#a2a2a2" stroke-width="0.75"/>
<circle cx="427.59" cy="145.99" r="3.12" fill="#fafafa" stroke="#a2a2a2" stroke-width="0.75"/>
<circle cx="410.31" cy="184.07" r="3.03" fill="#fafafa" stroke="#a2a2a2" stroke-width="0.75"/>
<circle cx="397.04" cy="186.46" r="2.93" fill="#fafafa" stroke="#a2a2a2" stroke-width="0.75"/>
<circle cx="493.54" cy="147.63" r="2.58" fill="#fafafa" stroke="#a2a2a2" stroke-width="0.75"/>
<circle cx="462.46" cy="129.23" r="2.51" fill="#fafafa" stroke="#a2a2a2" stroke-width="0.75"/>
<circle cx="447.61" cy="147.28" r="2.57" fill="#fafafa" stroke="#a2a2a2" stroke-width="0.75"/>
<circle cx="427.49" cy="152.16" r="2.6" fill="#fafafa" stroke="#a2a2a2" stroke-width="0.75"/>
<circle cx="420.18" cy="153.58" r="2.57" fill="#fafafa" stroke="#a2a2a2" stroke-width="0.75"/>
<circle cx="395.14" cy="193.79" r="2.57" fill="#fafafa" stroke="#a2a2a2" stroke-width="0.75"/>
<circle cx="504.72" cy="148.48" r="2.9" fill="#fafafa" stroke="#a2a2a2" stroke-width="0.75"/>
<circle cx="448.91" cy="173.71" r="2.66" fill="#fafafa" stroke="#a2a2a2" stroke-width="0.75"/>
<circle cx="472.27" cy="176.73" r="2.76" fill="#fafafa" stroke="#a2a2a2" stroke-width="0.75"/>
<circle cx="495.43" cy="187.08" r="2.65" fill="#fafafa" stroke="#a2a2a2" stroke-width="0.75"/>
<circle cx="508.14" cy="206.76" r="2.96" fill="#fafafa" stroke="#a2a2a2" stroke-width="0.75"/>
<circle cx="466.33" cy="203.02" r="2.69" fill="#fafafa" stroke="#a2a2a2" stroke-width="0.75"/>
<circle cx="460.87" cy="144.16" r="2.7" fill="#fafafa" stroke="#a2a2a2" stroke-width="0.75"/>
<circle cx="422.6" cy="113.74" r="3.09" fill="#fafafa" stroke="#a2a2a2" stroke-width="0.75"/>
<circle cx="494.27" cy="177.23" r="3.05" fill="#fafafa" stroke="#a2a2a2" stroke-width="0.75"/>
<circle cx="461.92" cy="162.11" r="2.6" fill="#fafafa" stroke="#a2a2a2" stroke-width="0.75"/>
<circle cx="424.77" cy="219.94" r="3.03" fill="#fafafa" stroke="#a2a2a2" stroke-width="0.75"/>
<circle cx="396.98" cy="147.57" r="3.01" fill="#fafafa" stroke="#a2a2a2" stroke-width="0.75"/>
<circle cx="499.11" cy="212" r="2.71" fill="#fafafa" stroke="#a2a2a2" stroke-width="0.75"/>
<circle cx="436.33" cy="157.17" r="2.78" fill="#fafafa" stroke="#a2a2a2" stroke-width="0.75"/>
<circle cx="398.78" cy="131.15" r="3.05" fill="#fafafa" stroke="#a2a2a2" stroke-width="0.75"/>
<circle cx="416.91" cy="218.72" r="2.56" fill="#fafafa" stroke="#a2a2a2" stroke-width="0.75"/>
<circle cx="489.91" cy="223.25" r="2.51" fill="#fafafa" stroke="#a2a2a2" stroke-width="0.75"/>
<circle cx="461.73" cy="219.94" r="2.67" fill="#fafafa" stroke="#a2a2a2" stroke-width="0.75"/>
<circle cx="439.73" cy="136.17" r="2.76" fill="#fafafa" stroke="#a2a2a2" stroke-width="0.75"/>
<circle cx="449.48" cy="126.26" r="2.94" fill="#fafafa" stroke="#a2a2a2" stroke-width="0.75"/>
<circle cx="477.83" cy="201.5" r="3.17" fill="#fafafa" stroke="#a2a2a2" stroke-width="0.75"/>
<circle cx="500.19" cy="133.48" r="2.74" fill="#fafafa" stroke="#a2a2a2" stroke-width="0.75"/>
<circle cx="476.87" cy="138.78" r="2.56" fill="#fafafa" stroke="#a2a2a2" stroke-width="0.75"/>
<circle cx="489.34" cy="199.46" r="2.75" fill="#fafafa" stroke="#a2a2a2" stroke-width="0.75"/>
<circle cx="504.02" cy="122.6" r="2.57" fill="#fafafa" stroke="#a2a2a2" stroke-width="0.75"/>
<circle cx="449.73" cy="200.03" r="2.8" fill="#fafafa" stroke="#a2a2a2" stroke-width="0.75"/>
<circle cx="498.85" cy="177.7" r="3.03" fill="#fafafa" stroke="#a2a2a2" stroke-width="0.75"/>
<circle cx="477.33" cy="109.51" r="3.12" fill="#fafafa" stroke="#a2a2a2" stroke-width="0.75"/>
<circle cx="423.59" cy="147.21" r="2.86" fill="#fafafa" stroke="#a2a2a2" stroke-width="0.75"/>
<circle cx="509.28" cy="182.88" r="2.81" fill="#fafafa" stroke="#a2a2a2" stroke-width="0.75"/>
<circle cx="438.59" cy="116.57" r="2.7" fill="#fafafa" stroke="#a2a2a2" stroke-width="0.75"/>
<circle cx="497.18" cy="119.19" r="3.01" fill="#fafafa" stroke="#a2a2a2" stroke-width="0.75"/>
<circle cx="410.94" cy="111.69" r="3.02" fill="#fafafa" stroke="#a2a2a2" stroke-width="0.75"/>
<circle cx="455.87" cy="133.94" r="3.07" fill="#fafafa" stroke="#a2a2a2" stroke-width="0.75"/>
<circle cx="430.22" cy="148.13" r="2.66" fill="#fafafa" stroke="#a2a2a2" stroke-width="0.75"/>
<circle cx="477.17" cy="220.94" r="3.11" fill="#fafafa" stroke="#a2a2a2" stroke-width="0.75"/>
<circle cx="500.42" cy="180.62" r="2.56" fill="#fafafa" stroke="#a2a2a2" stroke-width="0.75"/>
<circle cx="497.71" cy="197.74" r="3.09" fill="#fafafa" stroke="#a2a2a2" stroke-width="0.75"/>
<circle cx="505.16" cy="176.02" r="2.77" fill="#fafafa" stroke="#a2a2a2" stroke-width="0.75"/>
<circle cx="492.14" cy="161.66" r="2.52" fill="#fafafa" stroke="#a2a2a2" stroke-width="0.75"/>
<circle cx="509.82" cy="191.52" r="2.88" fill="#fafafa" stroke="#a2a2a2" stroke-width="0.75"/>
<circle cx="490.95" cy="153.31" r="2.76" fill="#fafafa" stroke="#a2a2a2" stroke-width="0.75"/>
<circle cx="472.26" cy="212.54" r="3.1" fill="#fafafa" stroke="#a2a2a2" stroke-width="0.75"/>
<circle cx="398.21" cy="207.2" r="3.14" fill="#fafafa" stroke="#a2a2a2" stroke-width="0.75"/>
<circle cx="489.96" cy="142.2" r="2.67" fill="#fafafa" stroke="#a2a2a2" stroke-width="0.75"/>
<circle cx="463.38" cy="198.35" r="2.86" fill="#fafafa" stroke="#a2a2a2" stroke-width="0.75"/>
<circle cx="404.39" cy="169.08" r="2.57" fill="#fafafa" stroke="#a2a2a2" stroke-width="0.75"/>
<circle cx="413.64" cy="117.94" r="3.13" fill="#fafafa" stroke="#a2a2a2" stroke-width="0.75"/>
<circle cx="421.53" cy="131.54" r="2.92" fill="#fafafa" stroke="#a2a2a2" stroke-width="0.75"/>
<circle cx="490.63" cy="134.74" r="2.66" fill="#fafafa" stroke="#a2a2a2" stroke-width="0.75"/>
<circle cx="455.52" cy="203.37" r="3.02" fill="#fafafa" stroke="#a2a2a2" stroke-width="0.75"/>
<circle cx="473.8" cy="198.69" r="2.65" fill="#fafafa" stroke="#a2a2a2" stroke-width="0.75"/>
<circle cx="400.69" cy="151.51" r="2.58" fill="#fafafa" stroke="#a2a2a2" stroke-width="0.75"/>
<circle cx="441.57" cy="158.91" r="2.94" fill="#fafafa" stroke="#a2a2a2" stroke-width="0.75"/>
<circle cx="415.2" cy="106.61" r="3.13" fill="#fafafa" stroke="#a2a2a2" stroke-width="0.75"/>
<circle cx="452.74" cy="181.64" r="2.91" fill="#fafafa" stroke="#a2a2a2" stroke-width="0.75"/>
<circle cx="392.72" cy="128.52" r="2.68" fill="#fafafa" stroke="#a2a2a2" stroke-width="0.75"/>
<circle cx="460.85" cy="108.1" r="2.88" fill="#fafafa" stroke="#a2a2a2" stroke-width="0.75"/>
<circle cx="458.78" cy="171.75" r="2.53" fill="#fafafa" stroke="#a2a2a2" stroke-width="0.75"/>
<circle cx="431.67" cy="200.71" r="2.64" fill="#fafafa" stroke="#a2a2a2" stroke-width="0.75"/>
<circle cx="508.76" cy="194.87" r="2.56" fill="#fafafa" stroke="#a2a2a2" stroke-width="0.75"/>
<circle cx="480.33" cy="129.21" r="2.64" fill="#fafafa" stroke="#a2a2a2" stroke-width="0.75"/>
<circle cx="444.24" cy="205.32" r="2.57" fill="#fafafa" stroke="#a2a2a2" stroke-width="0.75"/>
<circle cx="495.63" cy="116.23" r="2.62" fill="#fafafa" stroke="#a2a2a2" stroke-width="0.75"/>
<circle cx="433.93" cy="109.69" r="2.79" fill="#fafafa" stroke="#a2a2a2" stroke-width="0.75"/>
<circle cx="415.44" cy="193.5" r="2.53" fill="#fafafa" stroke="#a2a2a2" stroke-width="0.75"/>
<circle cx="418.19" cy="132.08" r="2.96" fill="#fafafa" stroke="#a2a2a2" stroke-width="0.75"/>
<circle cx="439.81" cy="112.68" r="2.94" fill="#fafafa" stroke="#a2a2a2" stroke-width="0.75"/>
<circle cx="423.27" cy="168.31" r="3.14" fill="#fafafa" stroke="#a2a2a2" stroke-width="0.75"/>
<circle cx="445.56" cy="175.34" r="3.1" fill="#fafafa" stroke="#a2a2a2" stroke-width="0.75"/>
<circle cx="439.95" cy="177.23" r="3.08" fill="#fafafa" stroke="#a2a2a2" stroke-width="0.75"/>
<circle cx="396.98" cy="197.57" r="2.56" fill="#fafafa" stroke="#a2a2a2" stroke-width="0.75"/>
<circle cx="454.44" cy="186.45" r="3.07" fill="#fafafa" stroke="#a2a2a2" stroke-width="0.75"/>
<circle cx="474.88" cy="125.63" r="2.65" fill="#fafafa" stroke="#a2a2a2" stroke-width="0.75"/>
<circle cx="469.78" cy="151.8" r="2.92" fill="#fafafa" stroke="#a2a2a2" stroke-width="0.75"/>
<circle cx="440.16" cy="119.25" r="2.82" fill="#fafafa" stroke="#a2a2a2" stroke-width="0.75"/>
<circle cx="429.15" cy="166.8" r="3.13" fill="#fafafa" stroke="#a2a2a2" stroke-width="0.75"/>
<circle cx="425.52" cy="105.92" r="3.14" fill="#fafafa" stroke="#a2a2a2" stroke-width="0.75"/>
<circle cx="418.99" cy="197.07" r="3.1" fill="#fafafa" stroke="#a2a2a2" stroke-width="0.75"/>
<circle cx="486.26" cy="134.83" r="2.71" fill="#fafafa" stroke="#a2a2a2" stroke-width="0.75"/>
<circle cx="469.39" cy="131.41" r="3.17" fill="#fafafa" stroke="#a2a2a2" stroke-width="0.75"/>
<circle cx="395.54" cy="157.06" r="2.68" fill="#fafafa" stroke="#a2a2a2" stroke-width="0.75"/>
<circle cx="483.44" cy="208.12" r="2.74" fill="#fafafa" stroke="#a2a2a2" stroke-width="0.75"/>
<circle cx="475.6" cy="210.07" r="3.05" fill="#fafafa" stroke="#a2a2a2" stroke-width="0.75"/>
<circle cx="493.28" cy="119.49" r="3.04" fill="#fafafa" stroke="#a2a2a2" stroke-width="0.75"/>
<circle cx="501.88" cy="177.4" r="3.05" fill="#fafafa" stroke="#a2a2a2" stroke-width="0.75"/>
<circle cx="418.58" cy="201.64" r="2.51" fill="#fafafa" stroke="#a2a2a2" stroke-width="0.75"/>
<circle cx="421.33" cy="145.13" r="3.01" fill="#fafafa" stroke="#a2a2a2" stroke-width="0.75"/>
<circle cx="508" cy="201.89" r="2.73" fill="#fafafa" stroke="#a2a2a2" stroke-width="0.75"/>
<circle cx="458.51" cy="193.8" r="2.8" fill="#fafafa" stroke="#a2a2a2" stroke-width="0.75"/>
<circle cx="498.69" cy="162.62" r="2.74" fill="#fafafa" stroke="#a2a2a2" stroke-width="0.75"/>
<circle cx="477.43" cy="179.53" r="2.74" fill="#fafafa" stroke="#a2a2a2" stroke-width="0.75"/>
<circle cx="469.64" cy="217.17" r="2.8" fill="#fafafa" stroke="#a2a2a2" stroke-width="0.75"/>
<circle cx="406.01" cy="203.58" r="3.04" fill="#fafafa" stroke="#a2a2a2" stroke-width="0.75"/>
<circle cx="401" cy="109.95" r="2.82" fill="#fafafa" stroke="#a2a2a2" stroke-width="0.75"/>
<circle cx="478.82" cy="123.1" r="3.13" fill="#fafafa" stroke="#a2a2a2" stroke-width="0.75"/>
<circle cx="396.72" cy="139.56" r="2.62" fill="#fafafa" stroke="#a2a2a2" stroke-width="0.75"/>
<circle cx="511.13" cy="213.86" r="2.73" fill="#fafafa" stroke="#a2a2a2" stroke-width="0.75"/>
<circle cx="450.91" cy="141.77" r="2.66" fill="#fafafa" stroke="#a2a2a2" stroke-width="0.75"/>
<circle cx="399.89" cy="184.58" r="3.1" fill="#fafafa" stroke="#a2a2a2" stroke-width="0.75"/>
<circle cx="419.94" cy="181.2" r="2.82" fill="#fafafa" stroke="#a2a2a2" stroke-width="0.75"/>
<circle cx="475.03" cy="187.99" r="2.73" fill="#fafafa" stroke="#a2a2a2" stroke-width="0.75"/>
<circle cx="497.06" cy="208.6" r="2.77" fill="#fafafa" stroke="#a2a2a2" stroke-width="0.75"/>
<circle cx="460.75" cy="210.26" r="2.77" fill="#fafafa" stroke="#a2a2a2" stroke-width="0.75"/>
<circle cx="443.51" cy="120.42" r="3.03" fill="#fafafa" stroke="#a2a2a2" stroke-width="0.75"/>
<circle cx="440.45" cy="199.73" r="3.17" fill="#fafafa" stroke="#a2a2a2" stroke-width="0.75"/>
<circle cx="473.62" cy="153.18" r="2.94" fill="#fafafa" stroke="#a2a2a2" stroke-width="0.75"/>
<circle cx="397" cy="221.55" r="2.5" fill="#fafafa" stroke="#a2a2a2" stroke-width="0.75"/>
<circle cx="438.32" cy="195.7" r="3.05" fill="#fafafa" stroke="#a2a2a2" stroke-width="0.75"/>
<circle cx="435.84" cy="141.28" r="2.69" fill="#fafafa" stroke="#a2a2a2" stroke-width="0.75"/>
<circle cx="486.68" cy="140.96" r="2.92" fill="#fafafa" stroke="#a2a2a2" stroke-width="0.75"/>
<circle cx="463.18" cy="117.64" r="3.1" fill="#fafafa" stroke="#a2a2a2" stroke-width="0.75"/>
<circle cx="445.85" cy="182.58" r="2.85" fill="#fafafa" stroke="#a2a2a2" stroke-width="0.75"/>
<circle cx="437.11" cy="191.08" r="3" fill="#fafafa" stroke="#a2a2a2" stroke-width="0.75"/>
<circle cx="479.87" cy="177.2" r="2.98" fill="#fafafa" stroke="#a2a2a2" stroke-width="0.75"/>
<circle cx="488.81" cy="115.68" r="2.75" fill="#fafafa" stroke="#a2a2a2" stroke-width="0.75"/>
<circle cx="396.76" cy="120.05" r="2.6" fill="#fafafa" stroke="#a2a2a2" stroke-width="0.75"/>
<circle cx="437.88" cy="212.03" r="2.59" fill="#fafafa" stroke="#a2a2a2" stroke-width="0.75"/>
<circle cx="453.67" cy="122.36" r="3.08" fill="#fafafa" stroke="#a2a2a2" stroke-width="0.75"/>
<circle cx="483.87" cy="159.56" r="2.64" fill="#fafafa" stroke="#a2a2a2" stroke-width="0.75"/>
<circle cx="418.25" cy="177.89" r="2.78" fill="#fafafa" stroke="#a2a2a2" stroke-width="0.75"/>
<circle cx="406.03" cy="120.99" r="2.87" fill="#fafafa" stroke="#a2a2a2" stroke-width="0.75"/>
<circle cx="406.69" cy="118.03" r="2.85" fill="#fafafa" stroke="#a2a2a2" stroke-width="0.75"/>
<circle cx="502.81" cy="186.67" r="2.61" fill="#fafafa" stroke="#a2a2a2" stroke-width="0.75"/>
<circle cx="467.3" cy="219.16" r="2.67" fill="#fafafa" stroke="#a2a2a2" stroke-width="0.75"/>
<circle cx="422.82" cy="204.25" r="2.65" fill="#fafafa" stroke="#a2a2a2" stroke-width="0.75"/>
<circle cx="490.75" cy="122.61" r="3" fill="#fafafa" stroke="#a2a2a2" stroke-width="0.75"/>
<circle cx="499.19" cy="186.82" r="2.73" fill="#fafafa" stroke="#a2a2a2" stroke-width="0.75"/>
<circle cx="496.2" cy="134.71" r="2.68" fill="#fafafa" stroke="#a2a2a2" stroke-width="0.75"/>
<circle cx="454.65" cy="219.17" r="2.78" fill="#fafafa" stroke="#a2a2a2" stroke-width="0.75"/>
<circle cx="464.23" cy="109.46" r="2.7" fill="#fafafa" stroke="#a2a2a2" stroke-width="0.75"/>
<circle cx="439.92" cy="130.83" r="3.16" fill="#fafafa" stroke="#a2a2a2" stroke-width="0.75"/>
<circle cx="401.35" cy="214.52" r="3.07" fill="#fafafa" stroke="#a2a2a2" stroke-width="0.75"/>
<circle cx="430.84" cy="184.64" r="3.11" fill="#fafafa" stroke="#a2a2a2" stroke-width="0.75"/>
<circle cx="506.53" cy="172.98" r="2.67" fill="#fafafa" stroke="#a2a2a2" stroke-width="0.75"/>
<circle cx="397.42" cy="165.08" r="3.12" fill="#fafafa" stroke="#a2a2a2" stroke-width="0.75"/>
<circle cx="413.4" cy="158.61" r="2.63" fill="#fafafa" stroke="#a2a2a2" stroke-width="0.75"/>
<circle cx="464.57" cy="152.89" r="3.15" fill="#fafafa" stroke="#a2a2a2" stroke-width="0.75"/>
<circle cx="502.59" cy="131.73" r="2.77" fill="#fafafa" stroke="#a2a2a2" stroke-width="0.75"/>
<circle cx="466.53" cy="207.18" r="2.67" fill="#fafafa" stroke="#a2a2a2" stroke-width="0.75"/>
<circle cx="400.21" cy="148.08" r="2.8" fill="#fafafa" stroke="#a2a2a2" stroke-width="0.75"/>
<circle cx="397.58" cy="112.63" r="2.56" fill="#fafafa" stroke="#a2a2a2" stroke-width="0.75"/>
<circle cx="427.77" cy="195.01" r="2.79" fill="#fafafa" stroke="#a2a2a2" stroke-width="0.75"/>
<circle cx="402.19" cy="204.14" r="2.82" fill="#fafafa" stroke="#a2a2a2" stroke-width="0.75"/>
<circle cx="400.32" cy="187.53" r="2.93" fill="#fafafa" stroke="#a2a2a2" stroke-width="0.75"/>
<circle cx="427.92" cy="173.63" r="2.89" fill="#fafafa" stroke="#a2a2a2" stroke-width="0.75"/>
<circle cx="499.57" cy="139.11" r="2.76" fill="#fafafa" stroke="#a2a2a2" stroke-width="0.75"/>
<circle cx="424.17" cy="193.99" r="2.51" fill="#fafafa" stroke="#a2a2a2" stroke-width="0.75"/>
<circle cx="485.4" cy="156.38" r="3.16" fill="#fafafa" stroke="#a2a2a2" stroke-width="0.75"/>
<circle cx="490.37" cy="195.24" r="2.64" fill="#fafafa" stroke="#a2a2a2" stroke-width="0.75"/>
<circle cx="476.42" cy="150.43" r="2.73" fill="#fafafa" stroke="#a2a2a2" stroke-width="0.75"/>
<circle cx="465.58" cy="158.97" r="2.57" fill="#fafafa" stroke="#a2a2a2" stroke-width="0.75"/>
<circle cx="427.62" cy="214.64" r="2.84" fill="#fafafa" stroke="#a2a2a2" stroke-width="0.75"/>
<circle cx="448.81" cy="182.37" r="3.11" fill="#fafafa" stroke="#a2a2a2" stroke-width="0.75"/>
<circle cx="410.71" cy="114.67" r="2.59" fill="#fafafa" stroke="#a2a2a2" stroke-width="0.75"/>
<circle cx="464.31" cy="211.9" r="3.2" fill="#fafafa" stroke="#a2a2a2" stroke-width="0.75"/>
<circle cx="479.76" cy="163.59" r="2.79" fill="#fafafa" stroke="#a2a2a2" stroke-width="0.75"/>
<circle cx="402.6" cy="159.36" r="2.81" fill="#fafafa" stroke="#a2a2a2" stroke-width="0.75"/>
<circle cx="466.06" cy="169.14" r="2.66" fill="#fafafa" stroke="#a2a2a2" stroke-width="0.75"/>
<circle cx="412.09" cy="196.49" r="2.98" fill="#fafafa" stroke="#a2a2a2" stroke-width="0.75"/>
<circle cx="404.01" cy="166.07" r="2.67" fill="#fafafa" stroke="#a2a2a2" stroke-width="0.75"/>
<circle cx="411.39" cy="175.36" r="2.96" fill="#fafafa" stroke="#a2a2a2" stroke-width="0.75"/>
<circle cx="497.83" cy="217.21" r="2.82" fill="#fafafa" stroke="#a2a2a2" stroke-width="0.75"/>
<circle cx="451.11" cy="208.19" r="2.89" fill="#fafafa" stroke="#a2a2a2" stroke-width="0.75"/>
<circle cx="478.09" cy="166.37" r="2.79" fill="#fafafa" stroke="#a2a2a2" stroke-width="0.75"/>
<circle cx="444.33" cy="134.84" r="3.12" fill="#fafafa" stroke="#a2a2a2" stroke-width="0.75"/>
<circle cx="397.21" cy="153.04" r="3.1" fill="#fafafa" stroke="#a2a2a2" stroke-width="0.75"/>
<circle cx="460.67" cy="149.48" r="3.1" fill="#fafafa" stroke="#a2a2a2" stroke-width="0.75"/>
<circle cx="406.78" cy="196.05" r="2.75" fill="#fafafa" stroke="#a2a2a2" stroke-width="0.75"/>
<circle cx="486.71" cy="153.58" r="3.11" fill="#fafafa" stroke="#a2a2a2" stroke-width="0.75"/>
<circle cx="456.49" cy="125.74" r="2.67" fill="#fafafa" stroke="#a2a2a2" stroke-width="0.75"/>
<circle cx="459.75" cy="154.91" r="2.69" fill="#fafafa" stroke="#a2a2a2" stroke-width="0.75"/>
<circle cx="424.91" cy="116.49" r="2.69" fill="#fafafa" stroke="#a2a2a2" stroke-width="0.75"/>
<circle cx="464.06" cy="144.02" r="2.61" fill="#fafafa" stroke="#a2a2a2" stroke-width="0.75"/>
<circle cx="492.2" cy="214.24" r="2.95" fill="#fafafa" stroke="#a2a2a2" stroke-width="0.75"/>
<circle cx="467.9" cy="126.03" r="2.59" fill="#fafafa" stroke="#a2a2a2" stroke-width="0.75"/>
<circle cx="464.37" cy="190.21" r="2.88" fill="#fafafa" stroke="#a2a2a2" stroke-width="0.75"/>
<circle cx="414.24" cy="114.03" r="2.78" fill="#fafafa" stroke="#a2a2a2" stroke-width="0.75"/>
<circle cx="434.32" cy="164.56" r="2.8" fill="#fafafa" stroke="#a2a2a2" stroke-width="0.75"/>
<circle cx="449" cy="156.96" r="2.58" fill="#fafafa" stroke="#a2a2a2" stroke-width="0.75"/>
<circle cx="487.58" cy="128.72" r="2.56" fill="#fafafa" stroke="#a2a2a2" stroke-width="0.75"/>
<circle cx="504.73" cy="179.81" r="2.68" fill="#fafafa" stroke="#a2a2a2" stroke-width="0.75"/>
<circle cx="501.93" cy="125.24" r="3.14" fill="#fafafa" stroke="#a2a2a2" stroke-width="0.75"/>
<circle cx="414.54" cy="124.37" r="2.67" fill="#fafafa" stroke="#a2a2a2" stroke-width="0.75"/>
<circle cx="416.46" cy="188.51" r="2.81" fill="#fafafa" stroke="#a2a2a2" stroke-width="0.75"/>
<circle cx="433.56" cy="126.71" r="3.18" fill="#fafafa" stroke="#a2a2a2" stroke-width="0.75"/>
<circle cx="401.02" cy="173.74" r="2.99" fill="#fafafa" stroke="#a2a2a2" stroke-width="0.75"/>
<circle cx="492.59" cy="114.55" r="2.83" fill="#fafafa" stroke="#a2a2a2" stroke-width="0.75"/>
<circle cx="506.05" cy="217.98" r="3.18" fill="#fafafa" stroke="#a2a2a2" stroke-width="0.75"/>
<circle cx="399.54" cy="140.47" r="2.88" fill="#fafafa" stroke="#a2a2a2" stroke-width="0.75"/>
<circle cx="506.76" cy="141.29" r="2.88" fill="#fafafa" stroke="#a2a2a2" stroke-width="0.75"/>
<circle cx="430.34" cy="162.62" r="2.76" fill="#fafafa" stroke="#a2a2a2" stroke-width="0.75"/>
<circle cx="495.47" cy="111.72" r="2.86" fill="#fafafa" stroke="#a2a2a2" stroke-width="0.75"/>
<circle cx="470.52" cy="109.17" r="3.05" fill="#fafafa" stroke="#a2a2a2" stroke-width="0.75"/>
<circle cx="499.84" cy="193.8" r="3.15" fill="#fafafa" stroke="#a2a2a2" stroke-width="0.75"/>
<circle cx="409.73" cy="123.18" r="2.89" fill="#fafafa" stroke="#a2a2a2" stroke-width="0.75"/>
<circle cx="451.21" cy="197.26" r="2.94" fill="#fafafa" stroke="#a2a2a2" stroke-width="0.75"/>
<circle cx="438.74" cy="139.57" r="2.77" fill="#fafafa" stroke="#a2a2a2" stroke-width="0.75"/>
<circle cx="501.99" cy="137.39" r="2.87" fill="#fafafa" stroke="#a2a2a2" stroke-width="0.75"/>
<circle cx="445.71" cy="124.41" r="3.14" fill="#fafafa" stroke="#a2a2a2" stroke-width="0.75"/>
<circle cx="428.48" cy="217.88" r="2.61" fill="#fafafa" stroke="#a2a2a2" stroke-width="0.75"/>
<circle cx="410.29" cy="141.88" r="2.84" fill="#fafafa" stroke="#a2a2a2" stroke-width="0.75"/>
<circle cx="402.1" cy="211.58" r="3.04" fill="#fafafa" stroke="#a2a2a2" stroke-width="0.75"/>
<circle cx="482.39" cy="215.41" r="3.07" fill="#fafafa" stroke="#a2a2a2" stroke-width="0.75"/>
<circle cx="488.4" cy="125.38" r="3.02" fill="#fafafa" stroke="#a2a2a2" stroke-width="0.75"/>
<circle cx="454.44" cy="213.18" r="2.72" fill="#fafafa" stroke="#a2a2a2" stroke-width="0.75"/>
<circle cx="488.55" cy="132.71" r="2.58" fill="#fafafa" stroke="#a2a2a2" stroke-width="0.75"/>
<circle cx="444.31" cy="131.63" r="3.1" fill="#fafafa" stroke="#a2a2a2" stroke-width="0.75"/>
<circle cx="505.55" cy="116.51" r="2.77" fill="#fafafa" stroke="#a2a2a2" stroke-width="0.75"/>
<circle cx="456.96" cy="211.32" r="3.05" fill="#fafafa" stroke="#a2a2a2" stroke-width="0.75"/>
<circle cx="406.39" cy="177.73" r="2.62" fill="#fafafa" stroke="#a2a2a2" stroke-width="0.75"/>
<circle cx="439.91" cy="148.27" r="3.12" fill="#fafafa" stroke="#a2a2a2" stroke-width="0.75"/>
<circle cx="428.4" cy="169.87" r="2.82" fill="#fafafa" stroke="#a2a2a2" stroke-width="0.75"/>
<circle cx="459.02" cy="187.05" r="2.81" fill="#fafafa" stroke="#a2a2a2" stroke-width="0.75"/>
<circle cx="499.85" cy="114.01" r="2.98" fill="#fafafa" stroke="#a2a2a2" stroke-width="0.75"/>
<circle cx="471.5" cy="200.68" r="2.64" fill="#fafafa" stroke="#a2a2a2" stroke-width="0.75"/>
<circle cx="408.92" cy="151.37" r="2.83" fill="#fafafa" stroke="#a2a2a2" stroke-width="0.75"/>
<circle cx="409.01" cy="129.8" r="2.97" fill="#fafafa" stroke="#a2a2a2" stroke-width="0.75"/>
<circle cx="492.57" cy="189.05" r="2.61" fill="#fafafa" stroke="#a2a2a2" stroke-width="0.75"/>
<circle cx="414.3" cy="152.33" r="2.64" fill="#fafafa" stroke="#a2a2a2" stroke-width="0.75"/>
<circle cx="454.81" cy="167.45" r="3.17" fill="#fafafa" stroke="#a2a2a2" stroke-width="0.75"/>
<circle cx="502.42" cy="116.18" r="2.6" fill="#fafafa" stroke="#a2a2a2" stroke-width="0.75"/>
<circle cx="420.93" cy="163.81" r="3.01" fill="#fafafa" stroke="#a2a2a2" stroke-width="0.75"/>
<circle cx="411.09" cy="167.61" r="2.51" fill="#fafafa" stroke="#a2a2a2" stroke-width="0.75"/>
<circle cx="481.9" cy="181.4" r="2.7" fill="#fafafa" stroke="#a2a2a2" stroke-width="0.75"/>
<circle cx="483.46" cy="193.83" r="3.01" fill="#fafafa" stroke="#a2a2a2" stroke-width="0.75"/>
<circle cx="448.52" cy="219.21" r="2.94" fill="#fafafa" stroke="#a2a2a2" stroke-width="0.75"/>
<circle cx="446.89" cy="114.37" r="2.65" fill="#fafafa" stroke="#a2a2a2" stroke-width="0.75"/>
<circle cx="440.74" cy="189.23" r="2.58" fill="#fafafa" stroke="#a2a2a2" stroke-width="0.75"/>
<circle cx="459.71" cy="178.73" r="2.54" fill="#fafafa" stroke="#a2a2a2" stroke-width="0.75"/>
<circle cx="459.29" cy="131.03" r="2.52" fill="#fafafa" stroke="#a2a2a2" stroke-width="0.75"/>
<circle cx="472.58" cy="186.35" r="2.61" fill="#fafafa" stroke="#a2a2a2" stroke-width="0.75"/>
<circle cx="404.27" cy="110.45" r="3.11" fill="#fafafa" stroke="#a2a2a2" stroke-width="0.75"/>
<circle cx="407.45" cy="155.8" r="2.67" fill="#fafafa" stroke="#a2a2a2" stroke-width="0.75"/>
<circle cx="433.32" cy="175.52" r="2.99" fill="#fafafa" stroke="#a2a2a2" stroke-width="0.75"/>
<circle cx="435.66" cy="178.28" r="3.09" fill="#fafafa" stroke="#a2a2a2" stroke-width="0.75"/>
<circle cx="478.15" cy="186.02" r="2.76" fill="#fafafa" stroke="#a2a2a2" stroke-width="0.75"/>
<circle cx="416.25" cy="212.83" r="2.95" fill="#fafafa" stroke="#a2a2a2" stroke-width="0.75"/>
<circle cx="441.35" cy="144.93" r="2.8" fill="#fafafa" stroke="#a2a2a2" stroke-width="0.75"/>
<circle cx="431.73" cy="168.52" r="2.65" fill="#fafafa" stroke="#a2a2a2" stroke-width="0.75"/>
<circle cx="505.76" cy="210.98" r="2.88" fill="#fafafa" stroke="#a2a2a2" stroke-width="0.75"/>
<circle cx="417.9" cy="135.45" r="2.9" fill="#fafafa" stroke="#a2a2a2" stroke-width="0.75"/>
<circle cx="470.93" cy="167.37" r="3.15" fill="#fafafa" stroke="#a2a2a2" stroke-width="0.75"/>
<circle cx="486.59" cy="145.99" r="3.03" fill="#fafafa" stroke="#a2a2a2" stroke-width="0.75"/>
<circle cx="431.62" cy="128.92" r="2.99" fill="#fafafa" stroke="#a2a2a2" stroke-width="0.75"/>
<circle cx="495.18" cy="155.76" r="2.5" fill="#fafafa" stroke="#a2a2a2" stroke-width="0.75"/>
<circle cx="408.13" cy="212.41" r="3.13" fill="#fafafa" stroke="#a2a2a2" stroke-width="0.75"/>
<circle cx="438.43" cy="179.72" r="2.75" fill="#fafafa" stroke="#a2a2a2" stroke-width="0.75"/>
<circle cx="493.84" cy="109.22" r="2.79" fill="#fafafa" stroke="#a2a2a2" stroke-width="0.75"/>
<circle cx="433.33" cy="155.22" r="2.8" fill="#fafafa" stroke="#a2a2a2" stroke-width="0.75"/>
<circle cx="430.23" cy="204.03" r="2.54" fill="#fafafa" stroke="#a2a2a2" stroke-width="0.75"/>
<circle cx="418.92" cy="157.51" r="2.63" fill="#fafafa" stroke="#a2a2a2" stroke-width="0.75"/>
<circle cx="503" cy="172.44" r="2.81" fill="#fafafa" stroke="#a2a2a2" stroke-width="0.75"/>
<circle cx="494.7" cy="167.61" r="2.8" fill="#fafafa" stroke="#a2a2a2" stroke-width="0.75"/>
<circle cx="402.43" cy="181.46" r="2.58" fill="#fafafa" stroke="#a2a2a2" stroke-width="0.75"/>
<circle cx="421.29" cy="170.43" r="2.61" fill="#fafafa" stroke="#a2a2a2" stroke-width="0.75"/>
<circle cx="493.1" cy="170.99" r="3.09" fill="#fafafa" stroke="#a2a2a2" stroke-width="0.75"/>
<circle cx="462.91" cy="201.64" r="3.15" fill="#fafafa" stroke="#a2a2a2" stroke-width="0.75"/>
<circle cx="420.42" cy="218.27" r="2.88" fill="#fafafa" stroke="#a2a2a2" stroke-width="0.75"/>
<circle cx="407.77" cy="168.24" r="3.11" fill="#fafafa" stroke="#a2a2a2" stroke-width="0.75"/>
<circle cx="484.51" cy="118.26" r="3.03" fill="#fafafa" stroke="#a2a2a2" stroke-width="0.75"/>
<circle cx="501.91" cy="119.8" r="2.71" fill="#fafafa" stroke="#a2a2a2" stroke-width="0.75"/>
<circle cx="501.69" cy="153.27" r="2.5" fill="#fafafa" stroke="#a2a2a2" stroke-width="0.75"/>
<circle cx="399.59" cy="134.36" r="3.2" fill="#fafafa" stroke="#a2a2a2" stroke-width="0.75"/>
<circle cx="470" cy="159.51" r="2.55" fill="#fafafa" stroke="#a2a2a2" stroke-width="0.75"/>
<circle cx="493.24" cy="125.55" r="2.96" fill="#fafafa" stroke="#a2a2a2" stroke-width="0.75"/>
<circle cx="455.01" cy="156.68" r="2.92" fill="#fafafa" stroke="#a2a2a2" stroke-width="0.75"/>
<circle cx="445.16" cy="141.28" r="2.56" fill="#fafafa" stroke="#a2a2a2" stroke-width="0.75"/>
<circle cx="474.95" cy="147.06" r="3.04" fill="#fafafa" stroke="#a2a2a2" stroke-width="0.75"/>
<circle cx="469.92" cy="136.45" r="2.66" fill="#fafafa" stroke="#a2a2a2" stroke-width="0.75"/>
<circle cx="448.44" cy="163.59" r="2.76" fill="#fafafa" stroke="#a2a2a2" stroke-width="0.75"/>
<circle cx="439.85" cy="215.73" r="2.97" fill="#fafafa" stroke="#a2a2a2" stroke-width="0.75"/>
<circle cx="411.24" cy="126.64" r="2.68" fill="#fafafa" stroke="#a2a2a2" stroke-width="0.75"/>
<circle cx="499.99" cy="183.9" r="2.52" fill="#fafafa" stroke="#a2a2a2" stroke-width="0.75"/>
<circle cx="496.64" cy="147.62" r="3.07" fill="#fafafa" stroke="#a2a2a2" stroke-width="0.75"/>
<circle cx="476.16" cy="204.91" r="2.95" fill="#fafafa" stroke="#a2a2a2" stroke-width="0.75"/>
<circle cx="405.18" cy="214.58" r="2.62" fill="#fafafa" stroke="#a2a2a2" stroke-width="0.75"/>
<circle cx="456.92" cy="154.07" r="2.69" fill="#fafafa" stroke="#a2a2a2" stroke-width="0.75"/>
<circle cx="489.98" cy="172.65" r="2.92" fill="#fafafa" stroke="#a2a2a2" stroke-width="0.75"/>
<circle cx="402.07" cy="191.5" r="2.74" fill="#fafafa" stroke="#a2a2a2" stroke-width="0.75"/>
<circle cx="501.96" cy="205.51" r="2.63" fill="#fafafa" stroke="#a2a2a2" stroke-width="0.75"/>
<circle cx="462.97" cy="156.23" r="2.64" fill="#fafafa" stroke="#a2a2a2" stroke-width="0.75"/>
<circle cx="422.3" cy="191.45" r="2.96" fill="#fafafa" stroke="#a2a2a2" stroke-width="0.75"/>
<circle cx="425.85" cy="156.84" r="2.94" fill="#fafafa" stroke="#a2a2a2" stroke-width="0.75"/>
<circle cx="450.55" cy="154.4" r="3.13" fill="#fafafa" stroke="#a2a2a2" stroke-width="0.75"/>
<circle cx="503.4" cy="194" r="3.02" fill="#fafafa" stroke="#a2a2a2" stroke-width="0.75"/>
<circle cx="477.62" cy="112.98" r="3.03" fill="#fafafa" stroke="#a2a2a2" stroke-width="0.75"/>
<circle cx="461.6" cy="213.58" r="2.71" fill="#fafafa" stroke="#a2a2a2" stroke-width="0.75"/>
<circle cx="469.32" cy="206.29" r="3.13" fill="#fafafa" stroke="#a2a2a2" stroke-width="0.75"/>
<circle cx="485.12" cy="110.13" r="2.62" fill="#fafafa" stroke="#a2a2a2" stroke-width="0.75"/>
<circle cx="475.58" cy="213.71" r="3.08" fill="#fafafa" stroke="#a2a2a2" stroke-width="0.75"/>
<circle cx="453.64" cy="178.76" r="2.72" fill="#fafafa" stroke="#a2a2a2" stroke-width="0.75"/>
<circle cx="443.97" cy="178.53" r="2.88" fill="#fafafa" stroke="#a2a2a2" stroke-width="0.75"/>
<circle cx="477.92" cy="189.07" r="2.57" fill="#fafafa" stroke="#a2a2a2" stroke-width="0.75"/>
<circle cx="454.07" cy="189.59" r="3.02" fill="#fafafa" stroke="#a2a2a2" stroke-width="0.75"/>
<circle cx="487.14" cy="217.54" r="2.59" fill="#fafafa" stroke="#a2a2a2" stroke-width="0.75"/>
<circle cx="445.87" cy="186.01" r="2.83" fill="#fafafa" stroke="#a2a2a2" stroke-width="0.75"/>
<circle cx="492.28" cy="207.39" r="3.1" fill="#fafafa" stroke="#a2a2a2" stroke-width="0.75"/>
<circle cx="481.48" cy="187.57" r="2.64" fill="#fafafa" stroke="#a2a2a2" stroke-width="0.75"/>
<circle cx="422.94" cy="185.02" r="2.73" fill="#fafafa" stroke="#a2a2a2" stroke-width="0.75"/>
<circle cx="421.59" cy="199.89" r="2.75" fill="#fafafa" stroke="#a2a2a2" stroke-width="0.75"/>
<circle cx="438.05" cy="218.97" r="2.55" fill="#fafafa" stroke="#a2a2a2" stroke-width="0.75"/>
<circle cx="457.65" cy="147.06" r="2.61" fill="#fafafa" stroke="#a2a2a2" stroke-width="0.75"/>
<circle cx="411.91" cy="179.63" r="2.73" fill="#fafafa" stroke="#a2a2a2" stroke-width="0.75"/>
<circle cx="442.26" cy="150.48" r="2.66" fill="#fafafa" stroke="#a2a2a2" stroke-width="0.75"/>
<circle cx="493.02" cy="137.65" r="2.51" fill="#fafafa" stroke="#a2a2a2" stroke-width="0.75"/>
<circle cx="435.83" cy="193.81" r="2.84" fill="#fafafa" stroke="#a2a2a2" stroke-width="0.75"/>
<circle cx="449.77" cy="109.16" r="3.04" fill="#fafafa" stroke="#a2a2a2" stroke-width="0.75"/>
<circle cx="412.13" cy="150.09" r="2.97" fill="#fafafa" stroke="#a2a2a2" stroke-width="0.75"/>
<circle cx="456.5" cy="198.92" r="2.77" fill="#fafafa" stroke="#a2a2a2" stroke-width="0.75"/>
<circle cx="465.05" cy="175.08" r="2.72" fill="#fafafa" stroke="#a2a2a2" stroke-width="0.75"/>
<circle cx="417.99" cy="142.57" r="3.11" fill="#fafafa" stroke="#a2a2a2" stroke-width="0.75"/>
<circle cx="449.58" cy="117.27" r="3.2" fill="#fafafa" stroke="#a2a2a2" stroke-width="0.75"/>
<circle cx="487.25" cy="202.79" r="2.7" fill="#fafafa" stroke="#a2a2a2" stroke-width="0.75"/>
<circle cx="444.18" cy="197.25" r="2.76" fill="#fafafa" stroke="#a2a2a2" stroke-width="0.75"/>
<circle cx="433.65" cy="214.6" r="3.13" fill="#fafafa" stroke="#a2a2a2" stroke-width="0.75"/>
<circle cx="448.86" cy="168.32" r="3" fill="#fafafa" stroke="#a2a2a2" stroke-width="0.75"/>
<circle cx="503.36" cy="200.06" r="2.98" fill="#fafafa" stroke="#a2a2a2" stroke-width="0.75"/>
<circle cx="480.85" cy="167.64" r="3.16" fill="#fafafa" stroke="#a2a2a2" stroke-width="0.75"/>
<circle cx="493.2" cy="202.28" r="2.98" fill="#fafafa" stroke="#a2a2a2" stroke-width="0.75"/>
<circle cx="417.14" cy="117.96" r="2.89" fill="#fafafa" stroke="#a2a2a2" stroke-width="0.75"/>
<circle cx="457.55" cy="219.48" r="2.93" fill="#fafafa" stroke="#a2a2a2" stroke-width="0.75"/>
<circle cx="443.15" cy="115.68" r="2.61" fill="#fafafa" stroke="#a2a2a2" stroke-width="0.75"/>
<circle cx="423.93" cy="216.92" r="2.72" fill="#fafafa" stroke="#a2a2a2" stroke-width="0.75"/>
<circle cx="463.24" cy="195.31" r="2.9" fill="#fafafa" stroke="#a2a2a2" stroke-width="0.75"/>
<circle cx="442.74" cy="124.42" r="3.18" fill="#fafafa" stroke="#a2a2a2" stroke-width="0.75"/>
<circle cx="440.47" cy="173.99" r="2.87" fill="#fafafa" stroke="#a2a2a2" stroke-width="0.75"/>
<circle cx="411" cy="135.24" r="2.83" fill="#fafafa" stroke="#a2a2a2" stroke-width="0.75"/>
<circle cx="412.25" cy="210.23" r="2.95" fill="#fafafa" stroke="#a2a2a2" stroke-width="0.75"/>
<circle cx="470.07" cy="148.31" r="2.63" fill="#fafafa" stroke="#a2a2a2" stroke-width="0.75"/>
<circle cx="500.58" cy="158.29" r="2.6" fill="#fafafa" stroke="#a2a2a2" stroke-width="0.75"/>
<circle cx="497.11" cy="131.7" r="2.64" fill="#fafafa" stroke="#a2a2a2" stroke-width="0.75"/>
<circle cx="488.25" cy="205.98" r="2.87" fill="#fafafa" stroke="#a2a2a2" stroke-width="0.75"/>
<circle cx="416.12" cy="156.49" r="2.67" fill="#fafafa" stroke="#a2a2a2" stroke-width="0.75"/>
<circle cx="431.43" cy="159.45" r="2.52" fill="#fafafa" stroke="#a2a2a2" stroke-width="0.75"/>
<circle cx="434.29" cy="114.29" r="2.76" fill="#fafafa" stroke="#a2a2a2" stroke-width="0.75"/>
<circle cx="450.33" cy="146.05" r="2.82" fill="#fafafa" stroke="#a2a2a2" stroke-width="0.75"/>
<circle cx="480.95" cy="121.13" r="3.02" fill="#fafafa" stroke="#a2a2a2" stroke-width="0.75"/>
<circle cx="497.44" cy="142.27" r="3.13" fill="#fafafa" stroke="#a2a2a2" stroke-width="0.75"/>
<circle cx="443.95" cy="169.21" r="2.82" fill="#fafafa" stroke="#a2a2a2" stroke-width="0.75"/>
<circle cx="407.15" cy="206.97" r="2.51" fill="#fafafa" stroke="#a2a2a2" stroke-width="0.75"/>
<circle cx="498.18" cy="201.06" r="2.92" fill="#fafafa" stroke="#a2a2a2" stroke-width="0.75"/>
<circle cx="437.93" cy="182.69" r="3.07" fill="#fafafa" stroke="#a2a2a2" stroke-width="0.75"/>
<circle cx="456.07" cy="164.22" r="2.65" fill="#fafafa" stroke="#a2a2a2" stroke-width="0.75"/>
<circle cx="474.22" cy="207.38" r="2.87" fill="#fafafa" stroke="#a2a2a2" stroke-width="0.75"/>
<circle cx="401.82" cy="142.34" r="3.02" fill="#fafafa" stroke="#a2a2a2" stroke-width="0.75"/>
<circle cx="489.02" cy="167.09" r="2.61" fill="#fafafa" stroke="#a2a2a2" stroke-width="0.75"/>
<circle cx="415.03" cy="142.18" r="2.64" fill="#fafafa" stroke="#a2a2a2" stroke-width="0.75"/>
<circle cx="396.64" cy="214.36" r="3.06" fill="#fafafa" stroke="#a2a2a2" stroke-width="0.75"/>
<circle cx="453.19" cy="135.64" r="2.7" fill="#fafafa" stroke="#a2a2a2" stroke-width="0.75"/>
<circle cx="469.4" cy="213.68" r="2.96" fill="#fafafa" stroke="#a2a2a2" stroke-width="0.75"/>
<circle cx="436.77" cy="161.96" r="2.81" fill="#fafafa" stroke="#a2a2a2" stroke-width="0.75"/>
<circle cx="406.96" cy="173.45" r="2.92" fill="#fafafa" stroke="#a2a2a2" stroke-width="0.75"/>
<circle cx="506.52" cy="124.99" r="2.79" fill="#fafafa" stroke="#a2a2a2" stroke-width="0.75"/>
<circle cx="398.11" cy="181.88" r="3.01" fill="#fafafa" stroke="#a2a2a2" stroke-width="0.75"/>
<circle cx="431.79" cy="193.92" r="2.65" fill="#fafafa" stroke="#a2a2a2" stroke-width="0.75"/>
<circle cx="493.74" cy="128.75" r="2.86" fill="#fafafa" stroke="#a2a2a2" stroke-width="0.75"/>
<circle cx="420.49" cy="139.79" r="2.78" fill="#fafafa" stroke="#a2a2a2" stroke-width="0.75"/>
<circle cx="430.76" cy="118.23" r="2.51" fill="#fafafa" stroke="#a2a2a2" stroke-width="0.75"/>
<circle cx="443.99" cy="200.97" r="2.5" fill="#fafafa" stroke="#a2a2a2" stroke-width="0.75"/>
<circle cx="483.76" cy="151.63" r="2.89" fill="#fafafa" stroke="#a2a2a2" stroke-width="0.75"/>
<circle cx="421.41" cy="173.84" r="3.13" fill="#fafafa" stroke="#a2a2a2" stroke-width="0.75"/>
<circle cx="400.03" cy="195.06" r="2.93" fill="#fafafa" stroke="#a2a2a2" stroke-width="0.75"/>
<circle cx="417.6" cy="215.9" r="2.69" fill="#fafafa" stroke="#a2a2a2" stroke-width="0.75"/>
<circle cx="494.21" cy="199.09" r="2.51" fill="#fafafa" stroke="#a2a2a2" stroke-width="0.75"/>
<circle cx="495.58" cy="211.35" r="3.06" fill="#fafafa" stroke="#a2a2a2" stroke-width="0.75"/>
<circle cx="499.63" cy="129.76" r="2.52" fill="#fafafa" stroke="#a2a2a2" stroke-width="0.75"/>
<circle cx="473.5" cy="120.29" r="2.67" fill="#fafafa" stroke="#a2a2a2" stroke-width="0.75"/>
<circle cx="491.84" cy="156.23" r="2.84" fill="#fafafa" stroke="#a2a2a2" stroke-width="0.75"/>
<circle cx="489.14" cy="210.93" r="2.66" fill="#fafafa" stroke="#a2a2a2" stroke-width="0.75"/>
<circle cx="463.1" cy="136.02" r="2.72" fill="#fafafa" stroke="#a2a2a2" stroke-width="0.75"/>
<circle cx="461.53" cy="113.07" r="3.17" fill="#fafafa" stroke="#a2a2a2" stroke-width="0.75"/>
<circle cx="462.11" cy="192.22" r="2.94" fill="#fafafa" stroke="#a2a2a2" stroke-width="0.75"/>
<circle cx="427.73" cy="114.12" r="3.06" fill="#fafafa" stroke="#a2a2a2" stroke-width="0.75"/>
<circle cx="476.12" cy="171.14" r="2.63" fill="#fafafa" stroke="#a2a2a2" stroke-width="0.75"/>
<circle cx="458.05" cy="135.9" r="3.07" fill="#fafafa" stroke="#a2a2a2" stroke-width="0.75"/>
<circle cx="502.81" cy="219.46" r="2.76" fill="#fafafa" stroke="#a2a2a2" stroke-width="0.75"/>
<circle cx="479.51" cy="137.57" r="2.94" fill="#fafafa" stroke="#a2a2a2" stroke-width="0.75"/>
<circle cx="396.51" cy="126.18" r="2.74" fill="#fafafa" stroke="#a2a2a2" stroke-width="0.75"/>
<circle cx="478.76" cy="182.42" r="3.12" fill="#fafafa" stroke="#a2a2a2" stroke-width="0.75"/>
<circle cx="407.98" cy="109.76" r="3.06" fill="#fafafa" stroke="#a2a2a2" stroke-width="0.75"/>
<circle cx="424.97" cy="134.55" r="2.51" fill="#fafafa" stroke="#a2a2a2" stroke-width="0.75"/>
<circle cx="429.35" cy="125.74" r="2.82" fill="#fafafa" stroke="#a2a2a2" stroke-width="0.75"/>
<circle cx="426.08" cy="167.47" r="2.61" fill="#fafafa" stroke="#a2a2a2" stroke-width="0.75"/>
<circle cx="481.37" cy="131.93" r="2.89" fill="#fafafa" stroke="#a2a2a2" stroke-width="0.75"/>
<circle cx="455.15" cy="119.65" r="3.12" fill="#fafafa" stroke="#a2a2a2" stroke-width="0.75"/>
<circle cx="427.05" cy="149.24" r="2.76" fill="#fafafa" stroke="#a2a2a2" stroke-width="0.75"/>
<circle cx="428.43" cy="109.25" r="2.52" fill="#fafafa" stroke="#a2a2a2" stroke-width="0.75"/>
<circle cx="400.43" cy="201.33" r="2.64" fill="#fafafa" stroke="#a2a2a2" stroke-width="0.75"/>
<circle cx="410.82" cy="193.7" r="2.76" fill="#fafafa" stroke="#a2a2a2" stroke-width="0.75"/>
<circle cx="458.38" cy="205.77" r="2.53" fill="#fafafa" stroke="#a2a2a2" stroke-width="0.75"/>
<circle cx="437.21" cy="129.68" r="2.64" fill="#fafafa" stroke="#a2a2a2" stroke-width="0.75"/>
<circle cx="415.27" cy="132.33" r="2.77" fill="#fafafa" stroke="#a2a2a2" stroke-width="0.75"/>
<circle cx="441.54" cy="164.11" r="3.19" fill="#fafafa" stroke="#a2a2a2" stroke-width="0.75"/>
<circle cx="434.43" cy="188.11" r="3.18" fill="#fafafa" stroke="#a2a2a2" stroke-width="0.75"/>
<circle cx="484.39" cy="162.64" r="2.54" fill="#fafafa" stroke="#a2a2a2" stroke-width="0.75"/>
<circle cx="498.7" cy="154.87" r="3.12" fill="#fafafa" stroke="#a2a2a2" stroke-width="0.75"/>
<circle cx="431.3" cy="172.78" r="3.19" fill="#fafafa" stroke="#a2a2a2" stroke-width="0.75"/>
<circle cx="409" cy="201.82" r="3.02" fill="#fafafa" stroke="#a2a2a2" stroke-width="0.75"/>
<circle cx="483.91" cy="197.9" r="2.79" fill="#fafafa" stroke="#a2a2a2" stroke-width="0.75"/>
<circle cx="437.58" cy="170.6" r="2.72" fill="#fafafa" stroke="#a2a2a2" stroke-width="0.75"/>
<circle cx="469.67" cy="154.84" r="2.9" fill="#fafafa" stroke="#a2a2a2" stroke-width="0.75"/>
<circle cx="478.14" cy="131.47" r="3.05" fill="#fafafa" stroke="#a2a2a2" stroke-width="0.75"/>
<circle cx="398.09" cy="174.56" r="3.02" fill="#fafafa" stroke="#a2a2a2" stroke-width="0.75"/>
<circle cx="470.71" cy="173.43" r="3.02" fill="#fafafa" stroke="#a2a2a2" stroke-width="0.75"/>
<circle cx="456.92" cy="190.93" r="2.75" fill="#fafafa" stroke="#a2a2a2" stroke-width="0.75"/>
<circle cx="415.97" cy="166.89" r="3.15" fill="#fafafa" stroke="#a2a2a2" stroke-width="0.75"/>
<circle cx="459.27" cy="127.84" r="3.2" fill="#fafafa" stroke="#a2a2a2" stroke-width="0.75"/>
<circle cx="499.83" cy="219.5" r="3.13" fill="#fafafa" stroke="#a2a2a2" stroke-width="0.75"/>
<circle cx="480.24" cy="109.23" r="2.97" fill="#fafafa" stroke="#a2a2a2" stroke-width="0.75"/>
<circle cx="418.48" cy="124.46" r="3.06" fill="#fafafa" stroke="#a2a2a2" stroke-width="0.75"/>
<circle cx="430.58" cy="180.94" r="3" fill="#fafafa" stroke="#a2a2a2" stroke-width="0.75"/>
<circle cx="490.73" cy="117.98" r="2.75" fill="#fafafa" stroke="#a2a2a2" stroke-width="0.75"/>
<circle cx="396.53" cy="116.44" r="3.02" fill="#fafafa" stroke="#a2a2a2" stroke-width="0.75"/>
<circle cx="428.33" cy="189.09" r="2.77" fill="#fafafa" stroke="#a2a2a2" stroke-width="0.75"/>
<circle cx="490.07" cy="138.84" r="2.63" fill="#fafafa" stroke="#a2a2a2" stroke-width="0.75"/>
<circle cx="449.87" cy="204.89" r="2.95" fill="#fafafa" stroke="#a2a2a2" stroke-width="0.75"/>
<circle cx="445.59" cy="209.37" r="3.19" fill="#fafafa" stroke="#a2a2a2" stroke-width="0.75"/>
<circle cx="418.38" cy="129.1" r="2.8" fill="#fafafa" stroke="#a2a2a2" stroke-width="0.75"/>
<circle cx="466.88" cy="150.61" r="2.65" fill="#fafafa" stroke="#a2a2a2" stroke-width="0.75"/>
<circle cx="454.23" cy="141.93" r="2.61" fill="#fafafa" stroke="#a2a2a2" stroke-width="0.75"/>
<circle cx="469.71" cy="116.53" r="3.02" fill="#fafafa" stroke="#a2a2a2" stroke-width="0.75"/>
<circle cx="476.45" cy="176.73" r="3.07" fill="#fafafa" stroke="#a2a2a2" stroke-width="0.75"/>
<circle cx="416.86" cy="180.67" r="2.59" fill="#fafafa" stroke="#a2a2a2" stroke-width="0.75"/>
<circle cx="460.53" cy="199.15" r="2.68" fill="#fafafa" stroke="#a2a2a2" stroke-width="0.75"/>
<circle cx="442.72" cy="155.78" r="2.8" fill="#fafafa" stroke="#a2a2a2" stroke-width="0.75"/>
<circle cx="497.26" cy="175" r="2.59" fill="#fafafa" stroke="#a2a2a2" stroke-width="0.75"/>
<circle cx="441.62" cy="133.38" r="3.11" fill="#fafafa" stroke="#a2a2a2" stroke-width="0.75"/>
<circle cx="442.57" cy="109.47" r="2.75" fill="#fafafa" stroke="#a2a2a2" stroke-width="0.75"/>
<circle cx="498.69" cy="111.31" r="2.86" fill="#fafafa" stroke="#a2a2a2" stroke-width="0.75"/>
<circle cx="477.27" cy="120.33" r="2.82" fill="#fafafa" stroke="#a2a2a2" stroke-width="0.75"/>
<circle cx="424.1" cy="128.45" r="2.93" fill="#fafafa" stroke="#a2a2a2" stroke-width="0.75"/>
<circle cx="494.42" cy="205.24" r="2.93" fill="#fafafa" stroke="#a2a2a2" stroke-width="0.75"/>
<circle cx="423.48" cy="165.29" r="2.58" fill="#fafafa" stroke="#a2a2a2" stroke-width="0.75"/>
<circle cx="404.2" cy="206.3" r="3.04" fill="#fafafa" stroke="#a2a2a2" stroke-width="0.75"/>
<circle cx="476.67" cy="197.92" r="3.15" fill="#fafafa" stroke="#a2a2a2" stroke-width="0.75"/>
<circle cx="451.11" cy="128.7" r="3.12" fill="#fafafa" stroke="#a2a2a2" stroke-width="0.75"/>
<circle cx="466.6" cy="123.29" r="2.74" fill="#fafafa" stroke="#a2a2a2" stroke-width="0.75"/>
<circle cx="491.28" cy="177.16" r="2.84" fill="#fafafa" stroke="#a2a2a2" stroke-width="0.75"/>
<circle cx="492.41" cy="186.09" r="2.56" fill="#fafafa" stroke="#a2a2a2" stroke-width="0.75"/>
<circle cx="489.85" cy="216.32" r="2.91" fill="#fafafa" stroke="#a2a2a2" stroke-width="0.75"/>
<circle cx="473.07" cy="116.78" r="3.04" fill="#fafafa" stroke="#a2a2a2" stroke-width="0.75"/>
<circle cx="488.46" cy="155.92" r="2.76" fill="#fafafa" stroke="#a2a2a2" stroke-width="0.75"/>
<circle cx="441.08" cy="219.09" r="3.15" fill="#fafafa" stroke="#a2a2a2" stroke-width="0.75"/>
<circle cx="465.85" cy="200.14" r="2.52" fill="#fafafa" stroke="#a2a2a2" stroke-width="0.75"/>
<circle cx="396.77" cy="210.72" r="2.76" fill="#fafafa" stroke="#a2a2a2" stroke-width="0.75"/>
<circle cx="417.68" cy="191.18" r="3.06" fill="#fafafa" stroke="#a2a2a2" stroke-width="0.75"/>
<circle cx="400.55" cy="124.5" r="2.77" fill="#fafafa" stroke="#a2a2a2" stroke-width="0.75"/>
<circle cx="423.24" cy="210.22" r="3.16" fill="#fafafa" stroke="#a2a2a2" stroke-width="0.75"/>
<circle cx="462.47" cy="146.7" r="2.85" fill="#fafafa" stroke="#a2a2a2" stroke-width="0.75"/>
<circle cx="466.93" cy="117.4" r="2.7" fill="#fafafa" stroke="#a2a2a2" stroke-width="0.75"/>
<circle cx="463.81" cy="208.66" r="2.95" fill="#fafafa" stroke="#a2a2a2" stroke-width="0.75"/>
<circle cx="477.36" cy="161.94" r="2.95" fill="#fafafa" stroke="#a2a2a2" stroke-width="0.75"/>
<circle cx="404.52" cy="161.6" r="2.91" fill="#fafafa" stroke="#a2a2a2" stroke-width="0.75"/>
<circle cx="483.52" cy="172.27" r="2.82" fill="#fafafa" stroke="#a2a2a2" stroke-width="0.75"/>
<circle cx="401.34" cy="154.37" r="3.15" fill="#fafafa" stroke="#a2a2a2" stroke-width="0.75"/>
<circle cx="458.3" cy="151.21" r="2.86" fill="#fafafa" stroke="#a2a2a2" stroke-width="0.75"/>
<circle cx="436.6" cy="198.07" r="2.66" fill="#fafafa" stroke="#a2a2a2" stroke-width="0.75"/>
<circle cx="416.72" cy="109.26" r="2.94" fill="#fafafa" stroke="#a2a2a2" stroke-width="0.75"/>
<circle cx="448.58" cy="209.73" r="3.09" fill="#fafafa" stroke="#a2a2a2" stroke-width="0.75"/>
<circle cx="453.75" cy="210.1" r="2.57" fill="#fafafa" stroke="#a2a2a2" stroke-width="0.75"/>
<circle cx="461.33" cy="152.38" r="3.18" fill="#fafafa" stroke="#a2a2a2" stroke-width="0.75"/>
<circle cx="444.39" cy="144.22" r="2.65" fill="#fafafa" stroke="#a2a2a2" stroke-width="0.75"/>
<circle cx="502.17" cy="140.65" r="2.73" fill="#fafafa" stroke="#a2a2a2" stroke-width="0.75"/>
<circle cx="416.43" cy="175.61" r="3.05" fill="#fafafa" stroke="#a2a2a2" stroke-width="0.75"/>
<circle cx="467.02" cy="143.32" r="2.76" fill="#fafafa" stroke="#a2a2a2" stroke-width="0.75"/>
<circle cx="426.08" cy="122.65" r="2.91" fill="#fafafa" stroke="#a2a2a2" stroke-width="0.75"/>
<circle cx="439.52" cy="126.74" r="2.99" fill="#fafafa" stroke="#a2a2a2" stroke-width="0.75"/>
<circle cx="411.75" cy="219.42" r="2.83" fill="#fafafa" stroke="#a2a2a2" stroke-width="0.75"/>
<circle cx="507.06" cy="131.04" r="3.18" fill="#fafafa" stroke="#a2a2a2" stroke-width="0.75"/>
<circle cx="414.22" cy="128.4" r="2.59" fill="#fafafa" stroke="#a2a2a2" stroke-width="0.75"/>
<circle cx="485.17" cy="211.1" r="2.94" fill="#fafafa" stroke="#a2a2a2" stroke-width="0.75"/>
<circle cx="499.32" cy="126.78" r="2.92" fill="#fafafa" stroke="#a2a2a2" stroke-width="0.75"/>
<circle cx="404" cy="117" r="2.8" fill="#d45656" stroke="#b03a3a" stroke-width="0.6"/>
<circle cx="408" cy="119" r="3" fill="#d45656" stroke="#b03a3a" stroke-width="0.6"/>
<circle cx="412" cy="121" r="2.6" fill="#d45656" stroke="#b03a3a" stroke-width="0.6"/>
<circle cx="416" cy="123" r="2.4" fill="#d45656" stroke="#b03a3a" stroke-width="0.6"/>
<circle cx="409" cy="137" r="2.8" fill="#d45656" stroke="#b03a3a" stroke-width="0.6"/>
<circle cx="413" cy="139" r="2.5" fill="#d45656" stroke="#b03a3a" stroke-width="0.6"/>
<circle cx="399" cy="144" r="2.6" fill="#d45656" stroke="#b03a3a" stroke-width="0.6"/>
<circle cx="486" cy="110" r="2.8" fill="#d45656" stroke="#b03a3a" stroke-width="0.6"/>
<circle cx="489" cy="112" r="2.6" fill="#d45656" stroke="#b03a3a" stroke-width="0.6"/>
<circle cx="487" cy="107" r="2.3" fill="#d45656" stroke="#b03a3a" stroke-width="0.6"/>
<circle cx="470" cy="203" r="2.6" fill="#d45656" stroke="#b03a3a" stroke-width="0.6"/>
<circle cx="473" cy="205" r="2.6" fill="#d45656" stroke="#b03a3a" stroke-width="0.6"/>
<circle cx="413" cy="213" r="2.6" fill="#d45656" stroke="#b03a3a" stroke-width="0.6"/>
<circle cx="416" cy="215" r="2.6" fill="#d45656" stroke="#b03a3a" stroke-width="0.6"/>
<circle cx="406" cy="173" r="1.8" fill="#5050d8" stroke="#3030a8" stroke-width="0.5"/>
<circle cx="409" cy="175.5" r="1.8" fill="#5050d8" stroke="#3030a8" stroke-width="0.5"/>
<circle cx="411" cy="172.5" r="1.5" fill="#5050d8" stroke="#3030a8" stroke-width="0.5"/>
<circle cx="444" cy="183" r="1.8" fill="#5050d8" stroke="#3030a8" stroke-width="0.5"/>
<circle cx="447" cy="185.5" r="1.9" fill="#5050d8" stroke="#3030a8" stroke-width="0.5"/>
<circle cx="449" cy="182" r="1.4" fill="#5050d8" stroke="#3030a8" stroke-width="0.5"/>
<circle cx="463" cy="191.5" r="1.6" fill="#5050d8" stroke="#3030a8" stroke-width="0.5"/>
<circle cx="466" cy="193.5" r="1.6" fill="#5050d8" stroke="#3030a8" stroke-width="0.5"/>
</g>
<rect x="395.5" y="108.0" width="112.69999999999999" height="112.5" fill="none" stroke="#111" stroke-width="1.3"/>
<text x="0.8" y="14.6" style="font-weight:bold;font-size:24px">a</text>
<rect x="112.4" y="286.34999999999997" width="57.099999999999994" height="25.450000000000024" fill="#ebebeb"/>
<rect x="255.4" y="183.55" width="57.599999999999994" height="128.25" fill="#ebebeb"/>
<rect x="398.8" y="286.34999999999997" width="57.5" height="25.450000000000024" fill="#ebebeb"/>
<line x1="112.4" y1="284.2" x2="112.4" y2="311.8" stroke="#000" stroke-width="1.1" stroke-dasharray="4 2.4"/>
<line x1="112.4" y1="276.2" x2="112.4" y2="286.34999999999997" stroke="#000" stroke-width="1.7"/>
<line x1="112.4" y1="308.8" x2="112.4" y2="319.3" stroke="#000" stroke-width="1.7"/>
<line x1="169.5" y1="284.2" x2="169.5" y2="311.8" stroke="#000" stroke-width="1.1" stroke-dasharray="4 2.4"/>
<line x1="169.5" y1="276.2" x2="169.5" y2="286.34999999999997" stroke="#000" stroke-width="1.7"/>
<line x1="169.5" y1="308.8" x2="169.5" y2="319.3" stroke="#000" stroke-width="1.7"/>
<line x1="255.4" y1="181.4" x2="255.4" y2="311.8" stroke="#000" stroke-width="1.1" stroke-dasharray="4 2.4"/>
<line x1="255.4" y1="173.4" x2="255.4" y2="183.55" stroke="#000" stroke-width="1.7"/>
<line x1="255.4" y1="308.8" x2="255.4" y2="319.3" stroke="#000" stroke-width="1.7"/>
<line x1="313.0" y1="181.4" x2="313.0" y2="311.8" stroke="#000" stroke-width="1.1" stroke-dasharray="4 2.4"/>
<line x1="313.0" y1="173.4" x2="313.0" y2="183.55" stroke="#000" stroke-width="1.7"/>
<line x1="313.0" y1="308.8" x2="313.0" y2="319.3" stroke="#000" stroke-width="1.7"/>
<line x1="398.8" y1="284.2" x2="398.8" y2="311.8" stroke="#000" stroke-width="1.1" stroke-dasharray="4 2.4"/>
<line x1="398.8" y1="276.2" x2="398.8" y2="286.34999999999997" stroke="#000" stroke-width="1.7"/>
<line x1="398.8" y1="308.8" x2="398.8" y2="319.3" stroke="#000" stroke-width="1.7"/>
<line x1="456.3" y1="284.2" x2="456.3" y2="311.8" stroke="#000" stroke-width="1.1" stroke-dasharray="4 2.4"/>
<line x1="456.3" y1="276.2" x2="456.3" y2="286.34999999999997" stroke="#000" stroke-width="1.7"/>
<line x1="456.3" y1="308.8" x2="456.3" y2="319.3" stroke="#000" stroke-width="1.7"/>
<line x1="112.4" y1="284.2" x2="169.5" y2="284.2" stroke="#000" stroke-width="4.3"/>
<line x1="255.4" y1="181.4" x2="313.0" y2="181.4" stroke="#000" stroke-width="4.3"/>
<line x1="398.8" y1="284.2" x2="456.3" y2="284.2" stroke="#000" stroke-width="4.3"/>
<line x1="112.4" y1="311.8" x2="456.3" y2="311.8" stroke="#000" stroke-width="1.8"/>
<line x1="169.5" y1="284.2" x2="248.34" y2="191.03" stroke="#000" stroke-width="1.55"/>
<path d="M254.8,183.4 L250.13,195.43 L248.34,191.03 L243.71,190 Z" fill="#000"/>
<line x1="313" y1="181.4" x2="392.03" y2="274.57" stroke="#000" stroke-width="1.55"/>
<path d="M398.5,282.2 L387.41,275.61 L392.03,274.57 L393.81,270.18 Z" fill="#000"/>
<line x1="94.9" y1="311.6" x2="94.9" y2="298.3" stroke="#000" stroke-width="1.5"/>
<path d="M94.9,287 L99.4,300.5 L94.9,298.3 L90.4,300.5 Z" fill="#000"/>
<line x1="393.1" y1="337.3" x2="406.4" y2="337.3" stroke="#000" stroke-width="1.4"/>
<path d="M418.1,337.3 L403.8,341.5 L406.4,337.3 L403.8,333.1 Z" fill="#000"/>
<line x1="283.9" y1="412.2" x2="283.9" y2="424.6" stroke="#000" stroke-width="1.5"/>
<path d="M283.9,436.4 L279.6,422.8 L283.9,424.6 L288.2,422.8 Z" fill="#000"/>
<path d="M112.0,348.0 Q112.0,356.1 120.0,356.1 L275.7,356.1 Q284.2,356.1 284.2,364.3 Q284.2,356.1 292.7,356.1 L448.4,356.1 Q456.4,356.1 456.4,348.0" fill="none" stroke="#000" stroke-width="1.6" stroke-linecap="round"/>
<text x="284.2" y="149.3" text-anchor="middle" style="font-size:17.1px">Liquid</text>
<text x="284.2" y="166.7" text-anchor="middle" style="font-size:17.1px">(1,800 K)</text>
<text x="141.0" y="251.9" text-anchor="middle" style="font-size:17.1px">Defective <tspan style="font-weight:bold">dia</tspan></text>
<text x="141.3" y="269.4" text-anchor="middle" style="font-size:17.1px">(300 K)</text>
<text x="427.0" y="251.9" text-anchor="middle" style="font-size:16.5px">Amorphous</text>
<text x="426.8" y="269.4" text-anchor="middle" style="font-size:17.1px">(300 K)</text>
<text transform="translate(83.6,323) rotate(-90)" style="font-size:18.8px">Temp.</text>
<text x="193" y="341.6" style="font-size:18.5px">Progress of simulation</text>
<text x="285" y="385.8" text-anchor="middle" style="font-size:17.1px;font-style:italic">Take snapshots at fixed intervals;</text>
<text x="285" y="402.5" text-anchor="middle" style="font-size:17.1px;font-style:italic">evaluate with ground-truth method (DFT)</text>
<defs><linearGradient id="cb1"><stop offset="0" stop-color="#1c1cff"/><stop offset="1" stop-color="#4a4aec"/></linearGradient><linearGradient id="cb2"><stop offset="0" stop-color="#8c8cf0"/><stop offset="1" stop-color="#fbfbff"/></linearGradient><linearGradient id="cb3"><stop offset="0" stop-color="#fcf0f0"/><stop offset="1" stop-color="#e59a9a"/></linearGradient><linearGradient id="cb4"><stop offset="0" stop-color="#e06c6c"/><stop offset="1" stop-color="#e41c1c"/></linearGradient></defs>
<rect x="395.4" y="70" width="28.200000000000045" height="10.8" fill="url(#cb1)"/>
<rect x="423.6" y="70" width="28.099999999999966" height="10.8" fill="url(#cb2)"/>
<rect x="451.7" y="70" width="28.0" height="10.8" fill="url(#cb3)"/>
<rect x="479.7" y="70" width="27.69999999999999" height="10.8" fill="url(#cb4)"/>
<rect x="395.4" y="70" width="112" height="10.8" fill="none" stroke="#000" stroke-width="1.2"/>
<line x1="423.6" y1="70" x2="423.6" y2="80.8" stroke="#000" stroke-width="1.2"/>
<line x1="451.7" y1="70" x2="451.7" y2="80.8" stroke="#000" stroke-width="1.2"/>
<line x1="479.7" y1="70" x2="479.7" y2="80.8" stroke="#000" stroke-width="1.2"/>
<text x="450.5" y="46.8" text-anchor="middle" style="font-size:13.8px">Coordination number</text>
<text x="395.9" y="64.6" text-anchor="middle" style="font-size:13.8px">≤ 2</text>
<text x="424.2" y="64.6" text-anchor="middle" style="font-size:13.8px">3</text>
<text x="451.6" y="64.6" text-anchor="middle" style="font-size:13.8px">4</text>
<text x="479.5" y="64.6" text-anchor="middle" style="font-size:13.8px">5</text>
<text x="507.1" y="64.6" text-anchor="middle" style="font-size:13.8px">≥ 6</text>
<rect x="112.4" y="457.7" width="57.32" height="204.7" fill="#ebebeb"/>
<rect x="255.7" y="457.7" width="57.32" height="204.7" fill="#ebebeb"/>
<rect x="399" y="457.7" width="57.32" height="204.7" fill="#ebebeb"/>
<line x1="112.4" y1="457.7" x2="112.4" y2="662.4" stroke="#000" stroke-width="1.05" stroke-dasharray="4.1 2.3"/>
<line x1="169.72" y1="457.7" x2="169.72" y2="662.4" stroke="#000" stroke-width="1.05" stroke-dasharray="4.1 2.3"/>
<line x1="255.7" y1="457.7" x2="255.7" y2="662.4" stroke="#000" stroke-width="1.05" stroke-dasharray="4.1 2.3"/>
<line x1="313.02" y1="457.7" x2="313.02" y2="662.4" stroke="#000" stroke-width="1.05" stroke-dasharray="4.1 2.3"/>
<line x1="399" y1="457.7" x2="399" y2="662.4" stroke="#000" stroke-width="1.05" stroke-dasharray="4.1 2.3"/>
<line x1="456.32" y1="457.7" x2="456.32" y2="662.4" stroke="#000" stroke-width="1.05" stroke-dasharray="4.1 2.3"/>
<polyline points="112.4,606 118.13,642.4 123.86,644.4 129.6,645.5 135.33,645 141.06,643.7 146.79,645 152.52,644.4 158.26,641.7 163.99,641.7 169.72,639.6 175.45,641.5 181.18,641 186.92,644.2 192.65,644.8 198.38,633.3 204.11,639 209.84,637.1 215.58,632.3 221.31,636.2 227.04,640.4 232.77,628.5 238.5,622.7 244.24,644.8 249.97,606.3 255.7,607 261.43,572.3 267.16,512.3 272.9,544.6 278.63,552.3 284.36,581.5 290.09,533 295.82,620.8 301.56,593.8 307.29,638.5 313.02,586.8 318.75,510.4 324.48,552.3 330.22,489.9 335.95,542.4 341.68,568.7 347.41,542.4 353.14,510.4 358.88,581.9 364.61,607.5 370.34,612.5 376.07,635.5 381.8,619.4 387.54,616.5 393.27,604.6 399,612.7 404.73,631.5 410.46,622.7 416.2,631.5 421.93,624.2 427.66,626.2 433.39,631.9 439.12,631 444.86,630 450.59,632.3 456.32,625.2" fill="none" stroke="#a0a0a0" stroke-width="2.1" stroke-linejoin="round" stroke-linecap="round"/>
<polyline points="112.4,612.8 118.13,639.7 123.86,642.8 129.6,641 135.33,640.4 141.06,639.7 146.79,642.8 152.52,639.7 158.26,644.4 163.99,645 169.72,646 175.45,641.5 181.18,642 186.92,641 192.65,641.5 198.38,632.7 204.11,640.4 209.84,641.5 215.58,630.8 221.31,640.4 227.04,642.3 232.77,626.2 238.5,622.7 244.24,629.4 249.97,626.9 255.7,624.2 261.43,581.5 267.16,560.8 272.9,561.5 278.63,544.6 284.36,564.6 290.09,552.3 295.82,598.5 301.56,564.6 307.29,561.5 313.02,568.2 318.75,564.6 324.48,554.8 330.22,552.3 335.95,549 341.68,534.2 347.41,519.4 353.14,519.4 358.88,554 364.61,596.7 370.34,601.6 376.07,608 381.8,609 387.54,604 393.27,608.8 399,611.7 404.73,623.8 410.46,620.4 416.2,615.6 421.93,613.7 427.66,611.7 433.39,623.3 439.12,626.2 444.86,621.3 450.59,616.5 456.32,614.2" fill="none" stroke="#000" stroke-width="2.3" stroke-linejoin="round" stroke-linecap="round"/>
<polyline points="112.4,612.8 118.13,639.7 123.86,642.8 129.6,641 135.33,640.4 141.06,639.7 146.79,642.8 152.52,639.7 158.26,644.4 163.99,645 169.72,646 175.45,641.5 181.18,640.4 186.92,639 192.65,640.4 198.38,632.7 204.11,638 209.84,636.5 215.58,630.8 221.31,637.1 227.04,642.3 232.77,626.2 238.5,622.7 244.24,629.4 249.97,626.9 255.7,624.2 261.43,581.5 267.16,560.8 272.9,562.3 278.63,556.9 284.36,570 290.09,548.5 295.82,593.8 301.56,575.4 307.29,573 313.02,578.5 318.75,547.6 324.48,563 330.22,554.8 335.95,549 341.68,535.9 347.41,522.7 353.14,520.3 358.88,555.6 364.61,595 370.34,601.4 376.07,612.2 381.8,610.4 387.54,608.5 393.27,609.8 399,613.7 404.73,623.8 410.46,620.4 416.2,615.6 421.93,613.7 427.66,611.7 433.39,624.2 439.12,626.2 444.86,621.3 450.59,616.5 456.32,614.2" fill="none" stroke="#2a36c8" stroke-width="2.5" stroke-linejoin="round" stroke-linecap="round"/>
<rect x="98.4" y="473.6" width="142.4" height="68.3" fill="#fff" stroke="#000" stroke-width="1.3"/>
<line x1="110" y1="488.7" x2="130" y2="488.7" stroke="#000" stroke-width="2.2"/>
<text x="138" y="493.9" style="font-size:14.2px">Original model</text>
<line x1="110" y1="506.6" x2="130" y2="506.6" stroke="#2a36c8" stroke-width="2.2"/>
<text x="138" y="511.8" style="font-size:14.2px">Candidate 1</text>
<line x1="110" y1="524.5" x2="130" y2="524.5" stroke="#a0a0a0" stroke-width="2.2"/>
<text x="138" y="529.7" style="font-size:14.2px">Candidate 2</text>
<rect x="83.5" y="457.7" width="401.1" height="204.7" fill="none" stroke="#000" stroke-width="1.5"/>
<line x1="83.5" y1="646.64" x2="93" y2="646.64" stroke="#000" stroke-width="1.3"/>
<line x1="484.6" y1="646.64" x2="475.1" y2="646.64" stroke="#000" stroke-width="1.3"/>
<line x1="83.5" y1="630.88" x2="89.5" y2="630.88" stroke="#000" stroke-width="1.3"/>
<line x1="484.6" y1="630.88" x2="478.6" y2="630.88" stroke="#000" stroke-width="1.3"/>
<line x1="83.5" y1="615.12" x2="89.5" y2="615.12" stroke="#000" stroke-width="1.3"/>
<line x1="484.6" y1="615.12" x2="478.6" y2="615.12" stroke="#000" stroke-width="1.3"/>
<line x1="83.5" y1="599.36" x2="89.5" y2="599.36" stroke="#000" stroke-width="1.3"/>
<line x1="484.6" y1="599.36" x2="478.6" y2="599.36" stroke="#000" stroke-width="1.3"/>
<line x1="83.5" y1="583.6" x2="93" y2="583.6" stroke="#000" stroke-width="1.3"/>
<line x1="484.6" y1="583.6" x2="475.1" y2="583.6" stroke="#000" stroke-width="1.3"/>
<line x1="83.5" y1="567.84" x2="89.5" y2="567.84" stroke="#000" stroke-width="1.3"/>
<line x1="484.6" y1="567.84" x2="478.6" y2="567.84" stroke="#000" stroke-width="1.3"/>
<line x1="83.5" y1="552.08" x2="89.5" y2="552.08" stroke="#000" stroke-width="1.3"/>
<line x1="484.6" y1="552.08" x2="478.6" y2="552.08" stroke="#000" stroke-width="1.3"/>
<line x1="83.5" y1="536.32" x2="89.5" y2="536.32" stroke="#000" stroke-width="1.3"/>
<line x1="484.6" y1="536.32" x2="478.6" y2="536.32" stroke="#000" stroke-width="1.3"/>
<line x1="83.5" y1="520.56" x2="93" y2="520.56" stroke="#000" stroke-width="1.3"/>
<line x1="484.6" y1="520.56" x2="475.1" y2="520.56" stroke="#000" stroke-width="1.3"/>
<line x1="83.5" y1="504.8" x2="89.5" y2="504.8" stroke="#000" stroke-width="1.3"/>
<line x1="484.6" y1="504.8" x2="478.6" y2="504.8" stroke="#000" stroke-width="1.3"/>
<line x1="83.5" y1="489.04" x2="89.5" y2="489.04" stroke="#000" stroke-width="1.3"/>
<line x1="484.6" y1="489.04" x2="478.6" y2="489.04" stroke="#000" stroke-width="1.3"/>
<line x1="83.5" y1="473.28" x2="89.5" y2="473.28" stroke="#000" stroke-width="1.3"/>
<line x1="484.6" y1="473.28" x2="478.6" y2="473.28" stroke="#000" stroke-width="1.3"/>
<line x1="227.04" y1="662.4" x2="227.04" y2="656.9" stroke="#000" stroke-width="1.3"/>
<line x1="227.04" y1="457.7" x2="227.04" y2="463.2" stroke="#000" stroke-width="1.3"/>
<line x1="284.36" y1="662.4" x2="284.36" y2="656.9" stroke="#000" stroke-width="1.3"/>
<line x1="284.36" y1="457.7" x2="284.36" y2="463.2" stroke="#000" stroke-width="1.3"/>
<line x1="341.68" y1="662.4" x2="341.68" y2="656.9" stroke="#000" stroke-width="1.3"/>
<line x1="341.68" y1="457.7" x2="341.68" y2="463.2" stroke="#000" stroke-width="1.3"/>
<text x="77.6" y="668.3" text-anchor="end" style="font-size:16.4px">0</text>
<text x="77.6" y="600.1" text-anchor="end" style="font-size:16.4px">10</text>
<text x="77.6" y="532" text-anchor="end" style="font-size:16.4px">20</text>
<text x="77.6" y="463.8" text-anchor="end" style="font-size:16.4px">30</text>
<text x="112.4" y="681.6" text-anchor="middle" style="font-size:16.4px">0</text>
<text x="169.72" y="681.6" text-anchor="middle" style="font-size:16.4px">10</text>
<text x="227.04" y="681.6" text-anchor="middle" style="font-size:16.4px">20</text>
<text x="284.36" y="681.6" text-anchor="middle" style="font-size:16.4px">30</text>
<text x="341.68" y="681.6" text-anchor="middle" style="font-size:16.4px">40</text>
<text x="399" y="681.6" text-anchor="middle" style="font-size:16.4px">50</text>
<text x="456.32" y="681.6" text-anchor="middle" style="font-size:16.4px">60</text>
<text x="284.2" y="702.6" text-anchor="middle" style="font-size:18.2px">Benchmark snapshot</text>
<text transform="translate(44.8,561.9) rotate(-90)" text-anchor="middle" style="font-size:19.1px">Energy error (meV at.<tspan dy="-5.8" style="font-size:12.5px">−1</tspan><tspan dy="5.8">)</tspan></text>
<text x="1.0" y="463.3" style="font-weight:bold;font-size:24px">b</text>
<rect x="112.4" y="723.5" width="57.32" height="204.9" fill="#ebebeb"/>
<rect x="255.7" y="723.5" width="57.32" height="204.9" fill="#ebebeb"/>
<rect x="399" y="723.5" width="57.32" height="204.9" fill="#ebebeb"/>
<line x1="112.4" y1="723.5" x2="112.4" y2="928.4" stroke="#000" stroke-width="1.05" stroke-dasharray="4.1 2.3"/>
<line x1="169.72" y1="723.5" x2="169.72" y2="928.4" stroke="#000" stroke-width="1.05" stroke-dasharray="4.1 2.3"/>
<line x1="255.7" y1="723.5" x2="255.7" y2="928.4" stroke="#000" stroke-width="1.05" stroke-dasharray="4.1 2.3"/>
<line x1="313.02" y1="723.5" x2="313.02" y2="928.4" stroke="#000" stroke-width="1.05" stroke-dasharray="4.1 2.3"/>
<line x1="399" y1="723.5" x2="399" y2="928.4" stroke="#000" stroke-width="1.05" stroke-dasharray="4.1 2.3"/>
<line x1="456.32" y1="723.5" x2="456.32" y2="928.4" stroke="#000" stroke-width="1.05" stroke-dasharray="4.1 2.3"/>
<polyline points="112.4,903.8 118.13,900.8 123.86,900 129.6,900.4 135.33,901.3 141.06,901.3 146.79,901.9 152.52,900.4 158.26,900.8 163.99,901.3 169.72,899.8 175.45,899.4 181.18,899.4 186.92,894.6 192.65,890.8 198.38,887.1 204.11,889.3 209.84,892.3 215.58,887 221.31,885 227.04,884 232.77,880.2 238.5,871.5 244.24,862 249.97,862 255.7,858 261.43,827.3 267.16,760.5 272.9,768.7 278.63,763 284.36,763.8 290.09,757.9 295.82,760.8 301.56,770.4 307.29,761.7 313.02,763.7 318.75,758.8 324.48,772.7 330.22,769.4 335.95,784.8 341.68,781.5 347.41,795.4 353.14,806.9 358.88,834.8 364.61,843.3 370.34,847 376.07,848 381.8,846.3 387.54,850.2 393.27,854 399,853 404.73,853.5 410.46,853.5 416.2,854 421.93,855.4 427.66,856.5 433.39,854.6 439.12,855 444.86,855.6 450.59,856.9 456.32,855" fill="none" stroke="#a0a0a0" stroke-width="2.1" stroke-linejoin="round" stroke-linecap="round"/>
<polyline points="112.4,911 118.13,910.4 123.86,909.6 129.6,910.4 135.33,911 141.06,911 146.79,912 152.52,910.4 158.26,911 163.99,911.5 169.72,912 175.45,911 181.18,910.4 186.92,909 192.65,908.5 198.38,908.5 204.11,907.5 209.84,907 215.58,907.7 221.31,906 227.04,905.2 232.77,903.3 238.5,902 244.24,898.5 249.97,900.4 255.7,895.6 261.43,887 267.16,878.3 272.9,880.2 278.63,880.2 284.36,880.4 290.09,881 295.82,880.4 301.56,880 307.29,881 313.02,876.5 318.75,879 324.48,881 330.22,882.9 335.95,882 341.68,878 347.41,880 353.14,883.8 358.88,885.8 364.61,886.5 370.34,887.5 376.07,888.7 381.8,889.6 387.54,888.7 393.27,889.6 399,891.2 404.73,890.6 410.46,891.2 416.2,890.8 421.93,891.2 427.66,891.2 433.39,891.5 439.12,891.5 444.86,891.2 450.59,890.8 456.32,892" fill="none" stroke="#000" stroke-width="2.3" stroke-linejoin="round" stroke-linecap="round"/>
<polyline points="112.4,911 118.13,910.4 123.86,909.6 129.6,910.4 135.33,911 141.06,911 146.79,912 152.52,910.4 158.26,911 163.99,911.5 169.72,912 175.45,911 181.18,910.4 186.92,909 192.65,907.1 198.38,907 204.11,907.5 209.84,907 215.58,907.7 221.31,906 227.04,905.2 232.77,903.3 238.5,902 244.24,898.5 249.97,900.4 255.7,895.6 261.43,887 267.16,875.4 272.9,876.3 278.63,876.3 284.36,875.8 290.09,874.6 295.82,875.2 301.56,873.8 307.29,874.6 313.02,872.3 318.75,875.2 324.48,877.1 330.22,878.5 335.95,879 341.68,877.1 347.41,879 353.14,882.9 358.88,885.4 364.61,886.5 370.34,887.5 376.07,888.7 381.8,889.6 387.54,888.7 393.27,889.6 399,891.2 404.73,890.6 410.46,891.2 416.2,890.8 421.93,891.2 427.66,891.2 433.39,891.5 439.12,891.5 444.86,891.2 450.59,890.8 456.32,892" fill="none" stroke="#2a36c8" stroke-width="2.5" stroke-linejoin="round" stroke-linecap="round"/>
<rect x="98.4" y="739.6" width="142.4" height="68.3" fill="#fff" stroke="#000" stroke-width="1.3"/>
<line x1="110" y1="754.7" x2="130" y2="754.7" stroke="#000" stroke-width="2.2"/>
<text x="138" y="759.9" style="font-size:14.2px">Original model</text>
<line x1="110" y1="772.6" x2="130" y2="772.6" stroke="#2a36c8" stroke-width="2.2"/>
<text x="138" y="777.8" style="font-size:14.2px">Candidate 1</text>
<line x1="110" y1="790.5" x2="130" y2="790.5" stroke="#a0a0a0" stroke-width="2.2"/>
<text x="138" y="795.7" style="font-size:14.2px">Candidate 2</text>
<rect x="83.5" y="723.5" width="401.1" height="204.9" fill="none" stroke="#000" stroke-width="1.5"/>
<line x1="83.5" y1="915.59" x2="89.5" y2="915.59" stroke="#000" stroke-width="1.3"/>
<line x1="484.6" y1="915.59" x2="478.6" y2="915.59" stroke="#000" stroke-width="1.3"/>
<line x1="83.5" y1="902.79" x2="89.5" y2="902.79" stroke="#000" stroke-width="1.3"/>
<line x1="484.6" y1="902.79" x2="478.6" y2="902.79" stroke="#000" stroke-width="1.3"/>
<line x1="83.5" y1="889.98" x2="89.5" y2="889.98" stroke="#000" stroke-width="1.3"/>
<line x1="484.6" y1="889.98" x2="478.6" y2="889.98" stroke="#000" stroke-width="1.3"/>
<line x1="83.5" y1="877.18" x2="93" y2="877.18" stroke="#000" stroke-width="1.3"/>
<line x1="484.6" y1="877.18" x2="475.1" y2="877.18" stroke="#000" stroke-width="1.3"/>
<line x1="83.5" y1="864.37" x2="89.5" y2="864.37" stroke="#000" stroke-width="1.3"/>
<line x1="484.6" y1="864.37" x2="478.6" y2="864.37" stroke="#000" stroke-width="1.3"/>
<line x1="83.5" y1="851.56" x2="89.5" y2="851.56" stroke="#000" stroke-width="1.3"/>
<line x1="484.6" y1="851.56" x2="478.6" y2="851.56" stroke="#000" stroke-width="1.3"/>
<line x1="83.5" y1="838.76" x2="89.5" y2="838.76" stroke="#000" stroke-width="1.3"/>
<line x1="484.6" y1="838.76" x2="478.6" y2="838.76" stroke="#000" stroke-width="1.3"/>
<line x1="83.5" y1="825.95" x2="93" y2="825.95" stroke="#000" stroke-width="1.3"/>
<line x1="484.6" y1="825.95" x2="475.1" y2="825.95" stroke="#000" stroke-width="1.3"/>
<line x1="83.5" y1="813.15" x2="89.5" y2="813.15" stroke="#000" stroke-width="1.3"/>
<line x1="484.6" y1="813.15" x2="478.6" y2="813.15" stroke="#000" stroke-width="1.3"/>
<line x1="83.5" y1="800.34" x2="89.5" y2="800.34" stroke="#000" stroke-width="1.3"/>
<line x1="484.6" y1="800.34" x2="478.6" y2="800.34" stroke="#000" stroke-width="1.3"/>
<line x1="83.5" y1="787.53" x2="89.5" y2="787.53" stroke="#000" stroke-width="1.3"/>
<line x1="484.6" y1="787.53" x2="478.6" y2="787.53" stroke="#000" stroke-width="1.3"/>
<line x1="83.5" y1="774.73" x2="93" y2="774.73" stroke="#000" stroke-width="1.3"/>
<line x1="484.6" y1="774.73" x2="475.1" y2="774.73" stroke="#000" stroke-width="1.3"/>
<line x1="83.5" y1="761.92" x2="89.5" y2="761.92" stroke="#000" stroke-width="1.3"/>
<line x1="484.6" y1="761.92" x2="478.6" y2="761.92" stroke="#000" stroke-width="1.3"/>
<line x1="83.5" y1="749.12" x2="89.5" y2="749.12" stroke="#000" stroke-width="1.3"/>
<line x1="484.6" y1="749.12" x2="478.6" y2="749.12" stroke="#000" stroke-width="1.3"/>
<line x1="83.5" y1="736.31" x2="89.5" y2="736.31" stroke="#000" stroke-width="1.3"/>
<line x1="484.6" y1="736.31" x2="478.6" y2="736.31" stroke="#000" stroke-width="1.3"/>
<line x1="227.04" y1="928.4" x2="227.04" y2="922.9" stroke="#000" stroke-width="1.3"/>
<line x1="227.04" y1="723.5" x2="227.04" y2="729" stroke="#000" stroke-width="1.3"/>
<line x1="284.36" y1="928.4" x2="284.36" y2="922.9" stroke="#000" stroke-width="1.3"/>
<line x1="284.36" y1="723.5" x2="284.36" y2="729" stroke="#000" stroke-width="1.3"/>
<line x1="341.68" y1="928.4" x2="341.68" y2="922.9" stroke="#000" stroke-width="1.3"/>
<line x1="341.68" y1="723.5" x2="341.68" y2="729" stroke="#000" stroke-width="1.3"/>
<text x="77.6" y="934.3" text-anchor="end" style="font-size:16.4px">0</text>
<text x="77.6" y="883.1" text-anchor="end" style="font-size:16.4px">0.2</text>
<text x="77.6" y="831.85" text-anchor="end" style="font-size:16.4px">0.4</text>
<text x="77.6" y="780.6" text-anchor="end" style="font-size:16.4px">0.6</text>
<text x="77.6" y="729.4" text-anchor="end" style="font-size:16.4px">0.8</text>
<text x="112.4" y="947.3" text-anchor="middle" style="font-size:16.4px">0</text>
<text x="169.72" y="947.3" text-anchor="middle" style="font-size:16.4px">10</text>
<text x="227.04" y="947.3" text-anchor="middle" style="font-size:16.4px">20</text>
<text x="284.36" y="947.3" text-anchor="middle" style="font-size:16.4px">30</text>
<text x="341.68" y="947.3" text-anchor="middle" style="font-size:16.4px">40</text>
<text x="399" y="947.3" text-anchor="middle" style="font-size:16.4px">50</text>
<text x="456.32" y="947.3" text-anchor="middle" style="font-size:16.4px">60</text>
<text x="284.2" y="968.6" text-anchor="middle" style="font-size:18.2px">Benchmark snapshot</text>
<text transform="translate(44.0,824.3) rotate(-90)" text-anchor="middle" style="font-size:18.5px">Force error (eV Å<tspan dy="-5.8" style="font-size:12.3px">−1</tspan><tspan dy="5.8">)</tspan></text>
<text x="1.0" y="729.5" style="font-weight:bold;font-size:24px">c</text>
<path d="M324.2,738.3 C325.2,744.5 329,748.6 336.3,751.3" fill="none" stroke="#d40a0a" stroke-width="3.4" stroke-linecap="round"/>
<path d="M336.1,740.6 C331,743 326,747.6 320.2,751.6" fill="none" stroke="#d40a0a" stroke-width="3.4" stroke-linecap="round"/>
<path d="M318.4,861 C319.3,859.2 321.6,858.4 323.3,859.6 L326.2,864.2 C330.6,856.8 337,850 344.4,844.9 C345.1,844.5 345.6,845.1 345.1,845.6 C338.3,852 332,860 327.8,868.2 C327,869.9 325.1,870.1 324.2,868.9 Z" fill="#42903a"/>
</svg>
</body></html>
